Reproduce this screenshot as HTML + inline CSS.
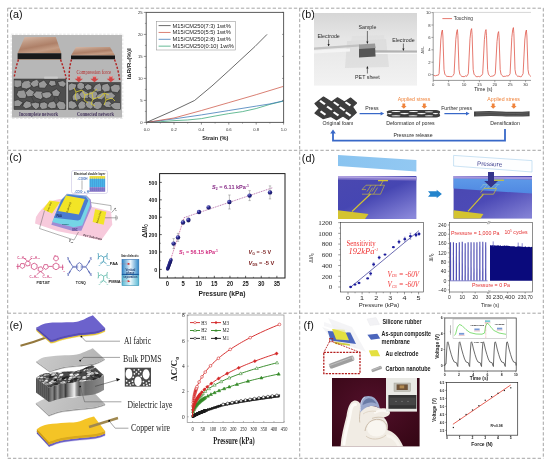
<!DOCTYPE html>
<html><head><meta charset="utf-8"><title>figure</title>
<style>html,body{margin:0;padding:0;background:#fff}svg{display:block}</style></head>
<body>
<svg width="550" height="466" viewBox="0 0 550 466">
<rect width="550" height="466" fill="#ffffff"/>
<line x1="7.70" y1="8.20" x2="543.30" y2="8.20" stroke="#8e8e8e" stroke-width="0.8" stroke-dasharray="3.3 2"/>
<line x1="7.70" y1="150.30" x2="543.30" y2="150.30" stroke="#8e8e8e" stroke-width="0.8" stroke-dasharray="3.3 2"/>
<line x1="7.70" y1="313.20" x2="543.30" y2="313.20" stroke="#8e8e8e" stroke-width="0.8" stroke-dasharray="3.3 2"/>
<line x1="7.70" y1="458.30" x2="543.30" y2="458.30" stroke="#8e8e8e" stroke-width="0.8" stroke-dasharray="3.3 2"/>
<line x1="7.70" y1="8.20" x2="7.70" y2="458.30" stroke="#8e8e8e" stroke-width="0.8" stroke-dasharray="3.3 2"/>
<line x1="299.70" y1="8.20" x2="299.70" y2="458.30" stroke="#8e8e8e" stroke-width="0.8" stroke-dasharray="3.3 2"/>
<line x1="543.30" y1="8.20" x2="543.30" y2="458.30" stroke="#8e8e8e" stroke-width="0.8" stroke-dasharray="3.3 2"/>
<text x="9.30" y="18.20" font-size="10.8" font-family='"Liberation Sans", sans-serif' fill="#111">(a)</text>
<text x="301.60" y="18.00" font-size="10.8" font-family='"Liberation Sans", sans-serif' fill="#111">(b)</text>
<text x="9.30" y="161.40" font-size="10.8" font-family='"Liberation Sans", sans-serif' fill="#111">(c)</text>
<text x="301.80" y="161.80" font-size="10.8" font-family='"Liberation Sans", sans-serif' fill="#111">(d)</text>
<text x="9.50" y="329.00" font-size="10.8" font-family='"Liberation Sans", sans-serif' fill="#111">(e)</text>
<text x="303.60" y="329.00" font-size="10.8" font-family='"Liberation Sans", sans-serif' fill="#111">(f)</text>
<g id="pa">
<rect x="12.00" y="35.00" width="110.00" height="82.60" fill="#b7b7b7" stroke="none" stroke-width="1" />
<rect x="11.20" y="34.20" width="111.60" height="84.20" fill="none" stroke="#c8c8c8" stroke-width="0.5" stroke-dasharray="2.5 1.5"/>
<defs><linearGradient id="cu" x1="0.1" y1="0" x2="0.6" y2="1"><stop offset="0" stop-color="#d4b8a8"/><stop offset="0.3" stop-color="#c09a84"/><stop offset="0.6" stop-color="#ae8068"/><stop offset="0.85" stop-color="#c49c84"/><stop offset="1" stop-color="#b88c70"/></linearGradient></defs>
<polygon points="24.70,37.00 55.80,37.00 61.30,53.30 17.60,53.30" fill="url(#cu)" stroke="none" stroke-width="1" />
<polygon points="17.60,53.30 61.30,53.30 61.30,59.30 17.60,59.30" fill="#1a1a1a" stroke="none" stroke-width="1" />
<line x1="17.60" y1="59.50" x2="61.30" y2="59.50" stroke="#b08868" stroke-width="0.5" />
<polygon points="76.00,47.00 110.00,47.00 115.00,55.60 71.00,55.60" fill="url(#cu)" stroke="none" stroke-width="1" />
<polygon points="71.00,55.60 115.00,55.60 115.00,59.20 71.00,59.20" fill="#161616" stroke="none" stroke-width="1" />
<path d="M18.5,59.5 Q15,70 14.2,78" fill="none" stroke="#b02020" stroke-width="1.4" stroke-dasharray="2.2 1.6"/>
<path d="M60.5,59.5 Q64.5,70 66.3,79" fill="none" stroke="#b02020" stroke-width="1.4" stroke-dasharray="2.2 1.6"/>
<path d="M71.5,59.5 Q68.5,70 69.3,80" fill="none" stroke="#b02020" stroke-width="1.4" stroke-dasharray="2.2 1.6"/>
<path d="M114.5,59.5 Q118.5,70 119.6,80" fill="none" stroke="#b02020" stroke-width="1.4" stroke-dasharray="2.2 1.6"/>
<rect x="14.00" y="79.00" width="52.00" height="30.60" fill="#4e4e4e" stroke="#333" stroke-width="0.5" />
<rect x="68.40" y="82.40" width="52.00" height="27.20" fill="#4e4e4e" stroke="#333" stroke-width="0.5" />
<clipPath id="abx0"><rect x="14.4" y="79.4" width="51.2" height="29.8"/></clipPath><g clip-path="url(#abx0)">
<line x1="35.48" y1="83.06" x2="26.31" y2="84.35" stroke="#2c2c2c" stroke-width="0.4" />
<line x1="42.93" y1="84.91" x2="52.09" y2="83.46" stroke="#2c2c2c" stroke-width="0.4" />
<line x1="29.88" y1="93.46" x2="35.67" y2="105.41" stroke="#2c2c2c" stroke-width="0.4" />
<line x1="38.54" y1="95.18" x2="46.98" y2="94.88" stroke="#2c2c2c" stroke-width="0.4" />
<line x1="46.98" y1="94.88" x2="35.67" y2="105.41" stroke="#2c2c2c" stroke-width="0.4" />
<line x1="55.94" y1="93.25" x2="61.12" y2="105.55" stroke="#2c2c2c" stroke-width="0.4" />
<line x1="17.50" y1="103.37" x2="27.30" y2="104.43" stroke="#2c2c2c" stroke-width="0.4" />
<line x1="27.30" y1="104.43" x2="17.50" y2="103.37" stroke="#2c2c2c" stroke-width="0.4" />
<line x1="35.67" y1="105.41" x2="35.67" y2="105.41" stroke="#2c2c2c" stroke-width="0.4" />
<line x1="52.36" y1="105.22" x2="55.94" y2="93.25" stroke="#2c2c2c" stroke-width="0.4" />
<polygon points="21.27,80.11 22.58,85.78 17.21,87.79 11.61,85.56 13.90,79.93" fill="#989898" stroke="#262626" stroke-width="0.6" stroke-linejoin="round"/>
<polygon points="30.89,87.25 26.42,89.07 21.23,87.83 21.60,83.54 24.30,81.07 28.53,80.34 31.87,83.20" fill="#989898" stroke="#262626" stroke-width="0.6" stroke-linejoin="round"/>
<polygon points="36.95,79.36 39.52,82.35 38.46,85.79 33.77,87.40 29.85,84.04 32.89,80.67" fill="#989898" stroke="#262626" stroke-width="0.6" stroke-linejoin="round"/>
<polygon points="39.14,87.93 38.35,82.90 43.97,79.99 47.43,84.38 44.88,88.21" fill="#989898" stroke="#262626" stroke-width="0.6" stroke-linejoin="round"/>
<polygon points="56.17,85.23 51.50,86.28 48.33,83.92 50.21,80.33 55.40,80.79" fill="#989898" stroke="#262626" stroke-width="0.6" stroke-linejoin="round"/>
<polygon points="66.40,83.58 64.05,87.20 59.47,86.18 57.56,81.93 63.01,80.55" fill="#989898" stroke="#262626" stroke-width="0.6" stroke-linejoin="round"/>
<polygon points="18.14,90.62 23.64,90.03 27.19,93.57 25.60,98.41 19.62,98.36 16.48,94.86" fill="#989898" stroke="#262626" stroke-width="0.6" stroke-linejoin="round"/>
<polygon points="34.51,91.83 32.90,96.33 27.46,96.80 25.20,92.57 29.36,88.63" fill="#989898" stroke="#262626" stroke-width="0.6" stroke-linejoin="round"/>
<polygon points="44.26,95.78 40.79,99.61 35.90,98.06 32.78,94.58 36.45,91.07 42.12,91.28" fill="#989898" stroke="#262626" stroke-width="0.6" stroke-linejoin="round"/>
<polygon points="46.13,98.73 42.60,96.82 41.68,93.00 46.00,91.92 49.62,91.89 52.02,94.70 49.82,97.57" fill="#989898" stroke="#262626" stroke-width="0.6" stroke-linejoin="round"/>
<polygon points="52.92,96.13 51.58,91.73 56.40,88.92 60.41,92.40 58.40,96.62" fill="#989898" stroke="#262626" stroke-width="0.6" stroke-linejoin="round"/>
<polygon points="23.09,102.52 19.58,106.53 13.90,106.51 12.44,101.38 18.11,99.54" fill="#989898" stroke="#262626" stroke-width="0.6" stroke-linejoin="round"/>
<polygon points="22.55,106.13 23.88,102.93 26.50,100.90 30.16,101.70 32.76,104.62 30.02,107.50 25.85,108.83" fill="#989898" stroke="#262626" stroke-width="0.6" stroke-linejoin="round"/>
<polygon points="35.46,102.13 39.62,103.29 39.31,106.94 35.94,109.67 32.67,107.02 30.75,103.34" fill="#989898" stroke="#262626" stroke-width="0.6" stroke-linejoin="round"/>
<polygon points="46.05,108.71 41.84,109.47 39.39,106.31 40.22,102.63 44.46,101.89 47.47,103.57 48.46,106.40" fill="#989898" stroke="#262626" stroke-width="0.6" stroke-linejoin="round"/>
<polygon points="46.91,106.24 49.13,102.34 53.96,100.94 56.39,104.47 55.79,108.28 51.02,108.80" fill="#989898" stroke="#262626" stroke-width="0.6" stroke-linejoin="round"/>
<polygon points="65.86,105.21 65.20,109.10 60.31,110.35 57.44,107.35 56.01,103.94 59.39,101.08 64.05,101.92" fill="#989898" stroke="#262626" stroke-width="0.6" stroke-linejoin="round"/>
</g>
<clipPath id="abx1"><rect x="68.80000000000001" y="82.80000000000001" width="51.2" height="26.4"/></clipPath><g clip-path="url(#abx1)">
<line x1="80.65" y1="86.28" x2="72.34" y2="86.43" stroke="#2c2c2c" stroke-width="0.4" />
<line x1="76.13" y1="96.96" x2="84.15" y2="94.83" stroke="#2c2c2c" stroke-width="0.4" />
<line x1="84.15" y1="94.83" x2="93.16" y2="95.21" stroke="#2c2c2c" stroke-width="0.4" />
<polygon points="75.31,88.87 69.45,91.14 66.31,85.65 71.66,82.97 77.01,84.45" fill="#989898" stroke="#262626" stroke-width="0.6" stroke-linejoin="round"/>
<polygon points="84.68,87.89 80.98,89.98 77.09,88.27 76.86,84.76 80.23,81.51 84.43,84.16" fill="#989898" stroke="#262626" stroke-width="0.6" stroke-linejoin="round"/>
<polygon points="87.86,83.70 91.91,85.63 91.64,89.26 87.06,90.36 84.06,86.76" fill="#989898" stroke="#262626" stroke-width="0.6" stroke-linejoin="round"/>
<polygon points="95.16,85.09 99.90,82.85 101.97,87.03 101.52,91.15 95.95,92.27 93.16,88.43" fill="#989898" stroke="#262626" stroke-width="0.6" stroke-linejoin="round"/>
<polygon points="101.40,88.87 102.20,84.63 107.67,83.19 110.29,87.02 109.72,91.01 104.63,92.08" fill="#989898" stroke="#262626" stroke-width="0.6" stroke-linejoin="round"/>
<polygon points="111.56,91.68 110.14,86.68 114.76,84.15 119.72,84.85 120.30,88.88 117.64,92.84" fill="#989898" stroke="#262626" stroke-width="0.6" stroke-linejoin="round"/>
<polygon points="77.57,92.56 81.33,95.10 80.78,99.00 76.89,100.35 72.64,100.29 72.18,96.83 73.60,94.11" fill="#989898" stroke="#262626" stroke-width="0.6" stroke-linejoin="round"/>
<polygon points="78.83,94.08 83.34,90.23 88.58,93.02 88.35,98.39 81.90,98.38" fill="#989898" stroke="#262626" stroke-width="0.6" stroke-linejoin="round"/>
<polygon points="96.35,91.26 99.08,96.59 93.42,100.53 87.98,96.80 89.40,91.28" fill="#989898" stroke="#262626" stroke-width="0.6" stroke-linejoin="round"/>
<polygon points="96.09,96.11 98.88,93.93 102.36,92.50 105.86,94.77 103.99,97.83 101.56,99.70 97.86,99.16" fill="#989898" stroke="#262626" stroke-width="0.6" stroke-linejoin="round"/>
<polygon points="115.71,95.73 111.72,99.85 105.41,98.66 104.83,92.75 111.44,92.09" fill="#989898" stroke="#262626" stroke-width="0.6" stroke-linejoin="round"/>
<polygon points="66.23,102.72 71.18,100.60 75.39,102.13 77.65,106.20 72.97,109.23 67.27,107.71" fill="#989898" stroke="#262626" stroke-width="0.6" stroke-linejoin="round"/>
<polygon points="81.88,100.70 85.61,102.62 86.33,106.03 83.76,108.91 79.02,109.20 77.71,105.64 78.70,102.89" fill="#989898" stroke="#262626" stroke-width="0.6" stroke-linejoin="round"/>
<polygon points="85.15,104.26 87.12,100.71 91.65,101.23 94.58,103.42 94.01,106.67 90.83,109.16 86.85,107.51" fill="#989898" stroke="#262626" stroke-width="0.6" stroke-linejoin="round"/>
<polygon points="92.61,104.13 95.58,101.41 100.10,101.16 102.42,104.31 101.42,107.67 97.62,109.83 93.38,107.92" fill="#989898" stroke="#262626" stroke-width="0.6" stroke-linejoin="round"/>
<polygon points="103.18,104.76 105.16,101.65 109.29,100.91 111.89,103.81 110.83,107.76 106.09,107.29" fill="#989898" stroke="#262626" stroke-width="0.6" stroke-linejoin="round"/>
<polygon points="114.78,102.35 120.05,102.61 122.57,107.23 117.99,110.70 113.32,108.70 109.64,104.88" fill="#989898" stroke="#262626" stroke-width="0.6" stroke-linejoin="round"/>
</g>
<polyline points="74.00,88.00 76.00,92.00 75.00,97.00 77.00,101.00" fill="none" stroke="#d8cc30" stroke-width="0.8" />
<polyline points="76.00,92.00 82.00,90.00 85.00,95.00 84.00,100.00 88.00,103.00" fill="none" stroke="#d8cc30" stroke-width="0.8" />
<polyline points="85.00,95.00 92.00,93.00 97.00,89.00" fill="none" stroke="#d8cc30" stroke-width="0.8" />
<polyline points="92.00,93.00 93.00,99.00 91.00,104.00 95.00,106.00" fill="none" stroke="#d8cc30" stroke-width="0.8" />
<polyline points="93.00,99.00 100.00,97.00 104.00,93.00 109.00,95.00" fill="none" stroke="#d8cc30" stroke-width="0.8" />
<polyline points="104.00,93.00 106.00,100.00 104.00,105.00" fill="none" stroke="#d8cc30" stroke-width="0.8" />
<polyline points="106.00,100.00 112.00,98.00 115.00,101.00" fill="none" stroke="#d8cc30" stroke-width="0.8" />
<text x="38.50" y="116.40" font-size="5.4" font-family='"Liberation Serif", serif' fill="#46365e" text-anchor="middle" font-weight="bold" textLength="39.00" lengthAdjust="spacingAndGlyphs">Incomplete network</text>
<text x="95.50" y="116.20" font-size="5.4" font-family='"Liberation Serif", serif' fill="#46365e" text-anchor="middle" font-weight="bold" textLength="37.00" lengthAdjust="spacingAndGlyphs">Connected network</text>
<text x="93.80" y="74.00" font-size="5.4" font-family='"Liberation Serif", serif' fill="#b42c2c" text-anchor="middle" textLength="34.50" lengthAdjust="spacingAndGlyphs">Compression force</text>
<rect x="44.00" y="76.60" width="14.00" height="2.20" fill="#cdcdcd" stroke="none" stroke-width="1" opacity="0.8" rx="1"/>
<polygon points="77.20,76.00 80.40,76.00 80.40,78.80 82.90,78.80 78.80,82.20 74.70,78.80 77.20,78.80" fill="#d24646" stroke="none" stroke-width="1" />
<rect x="77.20" y="76.00" width="3.20" height="1.20" fill="#e89090" stroke="none" stroke-width="1" />
<polygon points="92.90,76.00 96.10,76.00 96.10,78.80 98.60,78.80 94.50,82.20 90.40,78.80 92.90,78.80" fill="#d24646" stroke="none" stroke-width="1" />
<rect x="92.90" y="76.00" width="3.20" height="1.20" fill="#e89090" stroke="none" stroke-width="1" />
<polygon points="109.20,76.00 112.40,76.00 112.40,78.80 114.90,78.80 110.80,82.20 106.70,78.80 109.20,78.80" fill="#d24646" stroke="none" stroke-width="1" />
<rect x="109.20" y="76.00" width="3.20" height="1.20" fill="#e89090" stroke="none" stroke-width="1" />
</g>
<polyline points="146.60,122.40 160.30,121.74 174.00,120.64 187.70,119.98 201.40,118.62 215.10,116.02 228.80,113.60 242.50,111.62 256.20,108.54 269.90,104.36 283.60,101.06" fill="none" stroke="#35a574" stroke-width="0.75" stroke-linejoin="round"/>
<polyline points="146.60,122.40 174.00,118.88 201.40,114.92 228.80,110.52 256.20,106.12 269.90,103.92 283.60,100.84" fill="none" stroke="#3574b4" stroke-width="0.75" stroke-linejoin="round"/>
<polyline points="146.60,122.40 174.00,118.00 201.40,110.52 228.80,102.60 256.20,94.68 283.60,86.32" fill="none" stroke="#cc5545" stroke-width="0.75" stroke-linejoin="round"/>
<polyline points="146.60,122.40 174.00,110.30 194.55,100.49 211.95,86.01 228.80,70.70 254.97,46.50 267.02,34.40" fill="none" stroke="#3a3a3a" stroke-width="0.75" stroke-linejoin="round"/>
<rect x="146.20" y="12.40" width="137.40" height="110.00" fill="none" stroke="#5c5c5c" stroke-width="1.0" />
<line x1="143.80" y1="122.40" x2="146.20" y2="122.40" stroke="#4a4a4a" stroke-width="0.6" />
<line x1="282.00" y1="122.40" x2="283.60" y2="122.40" stroke="#4a4a4a" stroke-width="0.5" />
<text x="142.60" y="123.90" font-size="4.2" font-family='"Liberation Sans", sans-serif' fill="#333" text-anchor="end">0</text>
<line x1="143.80" y1="100.40" x2="146.20" y2="100.40" stroke="#4a4a4a" stroke-width="0.6" />
<line x1="282.00" y1="100.40" x2="283.60" y2="100.40" stroke="#4a4a4a" stroke-width="0.5" />
<text x="142.60" y="101.90" font-size="4.2" font-family='"Liberation Sans", sans-serif' fill="#333" text-anchor="end">5</text>
<line x1="143.80" y1="78.40" x2="146.20" y2="78.40" stroke="#4a4a4a" stroke-width="0.6" />
<line x1="282.00" y1="78.40" x2="283.60" y2="78.40" stroke="#4a4a4a" stroke-width="0.5" />
<text x="142.60" y="79.90" font-size="4.2" font-family='"Liberation Sans", sans-serif' fill="#333" text-anchor="end">10</text>
<line x1="143.80" y1="56.40" x2="146.20" y2="56.40" stroke="#4a4a4a" stroke-width="0.6" />
<line x1="282.00" y1="56.40" x2="283.60" y2="56.40" stroke="#4a4a4a" stroke-width="0.5" />
<text x="142.60" y="57.90" font-size="4.2" font-family='"Liberation Sans", sans-serif' fill="#333" text-anchor="end">15</text>
<line x1="143.80" y1="34.40" x2="146.20" y2="34.40" stroke="#4a4a4a" stroke-width="0.6" />
<line x1="282.00" y1="34.40" x2="283.60" y2="34.40" stroke="#4a4a4a" stroke-width="0.5" />
<text x="142.60" y="35.90" font-size="4.2" font-family='"Liberation Sans", sans-serif' fill="#333" text-anchor="end">20</text>
<line x1="143.80" y1="12.40" x2="146.20" y2="12.40" stroke="#4a4a4a" stroke-width="0.6" />
<line x1="282.00" y1="12.40" x2="283.60" y2="12.40" stroke="#4a4a4a" stroke-width="0.5" />
<text x="142.60" y="13.90" font-size="4.2" font-family='"Liberation Sans", sans-serif' fill="#333" text-anchor="end">25</text>
<line x1="144.90" y1="111.40" x2="146.20" y2="111.40" stroke="#4a4a4a" stroke-width="0.5" />
<line x1="144.90" y1="89.40" x2="146.20" y2="89.40" stroke="#4a4a4a" stroke-width="0.5" />
<line x1="144.90" y1="67.40" x2="146.20" y2="67.40" stroke="#4a4a4a" stroke-width="0.5" />
<line x1="144.90" y1="45.40" x2="146.20" y2="45.40" stroke="#4a4a4a" stroke-width="0.5" />
<line x1="144.90" y1="23.40" x2="146.20" y2="23.40" stroke="#4a4a4a" stroke-width="0.5" />
<line x1="146.60" y1="122.40" x2="146.60" y2="124.60" stroke="#4a4a4a" stroke-width="0.6" />
<text x="146.60" y="131.00" font-size="4.2" font-family='"Liberation Sans", sans-serif' fill="#333" text-anchor="middle">0.0</text>
<line x1="174.00" y1="122.40" x2="174.00" y2="124.60" stroke="#4a4a4a" stroke-width="0.6" />
<text x="174.00" y="131.00" font-size="4.2" font-family='"Liberation Sans", sans-serif' fill="#333" text-anchor="middle">0.2</text>
<line x1="201.40" y1="122.40" x2="201.40" y2="124.60" stroke="#4a4a4a" stroke-width="0.6" />
<text x="201.40" y="131.00" font-size="4.2" font-family='"Liberation Sans", sans-serif' fill="#333" text-anchor="middle">0.4</text>
<line x1="228.80" y1="122.40" x2="228.80" y2="124.60" stroke="#4a4a4a" stroke-width="0.6" />
<text x="228.80" y="131.00" font-size="4.2" font-family='"Liberation Sans", sans-serif' fill="#333" text-anchor="middle">0.6</text>
<line x1="256.20" y1="122.40" x2="256.20" y2="124.60" stroke="#4a4a4a" stroke-width="0.6" />
<text x="256.20" y="131.00" font-size="4.2" font-family='"Liberation Sans", sans-serif' fill="#333" text-anchor="middle">0.8</text>
<line x1="283.60" y1="122.40" x2="283.60" y2="124.60" stroke="#4a4a4a" stroke-width="0.6" />
<text x="283.60" y="131.00" font-size="4.2" font-family='"Liberation Sans", sans-serif' fill="#333" text-anchor="middle">1.0</text>
<line x1="160.30" y1="122.40" x2="160.30" y2="123.60" stroke="#4a4a4a" stroke-width="0.5" />
<line x1="187.70" y1="122.40" x2="187.70" y2="123.60" stroke="#4a4a4a" stroke-width="0.5" />
<line x1="215.10" y1="122.40" x2="215.10" y2="123.60" stroke="#4a4a4a" stroke-width="0.5" />
<line x1="242.50" y1="122.40" x2="242.50" y2="123.60" stroke="#4a4a4a" stroke-width="0.5" />
<line x1="269.90" y1="122.40" x2="269.90" y2="123.60" stroke="#4a4a4a" stroke-width="0.5" />
<text x="215.40" y="139.50" font-size="5.6" font-family='"Liberation Sans", sans-serif' fill="#222" text-anchor="middle" font-weight="bold">Strain (%)</text>
<text x="131.20" y="63.70" font-size="5.0" font-family='"Liberation Sans", sans-serif' fill="#222" text-anchor="middle" font-weight="bold" textLength="31.00" lengthAdjust="spacingAndGlyphs" transform="rotate(-90 131.20 63.70)">I∆R/R₀(%)I</text>
<rect x="156.60" y="21.40" width="79.00" height="28.60" fill="#fff" stroke="#8a8a8a" stroke-width="0.5" />
<line x1="158.60" y1="25.60" x2="170.60" y2="25.60" stroke="#3a3a3a" stroke-width="0.75" />
<text x="172.60" y="27.60" font-size="5.7" font-family='"Liberation Sans", sans-serif' fill="#222">M15/CM250(7:3) 1wt%</text>
<line x1="158.60" y1="32.45" x2="170.60" y2="32.45" stroke="#cc5545" stroke-width="0.75" />
<text x="172.60" y="34.45" font-size="5.7" font-family='"Liberation Sans", sans-serif' fill="#222">M15/CM250(5:5) 1wt%</text>
<line x1="158.60" y1="39.30" x2="170.60" y2="39.30" stroke="#3574b4" stroke-width="0.75" />
<text x="172.60" y="41.30" font-size="5.7" font-family='"Liberation Sans", sans-serif' fill="#222">M15/CM250(2:8) 1wt%</text>
<line x1="158.60" y1="46.15" x2="170.60" y2="46.15" stroke="#35a574" stroke-width="0.75" />
<text x="172.60" y="48.15" font-size="5.7" font-family='"Liberation Sans", sans-serif' fill="#222">M15/CM250(0:10) 1wt%</text>
<defs><linearGradient id="bph" x1="0" y1="0" x2="0" y2="1"><stop offset="0" stop-color="#d6d6d6"/><stop offset="0.35" stop-color="#e6e6e6"/><stop offset="1" stop-color="#f2f2f2"/></linearGradient><filter id="bl0" x="-10%" y="-10%" width="120%" height="120%"><feGaussianBlur stdDeviation="0.35"/></filter><filter id="bl1" x="-10%" y="-10%" width="120%" height="120%"><feGaussianBlur stdDeviation="0.7"/></filter></defs>
<rect x="314.00" y="13.00" width="103.00" height="72.60" fill="url(#bph)" stroke="none" stroke-width="1" />
<g filter="url(#bl1)">
<polygon points="347.00,41.00 386.00,39.00 389.00,67.00 345.00,68.00" fill="#d6d6d6" stroke="none" stroke-width="1" opacity="0.55"/>
<polygon points="352.00,36.00 384.00,35.00 386.00,50.00 350.00,50.00" fill="#dedede" stroke="none" stroke-width="1" opacity="0.6"/>
<polygon points="314.00,47.40 360.00,44.20 360.00,46.60 314.00,49.80" fill="#c2c2c2" stroke="none" stroke-width="1" />
<polygon points="314.00,50.50 350.00,48.50 350.00,51.50 314.00,53.50" fill="#f4f4f4" stroke="none" stroke-width="1" />
<polygon points="375.00,50.20 417.00,50.40 417.00,52.80 375.00,52.80" fill="#b2b2b2" stroke="none" stroke-width="1" />
<polygon points="375.00,52.80 417.00,52.80 417.00,54.00 375.00,54.00" fill="#f6f6f6" stroke="none" stroke-width="1" />
<polygon points="359.00,47.00 375.00,46.00 375.60,56.40 359.00,57.40" fill="#565656" stroke="none" stroke-width="1" />
<polygon points="359.00,44.60 375.00,43.60 375.60,48.00 359.00,49.00" fill="#9a9a9a" stroke="none" stroke-width="1" />
</g>
<text x="367.40" y="29.40" font-size="5.3" font-family='"Liberation Sans", sans-serif' fill="#2a2a2a" text-anchor="middle">Sample</text>
<text x="328.60" y="37.80" font-size="5.3" font-family='"Liberation Sans", sans-serif' fill="#2a2a2a" text-anchor="middle">Electrode</text>
<text x="403.40" y="41.80" font-size="5.3" font-family='"Liberation Sans", sans-serif' fill="#2a2a2a" text-anchor="middle">Electrode</text>
<text x="367.40" y="79.30" font-size="5.3" font-family='"Liberation Sans", sans-serif' fill="#2a2a2a" text-anchor="middle">PET sheet</text>
<line x1="367.40" y1="31.00" x2="367.40" y2="43.50" stroke="#222" stroke-width="0.6" />
<polygon points="366.28,41.42 368.52,41.42 367.40,43.80" fill="#222" stroke="none" stroke-width="1" />
<line x1="328.60" y1="39.50" x2="328.60" y2="46.00" stroke="#222" stroke-width="0.6" />
<polygon points="327.48,43.92 329.72,43.92 328.60,46.30" fill="#222" stroke="none" stroke-width="1" />
<line x1="403.40" y1="43.50" x2="403.40" y2="50.50" stroke="#222" stroke-width="0.6" />
<polygon points="402.28,48.42 404.52,48.42 403.40,50.80" fill="#222" stroke="none" stroke-width="1" />
<line x1="367.40" y1="73.50" x2="367.40" y2="66.50" stroke="#222" stroke-width="0.6" />
<polygon points="366.28,68.58 368.52,68.58 367.40,66.20" fill="#222" stroke="none" stroke-width="1" />
<polyline points="433.40,75.40 435.50,75.80 437.20,75.20 438.20,75.30 439.10,73.60 440.80,40.00 441.70,32.00 442.40,30.00 442.90,36.00 444.00,69.60 444.80,74.10 445.70,75.40 446.90,76.50 447.90,76.42 449.20,76.54 450.50,76.60 451.80,76.74 453.20,75.30 454.10,73.60 455.80,39.60 456.70,31.60 457.40,29.60 457.90,35.60 459.00,69.60 459.80,74.10 460.70,75.40 461.90,76.50 462.90,76.54 464.20,76.72 465.50,75.83 466.80,76.27 467.40,75.30 468.30,73.60 470.00,38.60 470.90,30.60 471.60,28.60 472.10,34.60 473.20,69.60 474.00,74.10 474.90,75.40 476.10,76.50 477.10,76.74 478.40,76.45 479.70,76.70 481.00,75.91 481.80,75.30 482.70,73.60 484.40,39.60 485.30,31.60 486.00,29.60 486.50,35.60 487.60,69.60 488.40,74.10 489.30,75.40 490.50,76.50 491.50,76.27 492.80,76.05 494.40,75.30 495.30,73.60 497.00,41.60 497.90,33.60 498.60,31.60 499.10,37.60 500.20,69.60 501.00,74.10 501.90,75.40 503.10,76.50 504.10,76.34 505.40,76.37 506.70,75.81 508.00,76.02 509.20,75.30 510.10,73.60 511.80,37.60 512.70,29.60 513.40,27.60 513.90,33.60 515.00,69.60 515.80,74.10 516.70,75.40 517.90,76.50 518.90,76.08 520.20,76.72 521.50,76.57 522.20,75.30 523.10,73.60 524.80,40.00 525.70,32.00 526.40,30.00 526.90,36.00 528.00,69.60 528.80,74.10 529.70,75.40 530.90,76.50" fill="none" stroke="#e0574a" stroke-width="0.8" stroke-linejoin="round"/>
<line x1="433.20" y1="12.40" x2="531.00" y2="12.40" stroke="#b8b8b8" stroke-width="0.6" />
<line x1="433.20" y1="12.40" x2="433.20" y2="80.40" stroke="#6e6e6e" stroke-width="0.7" />
<line x1="433.20" y1="80.40" x2="531.00" y2="80.40" stroke="#6e6e6e" stroke-width="0.7" />
<line x1="431.40" y1="74.60" x2="433.20" y2="74.60" stroke="#4a4a4a" stroke-width="0.5" />
<text x="430.60" y="76.10" font-size="4.2" font-family='"Liberation Sans", sans-serif' fill="#333" text-anchor="end">0</text>
<line x1="431.40" y1="62.20" x2="433.20" y2="62.20" stroke="#4a4a4a" stroke-width="0.5" />
<text x="430.60" y="63.70" font-size="4.2" font-family='"Liberation Sans", sans-serif' fill="#333" text-anchor="end">2</text>
<line x1="431.40" y1="49.80" x2="433.20" y2="49.80" stroke="#4a4a4a" stroke-width="0.5" />
<text x="430.60" y="51.30" font-size="4.2" font-family='"Liberation Sans", sans-serif' fill="#333" text-anchor="end">4</text>
<line x1="431.40" y1="37.40" x2="433.20" y2="37.40" stroke="#4a4a4a" stroke-width="0.5" />
<text x="430.60" y="38.90" font-size="4.2" font-family='"Liberation Sans", sans-serif' fill="#333" text-anchor="end">6</text>
<line x1="431.40" y1="25.00" x2="433.20" y2="25.00" stroke="#4a4a4a" stroke-width="0.5" />
<text x="430.60" y="26.50" font-size="4.2" font-family='"Liberation Sans", sans-serif' fill="#333" text-anchor="end">8</text>
<line x1="431.40" y1="12.60" x2="433.20" y2="12.60" stroke="#4a4a4a" stroke-width="0.5" />
<text x="430.60" y="14.10" font-size="4.2" font-family='"Liberation Sans", sans-serif' fill="#333" text-anchor="end">10</text>
<line x1="433.20" y1="80.40" x2="433.20" y2="82.20" stroke="#4a4a4a" stroke-width="0.5" />
<text x="433.20" y="86.20" font-size="4.2" font-family='"Liberation Sans", sans-serif' fill="#333" text-anchor="middle">0</text>
<line x1="448.60" y1="80.40" x2="448.60" y2="82.20" stroke="#4a4a4a" stroke-width="0.5" />
<text x="448.60" y="86.20" font-size="4.2" font-family='"Liberation Sans", sans-serif' fill="#333" text-anchor="middle">5</text>
<line x1="464.00" y1="80.40" x2="464.00" y2="82.20" stroke="#4a4a4a" stroke-width="0.5" />
<text x="464.00" y="86.20" font-size="4.2" font-family='"Liberation Sans", sans-serif' fill="#333" text-anchor="middle">10</text>
<line x1="479.40" y1="80.40" x2="479.40" y2="82.20" stroke="#4a4a4a" stroke-width="0.5" />
<text x="479.40" y="86.20" font-size="4.2" font-family='"Liberation Sans", sans-serif' fill="#333" text-anchor="middle">15</text>
<line x1="494.80" y1="80.40" x2="494.80" y2="82.20" stroke="#4a4a4a" stroke-width="0.5" />
<text x="494.80" y="86.20" font-size="4.2" font-family='"Liberation Sans", sans-serif' fill="#333" text-anchor="middle">20</text>
<line x1="510.20" y1="80.40" x2="510.20" y2="82.20" stroke="#4a4a4a" stroke-width="0.5" />
<text x="510.20" y="86.20" font-size="4.2" font-family='"Liberation Sans", sans-serif' fill="#333" text-anchor="middle">25</text>
<line x1="525.60" y1="80.40" x2="525.60" y2="82.20" stroke="#4a4a4a" stroke-width="0.5" />
<text x="525.60" y="86.20" font-size="4.2" font-family='"Liberation Sans", sans-serif' fill="#333" text-anchor="middle">30</text>
<text x="483.40" y="91.20" font-size="5.0" font-family='"Liberation Sans", sans-serif' fill="#222" text-anchor="middle">Time (s)</text>
<text x="424.20" y="50.00" font-size="3.6" font-family='"Liberation Sans", sans-serif' fill="#333" text-anchor="middle" transform="rotate(-90 424.20 50.00)">ΔI/I₀</text>
<line x1="442.40" y1="18.60" x2="452.00" y2="18.60" stroke="#e0574a" stroke-width="0.8" />
<text x="453.80" y="20.30" font-size="4.8" font-family='"Liberation Sans", sans-serif' fill="#333">Touching</text>
<g filter="url(#bl0)">
<polygon points="315.00,103.50 323.50,97.00 331.50,102.00 337.50,97.80 344.50,102.00 350.50,98.00 356.50,103.00 352.50,106.80 356.30,112.50 348.50,119.60 343.00,116.00 336.50,119.80 331.00,116.50 323.00,118.60 315.00,113.20 319.30,108.40" fill="#3c3c3c" stroke="#3c3c3c" stroke-width="1.2" stroke-linejoin="round"/>
<polygon points="319.30,101.50 320.80,100.10 325.70,103.50 324.20,104.90" fill="#fff" stroke="none" stroke-width="1" />
<polygon points="333.00,102.80 334.50,101.40 339.40,104.80 337.90,106.20" fill="#fff" stroke="none" stroke-width="1" />
<polygon points="344.80,102.80 346.30,101.40 351.20,104.80 349.70,106.20" fill="#fff" stroke="none" stroke-width="1" />
<polygon points="326.30,107.20 327.80,105.80 332.70,109.20 331.20,110.60" fill="#fff" stroke="none" stroke-width="1" />
<polygon points="339.00,107.80 340.50,106.40 345.40,109.80 343.90,111.20" fill="#fff" stroke="none" stroke-width="1" />
<polygon points="319.80,112.00 321.30,110.60 326.20,114.00 324.70,115.40" fill="#fff" stroke="none" stroke-width="1" />
<polygon points="332.80,112.80 334.30,111.40 339.20,114.80 337.70,116.20" fill="#fff" stroke="none" stroke-width="1" />
<polygon points="345.00,113.00 346.50,111.60 351.40,115.00 349.90,116.40" fill="#fff" stroke="none" stroke-width="1" />
</g>
<text x="338.00" y="124.80" font-size="5.2" font-family='"Liberation Sans", sans-serif' fill="#2a2a2a" text-anchor="middle">Original foam</text>
<text x="372.00" y="109.80" font-size="5.2" font-family='"Liberation Sans", sans-serif' fill="#2a2a2a" text-anchor="middle">Press</text>
<line x1="359.60" y1="113.60" x2="381.80" y2="113.60" stroke="#3868c8" stroke-width="1.25" />
<polygon points="380.60,111.80 384.20,113.60 380.60,115.40" fill="#3868c8" stroke="none" stroke-width="1" />
<text x="456.60" y="109.80" font-size="5.2" font-family='"Liberation Sans", sans-serif' fill="#2a2a2a" text-anchor="middle">Further press</text>
<line x1="444.40" y1="113.60" x2="467.20" y2="113.60" stroke="#3868c8" stroke-width="1.25" />
<polygon points="466.00,111.80 469.60,113.60 466.00,115.40" fill="#3868c8" stroke="none" stroke-width="1" />
<g filter="url(#bl0)">
<path d="M386.6,111.6 Q388,109.9 392,109.9 L436,109.9 Q440,110.2 440.2,112 Q438.5,113.6 440.2,115.2 Q440,117.3 436,117.4 L392,117.4 Q388,117.4 386.6,115.6 Q388.2,113.6 386.6,111.6 Z" fill="#3c3c3c" stroke="none" stroke-width="1" />
<ellipse cx="396.00" cy="111.50" rx="4.6" ry="0.55" fill="#fff" stroke="none" stroke-width="1" />
<ellipse cx="413.50" cy="111.50" rx="4.6" ry="0.55" fill="#fff" stroke="none" stroke-width="1" />
<ellipse cx="429.00" cy="111.80" rx="4.2" ry="0.55" fill="#fff" stroke="none" stroke-width="1" />
<ellipse cx="404.50" cy="113.60" rx="4.4" ry="0.55" fill="#fff" stroke="none" stroke-width="1" />
<ellipse cx="421.50" cy="113.60" rx="4.4" ry="0.55" fill="#fff" stroke="none" stroke-width="1" />
<ellipse cx="435.50" cy="113.60" rx="2.8" ry="0.55" fill="#fff" stroke="none" stroke-width="1" />
<ellipse cx="389.80" cy="113.60" rx="2.0" ry="0.55" fill="#fff" stroke="none" stroke-width="1" />
<ellipse cx="396.00" cy="115.70" rx="4.6" ry="0.55" fill="#fff" stroke="none" stroke-width="1" />
<ellipse cx="413.00" cy="115.70" rx="4.6" ry="0.55" fill="#fff" stroke="none" stroke-width="1" />
<ellipse cx="429.00" cy="115.70" rx="4.2" ry="0.55" fill="#fff" stroke="none" stroke-width="1" />
</g>
<text x="414.00" y="101.20" font-size="5.2" font-family='"Liberation Sans", sans-serif' fill="#f0843c" text-anchor="middle">Applied stress</text>
<text x="503.60" y="101.20" font-size="5.2" font-family='"Liberation Sans", sans-serif' fill="#f0843c" text-anchor="middle">Applied stress</text>
<polygon points="402.40,103.40 405.20,103.40 405.20,105.90 406.60,105.90 403.80,108.80 401.00,105.90 402.40,105.90" fill="#f0843c" stroke="none" stroke-width="1" />
<polygon points="422.90,103.40 425.70,103.40 425.70,105.90 427.10,105.90 424.30,108.80 421.50,105.90 422.90,105.90" fill="#f0843c" stroke="none" stroke-width="1" />
<polygon points="491.80,103.40 494.60,103.40 494.60,105.90 496.00,105.90 493.20,108.80 490.40,105.90 491.80,105.90" fill="#f0843c" stroke="none" stroke-width="1" />
<polygon points="512.40,103.40 515.20,103.40 515.20,105.90 516.60,105.90 513.80,108.80 511.00,105.90 512.40,105.90" fill="#f0843c" stroke="none" stroke-width="1" />
<text x="410.40" y="124.80" font-size="5.2" font-family='"Liberation Sans", sans-serif' fill="#2a2a2a" text-anchor="middle">Deformation of pores</text>
<path d="M474,111.5 Q488,110.4 502,111.4 T529.6,111.2 L529.6,116.2 Q516,117.0 502,116.2 T474,116.6 Z" fill="#474747" stroke="none" stroke-width="1" />
<path d="M476,112.9 Q490,112.2 503,113.2 T528,112.8" fill="none" stroke="#7c7c7c" stroke-width="0.45" />
<path d="M476,115.0 Q490,114.6 503,115.2 T528,114.8" fill="none" stroke="#787878" stroke-width="0.4" />
<text x="505.00" y="124.80" font-size="5.2" font-family='"Liberation Sans", sans-serif' fill="#2a2a2a" text-anchor="middle">Densification</text>
<polyline points="505.00,129.00 505.00,140.60 333.00,140.60 333.00,132.00" fill="none" stroke="#3868c8" stroke-width="1.8" />
<polygon points="330.20,133.40 335.80,133.40 333.00,129.40" fill="#3868c8" stroke="none" stroke-width="1" />
<text x="413.00" y="137.40" font-size="5.2" font-family='"Liberation Sans", sans-serif' fill="#2a2a2a" text-anchor="middle">Pressure release</text>
<defs><filter id="bl2" x="-10%" y="-10%" width="120%" height="120%"><feGaussianBlur stdDeviation="0.3"/></filter><radialGradient id="sph" cx="0.35" cy="0.3" r="0.7"><stop offset="0" stop-color="#8a8ad8"/><stop offset="0.45" stop-color="#2a2a90"/><stop offset="1" stop-color="#141460"/></radialGradient></defs>
<g filter="url(#bl2)">
<path d="M35,223.5 L36,217 Q40,210.5 43,208 Q47,203.5 50.5,201 L60,199 L90.5,206.5 L111,211.5 L112.3,224.7 L101,240.5 L81,235.8 L58,231.2 Z" fill="#f7cadc" stroke="none" stroke-width="1" />
<polyline points="44.50,210.50 39.50,228.50 74.00,240.00 78.50,232.00" fill="none" stroke="#555" stroke-width="0.45" />
<polyline points="91.00,202.60 111.00,205.60 111.00,210.40" fill="none" stroke="#555" stroke-width="0.45" />
<polygon points="43.00,209.50 49.50,200.50 60.00,202.00 52.00,213.50" fill="#f2e428" stroke="none" stroke-width="1" />
<polygon points="51.30,224.70 60.80,200.60 66.80,193.80 86.50,195.50 90.80,199.80 91.70,206.70 81.40,230.70 72.00,230.70" fill="#a08cd4" stroke="none" stroke-width="1" stroke="#a08cd4" stroke-width="0.8" stroke-linejoin="round"/>
<polygon points="52.20,222.00 61.20,200.20 67.20,194.20 86.00,196.00 89.60,200.20 90.00,205.00 82.30,225.60 73.70,227.30" fill="#74d4e6" stroke="none" stroke-width="1" />
<polygon points="53.90,217.80 61.60,199.80 67.60,194.60 85.70,196.40 88.30,200.60 80.50,219.50 78.00,220.40" fill="#4c7cd0" stroke="none" stroke-width="1" stroke="#4c7cd0" stroke-width="0.6" stroke-linejoin="round"/>
<polygon points="58.20,211.00 66.00,195.50 84.80,199.00 78.80,214.40" fill="#f2e428" stroke="none" stroke-width="1" />
<polygon points="92.60,222.10 95.10,209.20 106.30,211.80 103.70,224.70" fill="#f2e428" stroke="none" stroke-width="1" />
</g>
<line x1="105.00" y1="217.80" x2="116.00" y2="217.80" stroke="#444" stroke-width="0.45" />
<line x1="116.00" y1="215.20" x2="116.00" y2="220.40" stroke="#444" stroke-width="0.55" />
<line x1="117.30" y1="216.40" x2="117.30" y2="219.20" stroke="#444" stroke-width="0.45" />
<line x1="111.60" y1="212.60" x2="115.20" y2="208.60" stroke="#444" stroke-width="0.45" />
<polygon points="114.20,208.40 115.80,207.80 115.40,209.60" fill="#444" stroke="none" stroke-width="1" />
<text x="69.50" y="207.50" font-size="2.4" font-family='"Liberation Sans", sans-serif' fill="#5a5010" text-anchor="middle" font-weight="bold" transform="rotate(-72 69.50 207.50)">Gate (Au)</text>
<text x="50.00" y="207.00" font-size="2.0" font-family='"Liberation Sans", sans-serif' fill="#5a5010" text-anchor="middle" font-weight="bold" transform="rotate(-68 50.00 207.00)">Drain (Au)</text>
<text x="99.50" y="217.50" font-size="2.2" font-family='"Liberation Sans", sans-serif' fill="#5a5010" text-anchor="middle" font-weight="bold" transform="rotate(-72 99.50 217.50)">Source (Au)</text>
<text x="56.50" y="217.00" font-size="2.6" font-family='"Liberation Sans", sans-serif' fill="#1c2c60" font-weight="bold">PAA</text>
<text x="62.00" y="224.60" font-size="2.4" font-family='"Liberation Sans", sans-serif' fill="#1c5060" font-weight="bold">PMMA</text>
<text x="72.00" y="231.40" font-size="2.6" font-family='"Liberation Sans", sans-serif' fill="#3c2c70" font-weight="bold">OSC</text>
<text x="83.00" y="236.00" font-size="2.8" font-family='"Liberation Sans", sans-serif' fill="#40303a" font-weight="bold" transform="rotate(12 83.00 236.00)">PET Substrate</text>
<text x="69.00" y="241.80" font-size="2.6" font-family='"Liberation Sans", sans-serif' fill="#333" font-weight="bold" font-style="italic">V</text>
<text x="70.80" y="242.60" font-size="1.8" font-family='"Liberation Sans", sans-serif' fill="#333" font-weight="bold">DS</text>
<text x="115.20" y="211.00" font-size="2.2" font-family='"Liberation Sans", sans-serif' fill="#333" font-weight="bold" font-style="italic">V</text>
<rect x="71.50" y="170.50" width="36.00" height="23.00" fill="#fff" stroke="#bcb6dc" stroke-width="0.5" rx="2"/>
<text x="89.60" y="174.80" font-size="3.5" font-family='"Liberation Sans", sans-serif' fill="#222" text-anchor="middle" font-weight="bold" textLength="31.40" lengthAdjust="spacingAndGlyphs">Electrical double layer</text>
<rect x="89.50" y="176.00" width="15.70" height="2.80" fill="#f0e040" stroke="none" stroke-width="1" />
<rect x="89.50" y="178.80" width="15.70" height="8.40" fill="#48b4e8" stroke="none" stroke-width="1" />
<rect x="89.50" y="187.20" width="15.70" height="4.60" fill="#8c78c8" stroke="none" stroke-width="1" />
<line x1="90.50" y1="177.50" x2="90.50" y2="191.00" stroke="#3c70c0" stroke-width="0.25" />
<line x1="92.50" y1="177.50" x2="92.50" y2="191.00" stroke="#3c70c0" stroke-width="0.25" />
<line x1="94.50" y1="177.50" x2="94.50" y2="191.00" stroke="#3c70c0" stroke-width="0.25" />
<line x1="96.50" y1="177.50" x2="96.50" y2="191.00" stroke="#3c70c0" stroke-width="0.25" />
<line x1="98.50" y1="177.50" x2="98.50" y2="191.00" stroke="#3c70c0" stroke-width="0.25" />
<line x1="100.50" y1="177.50" x2="100.50" y2="191.00" stroke="#3c70c0" stroke-width="0.25" />
<line x1="102.50" y1="177.50" x2="102.50" y2="191.00" stroke="#3c70c0" stroke-width="0.25" />
<line x1="104.50" y1="177.50" x2="104.50" y2="191.00" stroke="#3c70c0" stroke-width="0.25" />
<text x="77.50" y="179.60" font-size="3.0" font-family='"Liberation Sans", sans-serif' fill="#3a68b8" font-weight="bold">-COOH</text>
<text x="74.40" y="192.90" font-size="3.0" font-family='"Liberation Sans", sans-serif' fill="#3a68b8" font-weight="bold">-COO⁻ + H⁺</text>
<line x1="82.00" y1="180.40" x2="82.00" y2="189.60" stroke="#666" stroke-width="0.5" />
<polyline points="87.50,194.00 84.00,197.50" fill="none" stroke="#b4acd8" stroke-width="0.4" />
<polygon points="24.94,266.73 22.30,268.50 19.80,266.54 20.89,263.56 24.06,263.67" fill="none" stroke="#d0467e" stroke-width="0.8" />
<polygon points="30.17,262.31 29.76,265.45 26.64,266.04 25.12,263.25 27.30,260.95" fill="none" stroke="#d0467e" stroke-width="0.8" />
<polygon points="37.06,268.04 34.21,269.70 31.35,268.06 31.34,264.76 34.19,263.10 37.05,264.74" fill="none" stroke="#d0467e" stroke-width="0.8" />
<polygon points="38.09,270.59 38.36,267.43 41.45,266.71 43.09,269.43 41.01,271.83" fill="none" stroke="#d0467e" stroke-width="0.8" />
<polygon points="48.34,267.73 45.70,269.50 43.20,267.54 44.29,264.56 47.46,264.67" fill="none" stroke="#d0467e" stroke-width="0.8" />
<line x1="48.40" y1="266.40" x2="52.60" y2="266.40" stroke="#d0467e" stroke-width="0.8" />
<polygon points="58.95,268.09 56.01,269.80 53.06,268.11 53.05,264.71 55.99,263.00 58.94,264.69" fill="none" stroke="#d0467e" stroke-width="0.8" />
<polygon points="56.00,261.10 53.43,259.24 54.41,256.22 57.59,256.21 58.57,259.23" fill="none" stroke="#d0467e" stroke-width="0.8" />
<line x1="59.20" y1="267.20" x2="63.60" y2="267.20" stroke="#d0467e" stroke-width="0.8" />
<line x1="16.40" y1="266.40" x2="19.80" y2="266.40" stroke="#d0467e" stroke-width="0.8" />
<line x1="17.80" y1="263.80" x2="17.80" y2="269.20" stroke="#d0467e" stroke-width="0.8" />
<line x1="62.60" y1="264.60" x2="62.60" y2="270.00" stroke="#d0467e" stroke-width="0.8" />
<text x="63.40" y="271.60" font-size="2.2" font-family='"Liberation Sans", sans-serif' fill="#d0467e" font-weight="bold">n</text>
<line x1="27.60" y1="261.20" x2="24.00" y2="258.20" stroke="#d0467e" stroke-width="0.8" />
<line x1="28.20" y1="261.20" x2="32.00" y2="258.20" stroke="#d0467e" stroke-width="0.8" />
<line x1="40.20" y1="271.60" x2="36.60" y2="274.80" stroke="#d0467e" stroke-width="0.8" />
<line x1="40.80" y1="271.60" x2="44.60" y2="274.80" stroke="#d0467e" stroke-width="0.8" />
<text x="17.20" y="259.20" font-size="3.0" font-family='"Liberation Sans", sans-serif' fill="#d0467e" font-weight="bold" textLength="9.20" lengthAdjust="spacingAndGlyphs">C₁₆H₃₃</text>
<text x="30.60" y="259.20" font-size="3.0" font-family='"Liberation Sans", sans-serif' fill="#d0467e" font-weight="bold" textLength="9.20" lengthAdjust="spacingAndGlyphs">C₁₆H₃₃</text>
<text x="29.40" y="277.60" font-size="3.0" font-family='"Liberation Sans", sans-serif' fill="#d0467e" font-weight="bold" textLength="9.20" lengthAdjust="spacingAndGlyphs">C₁₆H₃₃</text>
<text x="42.40" y="277.60" font-size="3.0" font-family='"Liberation Sans", sans-serif' fill="#d0467e" font-weight="bold" textLength="9.20" lengthAdjust="spacingAndGlyphs">C₁₆H₃₃</text>
<text x="55.20" y="256.00" font-size="2.0" font-family='"Liberation Sans", sans-serif' fill="#d0467e" text-anchor="middle" font-weight="bold">N</text>
<text x="43.20" y="283.60" font-size="3.5" font-family='"Liberation Sans", sans-serif' fill="#222" text-anchor="middle" font-weight="bold">PIDT-BT</text>
<polygon points="79.40,262.60 82.10,264.70 82.10,269.10 79.40,271.20 76.70,269.10 76.70,264.70" fill="none" stroke="#5564b4" stroke-width="0.85" />
<line x1="77.70" y1="265.30" x2="77.70" y2="268.50" stroke="#5564b4" stroke-width="0.45" />
<line x1="81.10" y1="265.30" x2="81.10" y2="268.50" stroke="#5564b4" stroke-width="0.45" />
<line x1="76.70" y1="266.40" x2="73.00" y2="266.40" stroke="#5564b4" stroke-width="0.7" />
<line x1="76.70" y1="267.50" x2="73.00" y2="267.50" stroke="#5564b4" stroke-width="0.55" />
<line x1="73.00" y1="266.90" x2="70.40" y2="262.90" stroke="#5564b4" stroke-width="0.85" />
<line x1="70.40" y1="262.90" x2="68.80" y2="260.30" stroke="#5564b4" stroke-width="1.2" />
<text x="68.20" y="259.50" font-size="2.6" font-family='"Liberation Sans", sans-serif' fill="#5564b4" text-anchor="middle" font-weight="bold">N</text>
<line x1="73.00" y1="266.90" x2="70.40" y2="270.90" stroke="#5564b4" stroke-width="0.85" />
<line x1="70.40" y1="270.90" x2="68.80" y2="273.50" stroke="#5564b4" stroke-width="1.2" />
<text x="68.20" y="276.30" font-size="2.6" font-family='"Liberation Sans", sans-serif' fill="#5564b4" text-anchor="middle" font-weight="bold">N</text>
<line x1="82.10" y1="266.40" x2="85.80" y2="266.40" stroke="#5564b4" stroke-width="0.7" />
<line x1="82.10" y1="267.50" x2="85.80" y2="267.50" stroke="#5564b4" stroke-width="0.55" />
<line x1="85.80" y1="266.90" x2="88.40" y2="262.90" stroke="#5564b4" stroke-width="0.85" />
<line x1="88.40" y1="262.90" x2="90.00" y2="260.30" stroke="#5564b4" stroke-width="1.2" />
<text x="90.60" y="259.50" font-size="2.6" font-family='"Liberation Sans", sans-serif' fill="#5564b4" text-anchor="middle" font-weight="bold">N</text>
<line x1="85.80" y1="266.90" x2="88.40" y2="270.90" stroke="#5564b4" stroke-width="0.85" />
<line x1="88.40" y1="270.90" x2="90.00" y2="273.50" stroke="#5564b4" stroke-width="1.2" />
<text x="90.60" y="276.30" font-size="2.6" font-family='"Liberation Sans", sans-serif' fill="#5564b4" text-anchor="middle" font-weight="bold">N</text>
<text x="80.80" y="283.60" font-size="3.5" font-family='"Liberation Sans", sans-serif' fill="#222" text-anchor="middle" font-weight="bold">TCNQ</text>
<polyline points="98.40,253.60 98.40,259.00" fill="none" stroke="#3c98b4" stroke-width="0.75" />
<polyline points="97.60,253.60 98.40,253.60" fill="none" stroke="#3c98b4" stroke-width="0.75" />
<polyline points="97.60,259.00 98.40,259.00" fill="none" stroke="#3c98b4" stroke-width="0.75" />
<polyline points="107.00,253.60 107.00,259.00" fill="none" stroke="#3c98b4" stroke-width="0.75" />
<polyline points="107.80,253.60 107.00,253.60" fill="none" stroke="#3c98b4" stroke-width="0.75" />
<polyline points="107.80,259.00 107.00,259.00" fill="none" stroke="#3c98b4" stroke-width="0.75" />
<polyline points="98.40,257.20 101.00,255.60 103.60,257.20 107.00,255.80" fill="none" stroke="#3c98b4" stroke-width="0.8" />
<polyline points="103.60,257.20 103.60,261.60" fill="none" stroke="#3c98b4" stroke-width="0.8" />
<polyline points="103.60,261.60 100.40,264.00" fill="none" stroke="#3c98b4" stroke-width="0.8" />
<polyline points="103.00,261.00 99.80,263.40" fill="none" stroke="#3c98b4" stroke-width="0.45" />
<polyline points="103.60,261.60 106.60,263.80" fill="none" stroke="#3c98b4" stroke-width="0.8" />
<text x="98.40" y="266.40" font-size="2.4" font-family='"Liberation Sans", sans-serif' fill="#3c98b4" font-weight="bold">O</text>
<text x="106.40" y="266.00" font-size="2.4" font-family='"Liberation Sans", sans-serif' fill="#3c98b4" font-weight="bold">OH</text>
<text x="108.40" y="260.40" font-size="2.0" font-family='"Liberation Sans", sans-serif' fill="#3c98b4" font-weight="bold">n</text>
<polyline points="98.40,272.60 98.40,278.00" fill="none" stroke="#5cb8a8" stroke-width="0.75" />
<polyline points="97.60,272.60 98.40,272.60" fill="none" stroke="#5cb8a8" stroke-width="0.75" />
<polyline points="97.60,278.00 98.40,278.00" fill="none" stroke="#5cb8a8" stroke-width="0.75" />
<polyline points="107.00,272.60 107.00,278.00" fill="none" stroke="#5cb8a8" stroke-width="0.75" />
<polyline points="107.80,272.60 107.00,272.60" fill="none" stroke="#5cb8a8" stroke-width="0.75" />
<polyline points="107.80,278.00 107.00,278.00" fill="none" stroke="#5cb8a8" stroke-width="0.75" />
<polyline points="98.40,276.20 101.00,274.60 103.60,276.20 107.00,274.80" fill="none" stroke="#5cb8a8" stroke-width="0.8" />
<polyline points="103.60,276.20 103.60,280.60" fill="none" stroke="#5cb8a8" stroke-width="0.8" />
<polyline points="103.60,280.60 100.40,283.00" fill="none" stroke="#5cb8a8" stroke-width="0.8" />
<polyline points="103.00,280.00 99.80,282.40" fill="none" stroke="#5cb8a8" stroke-width="0.45" />
<polyline points="103.60,280.60 106.60,282.80" fill="none" stroke="#5cb8a8" stroke-width="0.8" />
<text x="98.40" y="285.40" font-size="2.4" font-family='"Liberation Sans", sans-serif' fill="#5cb8a8" font-weight="bold">O</text>
<text x="106.40" y="285.00" font-size="2.4" font-family='"Liberation Sans", sans-serif' fill="#5cb8a8" font-weight="bold">O</text>
<text x="108.40" y="279.40" font-size="2.0" font-family='"Liberation Sans", sans-serif' fill="#5cb8a8" font-weight="bold">n</text>
<text x="113.90" y="265.40" font-size="4.0" font-family='"Liberation Sans", sans-serif' fill="#222" text-anchor="middle" font-weight="bold">PAA</text>
<text x="114.60" y="283.10" font-size="4.0" font-family='"Liberation Sans", sans-serif' fill="#222" text-anchor="middle" font-weight="bold">PMMA</text>
<defs><linearGradient id="gd1" x1="0" y1="0" x2="1" y2="0"><stop offset="0" stop-color="#3088c8"/><stop offset="0.5" stop-color="#eef6fc"/><stop offset="1" stop-color="#3088c8"/></linearGradient><linearGradient id="gd2" x1="0" y1="0" x2="1" y2="0"><stop offset="0" stop-color="#58b8d4"/><stop offset="0.5" stop-color="#e8f6fa"/><stop offset="1" stop-color="#58b8d4"/></linearGradient></defs>
<text x="129.80" y="256.60" font-size="3.1" font-family='"Liberation Sans", sans-serif' fill="#222" text-anchor="middle" font-weight="bold" textLength="17.80" lengthAdjust="spacingAndGlyphs">Gate dielectric</text>
<rect x="122.00" y="259.50" width="16.80" height="15.00" fill="url(#gd1)" stroke="#2c6cb0" stroke-width="0.6" />
<rect x="122.00" y="274.50" width="16.80" height="11.00" fill="url(#gd2)" stroke="#2c8cb0" stroke-width="0.6" />
<line x1="122.00" y1="274.50" x2="138.80" y2="274.50" stroke="#1c5ca0" stroke-width="1.3" />
<text x="130.40" y="270.60" font-size="2.8" font-family='"Liberation Sans", sans-serif' fill="#1c3c70" text-anchor="middle" font-weight="bold">Vertical</text>
<text x="130.40" y="273.80" font-size="2.8" font-family='"Liberation Sans", sans-serif' fill="#1c3c70" text-anchor="middle" font-weight="bold">phase</text>
<text x="130.40" y="278.20" font-size="2.8" font-family='"Liberation Sans", sans-serif' fill="#1c3c70" text-anchor="middle" font-weight="bold">separation</text>
<line x1="120.60" y1="263.90" x2="127.50" y2="263.90" stroke="#d06060" stroke-width="0.35" stroke-dasharray="0.8 0.6"/>
<polygon points="127.60,262.80 130.40,263.90 127.60,265.00" fill="#d42424" stroke="none" stroke-width="1" />
<line x1="120.60" y1="281.20" x2="127.50" y2="281.20" stroke="#d06060" stroke-width="0.35" stroke-dasharray="0.8 0.6"/>
<polygon points="127.60,280.10 130.40,281.20 127.60,282.30" fill="#d42424" stroke="none" stroke-width="1" />
<line x1="167.40" y1="269.60" x2="184.20" y2="217.60" stroke="#c0307c" stroke-width="0.7" stroke-dasharray="1 0.8"/>
<line x1="184.20" y1="217.60" x2="273.00" y2="187.60" stroke="#9a3a8a" stroke-width="0.7" stroke-dasharray="1 0.8"/>
<line x1="173.60" y1="238.60" x2="173.60" y2="248.60" stroke="#777" stroke-width="0.45" />
<line x1="172.40" y1="238.60" x2="174.80" y2="238.60" stroke="#777" stroke-width="0.45" />
<line x1="172.40" y1="248.60" x2="174.80" y2="248.60" stroke="#777" stroke-width="0.45" />
<line x1="178.00" y1="233.40" x2="178.00" y2="241.40" stroke="#777" stroke-width="0.45" />
<line x1="176.80" y1="233.40" x2="179.20" y2="233.40" stroke="#777" stroke-width="0.45" />
<line x1="176.80" y1="241.40" x2="179.20" y2="241.40" stroke="#777" stroke-width="0.45" />
<line x1="183.00" y1="220.20" x2="183.00" y2="224.60" stroke="#777" stroke-width="0.45" />
<line x1="181.80" y1="220.20" x2="184.20" y2="220.20" stroke="#777" stroke-width="0.45" />
<line x1="181.80" y1="224.60" x2="184.20" y2="224.60" stroke="#777" stroke-width="0.45" />
<line x1="188.40" y1="217.80" x2="188.40" y2="222.20" stroke="#777" stroke-width="0.45" />
<line x1="187.20" y1="217.80" x2="189.60" y2="217.80" stroke="#777" stroke-width="0.45" />
<line x1="187.20" y1="222.20" x2="189.60" y2="222.20" stroke="#777" stroke-width="0.45" />
<line x1="229.40" y1="195.00" x2="229.40" y2="209.00" stroke="#777" stroke-width="0.45" />
<line x1="228.20" y1="195.00" x2="230.60" y2="195.00" stroke="#777" stroke-width="0.45" />
<line x1="228.20" y1="209.00" x2="230.60" y2="209.00" stroke="#777" stroke-width="0.45" />
<line x1="249.60" y1="190.60" x2="249.60" y2="200.60" stroke="#777" stroke-width="0.45" />
<line x1="248.40" y1="190.60" x2="250.80" y2="190.60" stroke="#777" stroke-width="0.45" />
<line x1="248.40" y1="200.60" x2="250.80" y2="200.60" stroke="#777" stroke-width="0.45" />
<line x1="270.00" y1="185.90" x2="270.00" y2="198.90" stroke="#777" stroke-width="0.45" />
<line x1="268.80" y1="185.90" x2="271.20" y2="185.90" stroke="#777" stroke-width="0.45" />
<line x1="268.80" y1="198.90" x2="271.20" y2="198.90" stroke="#777" stroke-width="0.45" />
<circle cx="167.60" cy="269.00" r="1.7" fill="url(#sph)" stroke="none" stroke-width="1" />
<circle cx="167.91" cy="268.16" r="1.7" fill="url(#sph)" stroke="none" stroke-width="1" />
<circle cx="168.22" cy="267.33" r="1.7" fill="url(#sph)" stroke="none" stroke-width="1" />
<circle cx="168.53" cy="266.49" r="1.7" fill="url(#sph)" stroke="none" stroke-width="1" />
<circle cx="168.84" cy="265.65" r="1.7" fill="url(#sph)" stroke="none" stroke-width="1" />
<circle cx="169.15" cy="264.82" r="1.7" fill="url(#sph)" stroke="none" stroke-width="1" />
<circle cx="169.45" cy="263.98" r="1.7" fill="url(#sph)" stroke="none" stroke-width="1" />
<circle cx="169.76" cy="263.15" r="1.7" fill="url(#sph)" stroke="none" stroke-width="1" />
<circle cx="170.07" cy="262.31" r="1.7" fill="url(#sph)" stroke="none" stroke-width="1" />
<circle cx="170.38" cy="261.47" r="1.7" fill="url(#sph)" stroke="none" stroke-width="1" />
<circle cx="170.69" cy="260.64" r="1.7" fill="url(#sph)" stroke="none" stroke-width="1" />
<circle cx="171.00" cy="259.80" r="1.7" fill="url(#sph)" stroke="none" stroke-width="1" />
<circle cx="173.60" cy="243.60" r="2.2" fill="url(#sph)" stroke="none" stroke-width="1" />
<circle cx="178.00" cy="237.40" r="2.2" fill="url(#sph)" stroke="none" stroke-width="1" />
<circle cx="183.00" cy="222.40" r="2.2" fill="url(#sph)" stroke="none" stroke-width="1" />
<circle cx="188.40" cy="220.00" r="2.2" fill="url(#sph)" stroke="none" stroke-width="1" />
<circle cx="199.00" cy="212.00" r="2.2" fill="url(#sph)" stroke="none" stroke-width="1" />
<circle cx="208.60" cy="207.40" r="2.2" fill="url(#sph)" stroke="none" stroke-width="1" />
<circle cx="229.40" cy="202.00" r="2.2" fill="url(#sph)" stroke="none" stroke-width="1" />
<circle cx="249.60" cy="195.60" r="2.2" fill="url(#sph)" stroke="none" stroke-width="1" />
<circle cx="270.00" cy="192.40" r="2.2" fill="url(#sph)" stroke="none" stroke-width="1" />
<rect x="159.60" y="173.60" width="125.40" height="104.40" fill="none" stroke="#1c1c1c" stroke-width="1.0" />
<line x1="159.60" y1="269.40" x2="161.80" y2="269.40" stroke="#1c1c1c" stroke-width="0.7" />
<text x="157.20" y="271.60" font-size="6.1" font-family='"Liberation Sans", sans-serif' fill="#222" text-anchor="end" font-weight="bold" textLength="3.00" lengthAdjust="spacingAndGlyphs">0</text>
<line x1="159.60" y1="252.00" x2="161.80" y2="252.00" stroke="#1c1c1c" stroke-width="0.7" />
<text x="157.20" y="254.20" font-size="6.1" font-family='"Liberation Sans", sans-serif' fill="#222" text-anchor="end" font-weight="bold" textLength="8.40" lengthAdjust="spacingAndGlyphs">100</text>
<line x1="159.60" y1="234.60" x2="161.80" y2="234.60" stroke="#1c1c1c" stroke-width="0.7" />
<text x="157.20" y="236.80" font-size="6.1" font-family='"Liberation Sans", sans-serif' fill="#222" text-anchor="end" font-weight="bold" textLength="8.40" lengthAdjust="spacingAndGlyphs">200</text>
<line x1="159.60" y1="217.20" x2="161.80" y2="217.20" stroke="#1c1c1c" stroke-width="0.7" />
<text x="157.20" y="219.40" font-size="6.1" font-family='"Liberation Sans", sans-serif' fill="#222" text-anchor="end" font-weight="bold" textLength="8.40" lengthAdjust="spacingAndGlyphs">300</text>
<line x1="159.60" y1="199.80" x2="161.80" y2="199.80" stroke="#1c1c1c" stroke-width="0.7" />
<text x="157.20" y="202.00" font-size="6.1" font-family='"Liberation Sans", sans-serif' fill="#222" text-anchor="end" font-weight="bold" textLength="8.40" lengthAdjust="spacingAndGlyphs">400</text>
<line x1="159.60" y1="182.40" x2="161.80" y2="182.40" stroke="#1c1c1c" stroke-width="0.7" />
<text x="157.20" y="184.60" font-size="6.1" font-family='"Liberation Sans", sans-serif' fill="#222" text-anchor="end" font-weight="bold" textLength="8.40" lengthAdjust="spacingAndGlyphs">500</text>
<line x1="159.60" y1="260.70" x2="160.80" y2="260.70" stroke="#1c1c1c" stroke-width="0.5" />
<line x1="159.60" y1="243.30" x2="160.80" y2="243.30" stroke="#1c1c1c" stroke-width="0.5" />
<line x1="159.60" y1="225.90" x2="160.80" y2="225.90" stroke="#1c1c1c" stroke-width="0.5" />
<line x1="159.60" y1="208.50" x2="160.80" y2="208.50" stroke="#1c1c1c" stroke-width="0.5" />
<line x1="159.60" y1="191.10" x2="160.80" y2="191.10" stroke="#1c1c1c" stroke-width="0.5" />
<line x1="167.40" y1="278.00" x2="167.40" y2="275.80" stroke="#1c1c1c" stroke-width="0.7" />
<text x="167.40" y="286.40" font-size="6.3" font-family='"Liberation Sans", sans-serif' fill="#222" text-anchor="middle" font-weight="bold" textLength="3.30" lengthAdjust="spacingAndGlyphs">0</text>
<line x1="183.04" y1="278.00" x2="183.04" y2="275.80" stroke="#1c1c1c" stroke-width="0.7" />
<text x="183.04" y="286.40" font-size="6.3" font-family='"Liberation Sans", sans-serif' fill="#222" text-anchor="middle" font-weight="bold" textLength="3.30" lengthAdjust="spacingAndGlyphs">5</text>
<line x1="198.68" y1="278.00" x2="198.68" y2="275.80" stroke="#1c1c1c" stroke-width="0.7" />
<text x="198.68" y="286.40" font-size="6.3" font-family='"Liberation Sans", sans-serif' fill="#222" text-anchor="middle" font-weight="bold" textLength="6.40" lengthAdjust="spacingAndGlyphs">10</text>
<line x1="214.32" y1="278.00" x2="214.32" y2="275.80" stroke="#1c1c1c" stroke-width="0.7" />
<text x="214.32" y="286.40" font-size="6.3" font-family='"Liberation Sans", sans-serif' fill="#222" text-anchor="middle" font-weight="bold" textLength="6.40" lengthAdjust="spacingAndGlyphs">15</text>
<line x1="229.96" y1="278.00" x2="229.96" y2="275.80" stroke="#1c1c1c" stroke-width="0.7" />
<text x="229.96" y="286.40" font-size="6.3" font-family='"Liberation Sans", sans-serif' fill="#222" text-anchor="middle" font-weight="bold" textLength="6.40" lengthAdjust="spacingAndGlyphs">20</text>
<line x1="245.60" y1="278.00" x2="245.60" y2="275.80" stroke="#1c1c1c" stroke-width="0.7" />
<text x="245.60" y="286.40" font-size="6.3" font-family='"Liberation Sans", sans-serif' fill="#222" text-anchor="middle" font-weight="bold" textLength="6.40" lengthAdjust="spacingAndGlyphs">25</text>
<line x1="261.24" y1="278.00" x2="261.24" y2="275.80" stroke="#1c1c1c" stroke-width="0.7" />
<text x="261.24" y="286.40" font-size="6.3" font-family='"Liberation Sans", sans-serif' fill="#222" text-anchor="middle" font-weight="bold" textLength="6.40" lengthAdjust="spacingAndGlyphs">30</text>
<line x1="276.88" y1="278.00" x2="276.88" y2="275.80" stroke="#1c1c1c" stroke-width="0.7" />
<text x="276.88" y="286.40" font-size="6.3" font-family='"Liberation Sans", sans-serif' fill="#222" text-anchor="middle" font-weight="bold" textLength="6.40" lengthAdjust="spacingAndGlyphs">35</text>
<line x1="175.22" y1="278.00" x2="175.22" y2="276.80" stroke="#1c1c1c" stroke-width="0.5" />
<line x1="190.86" y1="278.00" x2="190.86" y2="276.80" stroke="#1c1c1c" stroke-width="0.5" />
<line x1="206.50" y1="278.00" x2="206.50" y2="276.80" stroke="#1c1c1c" stroke-width="0.5" />
<line x1="222.14" y1="278.00" x2="222.14" y2="276.80" stroke="#1c1c1c" stroke-width="0.5" />
<line x1="237.78" y1="278.00" x2="237.78" y2="276.80" stroke="#1c1c1c" stroke-width="0.5" />
<line x1="253.42" y1="278.00" x2="253.42" y2="276.80" stroke="#1c1c1c" stroke-width="0.5" />
<line x1="269.06" y1="278.00" x2="269.06" y2="276.80" stroke="#1c1c1c" stroke-width="0.5" />
<text x="222.00" y="296.00" font-size="7.6" font-family='"Liberation Sans", sans-serif' fill="#222" text-anchor="middle" font-weight="bold" textLength="47.00" lengthAdjust="spacingAndGlyphs">Pressure (kPa)</text>
<text x="146.60" y="231.00" font-size="7.0" font-family='"Liberation Sans", sans-serif' fill="#222" text-anchor="middle" font-weight="bold" transform="rotate(-90 146.60 231.00)">Δ<tspan font-style="italic">I</tspan>/<tspan font-style="italic">I</tspan><tspan font-size="4.6" dy="1.3">0</tspan></text>
<text x="212.00" y="189.20" font-size="5.8" font-family='"Liberation Sans", sans-serif' fill="#862a86" font-weight="bold" textLength="37.00" lengthAdjust="spacingAndGlyphs"><tspan font-style="italic">S</tspan><tspan font-size="3.6" dy="1.2">2</tspan><tspan dy="-1.2"> = 6.11 kPa</tspan><tspan font-size="3.6" dy="-2">-1</tspan></text>
<text x="179.00" y="253.80" font-size="5.6" font-family='"Liberation Sans", sans-serif' fill="#d0287e" font-weight="bold" textLength="39.00" lengthAdjust="spacingAndGlyphs"><tspan font-style="italic">S</tspan><tspan font-size="3.6" dy="1.2">1</tspan><tspan dy="-1.2"> = 56.15 kPa</tspan><tspan font-size="3.6" dy="-2">-1</tspan></text>
<text x="248.60" y="254.00" font-size="6.2" font-family='"Liberation Sans", sans-serif' fill="#7c2222" font-weight="bold" textLength="22.40" lengthAdjust="spacingAndGlyphs"><tspan font-style="italic">V</tspan><tspan font-size="4" dy="1.4">G</tspan><tspan dy="-1.4"> = -5 V</tspan></text>
<text x="248.60" y="264.60" font-size="6.2" font-family='"Liberation Sans", sans-serif' fill="#7c2222" font-weight="bold" textLength="25.80" lengthAdjust="spacingAndGlyphs"><tspan font-style="italic">V</tspan><tspan font-size="4" dy="1.4">DS</tspan><tspan dy="-1.4"> = -5 V</tspan></text>
<defs><linearGradient id="dg1" x1="0.1" y1="0" x2="0.9" y2="1"><stop offset="0" stop-color="#4a48b0"/><stop offset="0.45" stop-color="#4646b2"/><stop offset="1" stop-color="#8a88da"/></linearGradient><linearGradient id="dg2" x1="0.1" y1="0" x2="0.9" y2="1"><stop offset="0" stop-color="#4a48b0"/><stop offset="0.5" stop-color="#4c4ab6"/><stop offset="1" stop-color="#8280d4"/></linearGradient><linearGradient id="dsky" x1="0" y1="0" x2="1" y2="0"><stop offset="0" stop-color="#8ac4f0"/><stop offset="1" stop-color="#92c8f2"/></linearGradient><linearGradient id="dband" x1="0" y1="0" x2="0" y2="1"><stop offset="0" stop-color="#5e9ae8"/><stop offset="1" stop-color="#5088e2"/></linearGradient></defs>
<polygon points="338.00,155.00 416.40,160.00 416.40,171.40 338.00,166.00" fill="url(#dsky)" stroke="none" stroke-width="1" />
<rect x="338.00" y="176.00" width="78.40" height="43.00" fill="url(#dg1)" stroke="none" stroke-width="1" />
<polygon points="338.00,176.00 416.40,177.00 416.40,180.60 338.00,179.40" fill="#8478cc" stroke="none" stroke-width="1" />
<polygon points="338.00,176.00 416.40,177.00 416.40,178.80 338.00,177.80" fill="#b0a2e0" stroke="none" stroke-width="1" />
<polygon points="338.00,210.20 368.50,214.00 365.00,219.00 338.00,219.00" fill="#d4c430" stroke="none" stroke-width="1" />
<line x1="352.00" y1="211.50" x2="370.50" y2="194.00" stroke="#d4c430" stroke-width="1.1" />
<line x1="378.00" y1="180.60" x2="388.00" y2="180.60" stroke="#d4c430" stroke-width="1.3" />
<line x1="383.00" y1="181.00" x2="380.00" y2="186.00" stroke="#d4c430" stroke-width="0.7" />
<line x1="366.00" y1="185.20" x2="384.50" y2="185.20" stroke="#d4c430" stroke-width="0.6" />
<line x1="366.00" y1="185.20" x2="362.00" y2="189.60" stroke="#d4c430" stroke-width="0.6" />
<line x1="384.50" y1="185.20" x2="380.50" y2="194.20" stroke="#d4c430" stroke-width="0.6" />
<line x1="362.00" y1="194.20" x2="380.50" y2="194.20" stroke="#d4c430" stroke-width="0.6" />
<line x1="371.00" y1="185.20" x2="367.00" y2="191.60" stroke="#d4c430" stroke-width="0.6" />
<line x1="376.00" y1="185.20" x2="372.00" y2="191.60" stroke="#d4c430" stroke-width="0.6" />
<line x1="373.50" y1="194.20" x2="377.50" y2="187.60" stroke="#d4c430" stroke-width="0.6" />
<line x1="368.50" y1="194.20" x2="372.50" y2="187.60" stroke="#d4c430" stroke-width="0.6" />
<line x1="362.00" y1="189.60" x2="366.00" y2="189.60" stroke="#d4c430" stroke-width="0.6" />
<polygon points="428.00,191.20 436.80,191.20 436.60,189.80 441.90,194.00 436.60,198.20 436.80,196.80 428.00,196.80 430.30,194.00" fill="#2484cc" stroke="none" stroke-width="1" />
<rect x="453.60" y="176.00" width="78.40" height="42.60" fill="url(#dg2)" stroke="none" stroke-width="1" />
<polygon points="453.60,178.00 532.00,179.40 532.00,193.60 453.60,188.60" fill="url(#dband)" stroke="none" stroke-width="1" />
<polygon points="453.60,176.00 532.00,177.00 532.00,179.40 453.60,178.40" fill="#a496dc" stroke="none" stroke-width="1" />
<polygon points="453.60,210.20 483.40,214.00 480.60,218.60 453.60,218.60" fill="#d4c430" stroke="none" stroke-width="1" />
<line x1="468.00" y1="211.40" x2="483.40" y2="194.40" stroke="#d4c430" stroke-width="1.1" />
<line x1="494.00" y1="180.20" x2="504.00" y2="180.20" stroke="#d4c430" stroke-width="1.2" />
<polyline points="480.50,192.60 484.00,188.40 496.50,188.40 493.50,194.20 481.50,194.20" fill="none" stroke="#d4c430" stroke-width="0.7" />
<line x1="480.40" y1="188.20" x2="483.60" y2="184.60" stroke="#a8d8c0" stroke-width="0.45" />
<line x1="484.00" y1="188.20" x2="487.20" y2="184.60" stroke="#a8d8c0" stroke-width="0.45" />
<line x1="487.60" y1="188.20" x2="490.80" y2="184.60" stroke="#a8d8c0" stroke-width="0.45" />
<line x1="491.20" y1="188.20" x2="494.40" y2="184.60" stroke="#a8d8c0" stroke-width="0.45" />
<line x1="494.80" y1="188.20" x2="498.00" y2="184.60" stroke="#a8d8c0" stroke-width="0.45" />
<line x1="482.60" y1="184.60" x2="499.60" y2="184.60" stroke="#a8d8c0" stroke-width="0.45" />
<polygon points="453.60,155.40 532.00,160.60 532.00,172.00 453.60,166.00" fill="#fdfeff" stroke="#a8d0ec" stroke-width="0.6" />
<text x="489.60" y="166.10" font-size="6.3" font-family='"Liberation Sans", sans-serif' fill="#3c3c8c" text-anchor="middle" transform="rotate(2 489.60 166.10)">Pressure</text>
<polygon points="488.00,172.00 494.00,172.00 494.00,181.00 498.00,181.00 491.00,187.60 484.20,181.00 488.00,181.00" fill="#34348a" stroke="none" stroke-width="1" />
<line x1="350.60" y1="287.20" x2="419.00" y2="230.60" stroke="#3c3c98" stroke-width="0.75" />
<ellipse cx="350.60" cy="287.00" rx="1.5" ry="1.15" fill="#1c1c9c" stroke="none" stroke-width="1" />
<ellipse cx="355.00" cy="284.60" rx="1.5" ry="1.15" fill="#1c1c9c" stroke="none" stroke-width="1" />
<ellipse cx="359.00" cy="283.00" rx="1.5" ry="1.15" fill="#1c1c9c" stroke="none" stroke-width="1" />
<ellipse cx="367.60" cy="278.40" rx="1.5" ry="1.15" fill="#1c1c9c" stroke="none" stroke-width="1" />
<line x1="370.60" y1="272.00" x2="370.60" y2="275.20" stroke="#2c2c9c" stroke-width="0.45" />
<line x1="369.70" y1="272.00" x2="371.50" y2="272.00" stroke="#2c2c9c" stroke-width="0.4" />
<line x1="369.70" y1="275.20" x2="371.50" y2="275.20" stroke="#2c2c9c" stroke-width="0.4" />
<ellipse cx="370.60" cy="273.60" rx="1.5" ry="1.15" fill="#1c1c9c" stroke="none" stroke-width="1" />
<line x1="373.60" y1="262.80" x2="373.60" y2="266.00" stroke="#2c2c9c" stroke-width="0.45" />
<line x1="372.70" y1="262.80" x2="374.50" y2="262.80" stroke="#2c2c9c" stroke-width="0.4" />
<line x1="372.70" y1="266.00" x2="374.50" y2="266.00" stroke="#2c2c9c" stroke-width="0.4" />
<ellipse cx="373.60" cy="264.40" rx="1.5" ry="1.15" fill="#1c1c9c" stroke="none" stroke-width="1" />
<line x1="379.20" y1="256.20" x2="379.20" y2="259.00" stroke="#2c2c9c" stroke-width="0.45" />
<line x1="378.30" y1="256.20" x2="380.10" y2="256.20" stroke="#2c2c9c" stroke-width="0.4" />
<line x1="378.30" y1="259.00" x2="380.10" y2="259.00" stroke="#2c2c9c" stroke-width="0.4" />
<ellipse cx="379.20" cy="257.60" rx="1.5" ry="1.15" fill="#1c1c9c" stroke="none" stroke-width="1" />
<ellipse cx="385.00" cy="254.60" rx="1.5" ry="1.15" fill="#1c1c9c" stroke="none" stroke-width="1" />
<ellipse cx="393.40" cy="247.20" rx="1.5" ry="1.15" fill="#1c1c9c" stroke="none" stroke-width="1" />
<line x1="399.00" y1="240.20" x2="399.00" y2="243.40" stroke="#2c2c9c" stroke-width="0.45" />
<line x1="398.10" y1="240.20" x2="399.90" y2="240.20" stroke="#2c2c9c" stroke-width="0.4" />
<line x1="398.10" y1="243.40" x2="399.90" y2="243.40" stroke="#2c2c9c" stroke-width="0.4" />
<ellipse cx="399.00" cy="241.80" rx="1.5" ry="1.15" fill="#1c1c9c" stroke="none" stroke-width="1" />
<line x1="404.80" y1="237.20" x2="404.80" y2="241.20" stroke="#2c2c9c" stroke-width="0.45" />
<line x1="403.90" y1="237.20" x2="405.70" y2="237.20" stroke="#2c2c9c" stroke-width="0.4" />
<line x1="403.90" y1="241.20" x2="405.70" y2="241.20" stroke="#2c2c9c" stroke-width="0.4" />
<ellipse cx="404.80" cy="239.20" rx="1.5" ry="1.15" fill="#1c1c9c" stroke="none" stroke-width="1" />
<line x1="410.40" y1="233.20" x2="410.40" y2="239.20" stroke="#2c2c9c" stroke-width="0.45" />
<line x1="409.50" y1="233.20" x2="411.30" y2="233.20" stroke="#2c2c9c" stroke-width="0.4" />
<line x1="409.50" y1="239.20" x2="411.30" y2="239.20" stroke="#2c2c9c" stroke-width="0.4" />
<ellipse cx="410.40" cy="236.20" rx="1.5" ry="1.15" fill="#1c1c9c" stroke="none" stroke-width="1" />
<line x1="416.00" y1="233.40" x2="416.00" y2="236.60" stroke="#2c2c9c" stroke-width="0.45" />
<line x1="415.10" y1="233.40" x2="416.90" y2="233.40" stroke="#2c2c9c" stroke-width="0.4" />
<line x1="415.10" y1="236.60" x2="416.90" y2="236.60" stroke="#2c2c9c" stroke-width="0.4" />
<ellipse cx="416.00" cy="235.00" rx="1.5" ry="1.15" fill="#1c1c9c" stroke="none" stroke-width="1" />
<line x1="419.00" y1="232.80" x2="419.00" y2="235.20" stroke="#2c2c9c" stroke-width="0.45" />
<line x1="418.10" y1="232.80" x2="419.90" y2="232.80" stroke="#2c2c9c" stroke-width="0.4" />
<line x1="418.10" y1="235.20" x2="419.90" y2="235.20" stroke="#2c2c9c" stroke-width="0.4" />
<ellipse cx="419.00" cy="234.00" rx="1.5" ry="1.15" fill="#1c1c9c" stroke="none" stroke-width="1" />
<rect x="340.40" y="222.60" width="83.20" height="69.40" fill="none" stroke="#3a3a3a" stroke-width="0.6" />
<line x1="338.20" y1="287.00" x2="340.40" y2="287.00" stroke="#3a3a3a" stroke-width="0.5" />
<text x="332.40" y="289.40" font-size="7.1" font-family='"Liberation Serif", serif' fill="#2a2a2a" text-anchor="end">0</text>
<line x1="338.20" y1="276.27" x2="340.40" y2="276.27" stroke="#3a3a3a" stroke-width="0.5" />
<text x="332.40" y="278.67" font-size="7.1" font-family='"Liberation Serif", serif' fill="#2a2a2a" text-anchor="end">200</text>
<line x1="338.20" y1="265.54" x2="340.40" y2="265.54" stroke="#3a3a3a" stroke-width="0.5" />
<text x="332.40" y="267.94" font-size="7.1" font-family='"Liberation Serif", serif' fill="#2a2a2a" text-anchor="end">400</text>
<line x1="338.20" y1="254.81" x2="340.40" y2="254.81" stroke="#3a3a3a" stroke-width="0.5" />
<text x="332.40" y="257.21" font-size="7.1" font-family='"Liberation Serif", serif' fill="#2a2a2a" text-anchor="end">600</text>
<line x1="338.20" y1="244.08" x2="340.40" y2="244.08" stroke="#3a3a3a" stroke-width="0.5" />
<text x="332.40" y="246.48" font-size="7.1" font-family='"Liberation Serif", serif' fill="#2a2a2a" text-anchor="end">800</text>
<line x1="338.20" y1="233.35" x2="340.40" y2="233.35" stroke="#3a3a3a" stroke-width="0.5" />
<text x="332.40" y="235.75" font-size="7.1" font-family='"Liberation Serif", serif' fill="#2a2a2a" text-anchor="end">1000</text>
<line x1="338.20" y1="222.62" x2="340.40" y2="222.62" stroke="#3a3a3a" stroke-width="0.5" />
<text x="332.40" y="225.02" font-size="7.1" font-family='"Liberation Serif", serif' fill="#2a2a2a" text-anchor="end">1200</text>
<line x1="339.20" y1="281.63" x2="340.40" y2="281.63" stroke="#3a3a3a" stroke-width="0.4" />
<line x1="339.20" y1="270.90" x2="340.40" y2="270.90" stroke="#3a3a3a" stroke-width="0.4" />
<line x1="339.20" y1="260.18" x2="340.40" y2="260.18" stroke="#3a3a3a" stroke-width="0.4" />
<line x1="339.20" y1="249.44" x2="340.40" y2="249.44" stroke="#3a3a3a" stroke-width="0.4" />
<line x1="339.20" y1="238.72" x2="340.40" y2="238.72" stroke="#3a3a3a" stroke-width="0.4" />
<line x1="339.20" y1="227.99" x2="340.40" y2="227.99" stroke="#3a3a3a" stroke-width="0.4" />
<line x1="348.00" y1="292.00" x2="348.00" y2="294.40" stroke="#3a3a3a" stroke-width="0.5" />
<text x="348.00" y="300.00" font-size="6.2" font-family='"Liberation Sans", sans-serif' fill="#2a2a2a" text-anchor="middle" textLength="4.00" lengthAdjust="spacingAndGlyphs">0</text>
<line x1="362.12" y1="292.00" x2="362.12" y2="294.40" stroke="#3a3a3a" stroke-width="0.5" />
<text x="362.12" y="300.00" font-size="6.2" font-family='"Liberation Sans", sans-serif' fill="#2a2a2a" text-anchor="middle" textLength="4.00" lengthAdjust="spacingAndGlyphs">1</text>
<line x1="376.24" y1="292.00" x2="376.24" y2="294.40" stroke="#3a3a3a" stroke-width="0.5" />
<text x="376.24" y="300.00" font-size="6.2" font-family='"Liberation Sans", sans-serif' fill="#2a2a2a" text-anchor="middle" textLength="4.00" lengthAdjust="spacingAndGlyphs">2</text>
<line x1="390.36" y1="292.00" x2="390.36" y2="294.40" stroke="#3a3a3a" stroke-width="0.5" />
<text x="390.36" y="300.00" font-size="6.2" font-family='"Liberation Sans", sans-serif' fill="#2a2a2a" text-anchor="middle" textLength="4.00" lengthAdjust="spacingAndGlyphs">3</text>
<line x1="404.48" y1="292.00" x2="404.48" y2="294.40" stroke="#3a3a3a" stroke-width="0.5" />
<text x="404.48" y="300.00" font-size="6.2" font-family='"Liberation Sans", sans-serif' fill="#2a2a2a" text-anchor="middle" textLength="4.00" lengthAdjust="spacingAndGlyphs">4</text>
<line x1="418.60" y1="292.00" x2="418.60" y2="294.40" stroke="#3a3a3a" stroke-width="0.5" />
<text x="418.60" y="300.00" font-size="6.2" font-family='"Liberation Sans", sans-serif' fill="#2a2a2a" text-anchor="middle" textLength="4.00" lengthAdjust="spacingAndGlyphs">5</text>
<line x1="355.06" y1="292.00" x2="355.06" y2="293.30" stroke="#3a3a3a" stroke-width="0.4" />
<line x1="369.18" y1="292.00" x2="369.18" y2="293.30" stroke="#3a3a3a" stroke-width="0.4" />
<line x1="383.30" y1="292.00" x2="383.30" y2="293.30" stroke="#3a3a3a" stroke-width="0.4" />
<line x1="397.42" y1="292.00" x2="397.42" y2="293.30" stroke="#3a3a3a" stroke-width="0.4" />
<line x1="411.54" y1="292.00" x2="411.54" y2="293.30" stroke="#3a3a3a" stroke-width="0.4" />
<text x="379.00" y="307.00" font-size="5.9" font-family='"Liberation Sans", sans-serif' fill="#2a2a2a" text-anchor="middle" textLength="40.50" lengthAdjust="spacingAndGlyphs">Pressure (kPa)</text>
<text x="313.20" y="258.00" font-size="6.0" font-family='"Liberation Sans", sans-serif' fill="#333" text-anchor="middle" textLength="9.40" lengthAdjust="spacingAndGlyphs" transform="rotate(-90 313.20 258.00)">ΔI/I<tspan font-size="4" dy="1.2">0</tspan></text>
<text x="346.60" y="245.80" font-size="8.2" font-family='"Liberation Serif", serif' fill="#f03434" textLength="29.00" lengthAdjust="spacingAndGlyphs">Sensitivity</text>
<text x="348.60" y="253.60" font-size="8.2" font-family='"Liberation Serif", serif' fill="#f03434" font-style="italic" textLength="29.50" lengthAdjust="spacingAndGlyphs">192kPa<tspan font-size="4.2" dy="-2.8">-1</tspan></text>
<text x="387.60" y="276.80" font-size="8.0" font-family='"Liberation Serif", serif' fill="#f03434" font-style="italic" textLength="31.40" lengthAdjust="spacingAndGlyphs"><tspan font-style="italic">V</tspan><tspan font-size="4.6" dy="0.6">DS</tspan><tspan dy="-0.6"> = -60V</tspan></text>
<text x="387.60" y="287.20" font-size="8.0" font-family='"Liberation Serif", serif' fill="#f03434" font-style="italic" textLength="31.40" lengthAdjust="spacingAndGlyphs"><tspan font-style="italic">V</tspan><tspan font-size="4.6" dy="0.6">GS</tspan><tspan dy="-0.6"> = -60V</tspan></text>
<polygon points="449.85,280.60 449.95,242.13 451.05,242.13 451.15,280.60" fill="#5050b4" stroke="none" stroke-width="1" />
<polygon points="452.79,280.60 452.88,242.13 453.99,242.13 454.08,280.60" fill="#5050b4" stroke="none" stroke-width="1" />
<polygon points="455.72,280.60 455.82,243.06 456.92,243.06 457.02,280.60" fill="#5050b4" stroke="none" stroke-width="1" />
<polygon points="458.66,280.60 458.75,242.36 459.86,242.36 459.95,280.60" fill="#5050b4" stroke="none" stroke-width="1" />
<polygon points="461.59,280.60 461.69,241.67 462.79,241.67 462.89,280.60" fill="#5050b4" stroke="none" stroke-width="1" />
<polygon points="464.53,280.60 464.62,243.29 465.73,243.29 465.82,280.60" fill="#5050b4" stroke="none" stroke-width="1" />
<polygon points="467.46,280.60 467.56,242.13 468.66,242.13 468.76,280.60" fill="#5050b4" stroke="none" stroke-width="1" />
<polygon points="470.40,280.60 470.50,242.13 471.60,242.13 471.69,280.60" fill="#5050b4" stroke="none" stroke-width="1" />
<polygon points="473.33,280.60 473.43,242.36 474.53,242.36 474.63,280.60" fill="#5050b4" stroke="none" stroke-width="1" />
<polygon points="476.27,280.60 476.37,242.36 477.47,242.36 477.56,280.60" fill="#5050b4" stroke="none" stroke-width="1" />
<polygon points="479.20,280.60 479.30,241.67 480.40,241.67 480.50,280.60" fill="#5050b4" stroke="none" stroke-width="1" />
<polygon points="482.14,280.60 482.24,241.67 483.34,241.67 483.44,280.60" fill="#5050b4" stroke="none" stroke-width="1" />
<polygon points="485.07,280.60 485.17,242.36 486.27,242.36 486.37,280.60" fill="#5050b4" stroke="none" stroke-width="1" />
<line x1="449.40" y1="280.80" x2="487.60" y2="280.80" stroke="#5050b4" stroke-width="0.7" />
<polygon points="490.00,280.80 490.00,245.40 490.00,245.17 490.70,245.27 491.40,245.56 492.10,245.27 492.80,245.33 493.50,245.42 494.20,245.17 494.90,245.43 495.60,245.54 496.30,245.69 497.00,245.23 497.70,245.41 498.40,245.29 499.10,245.83 499.80,245.78 500.50,245.35 501.20,246.04 501.90,246.06 502.60,245.87 503.30,245.88 504.00,245.59 504.70,245.52 505.40,245.91 506.10,245.62 506.80,245.74 507.50,245.81 508.20,245.69 508.90,246.03 509.60,246.04 510.30,246.35 511.00,246.16 511.70,246.27 512.40,246.21 513.10,246.35 513.80,246.24 514.50,246.15 515.20,246.68 515.90,246.71 516.60,246.64 517.30,246.57 518.00,246.33 518.70,246.30 519.40,246.38 520.10,246.25 520.80,246.77 521.50,246.55 522.20,246.89 522.90,246.60 523.60,247.03 524.30,246.99 525.00,246.43 525.70,246.60 526.40,247.13 527.10,246.85 527.80,247.24 528.50,246.86 529.20,246.67 529.90,247.09 530.60,247.22 531.30,246.90 532.00,246.80 532.40,247.20 532.40,280.80" fill="#0a0a7c" stroke="none" stroke-width="1" />
<line x1="493.20" y1="241.40" x2="493.20" y2="247.00" stroke="#4040b0" stroke-width="0.6" />
<line x1="518.20" y1="242.60" x2="518.20" y2="247.00" stroke="#4040b0" stroke-width="0.6" />
<line x1="522.20" y1="243.20" x2="522.20" y2="247.00" stroke="#4040b0" stroke-width="0.6" />
<rect x="449.40" y="222.60" width="83.00" height="69.40" fill="none" stroke="#444" stroke-width="0.6" />
<rect x="487.20" y="221.40" width="2.80" height="2.40" fill="#fff" stroke="none" stroke-width="1" />
<rect x="487.20" y="290.80" width="2.80" height="2.40" fill="#fff" stroke="none" stroke-width="1" />
<line x1="487.40" y1="224.20" x2="488.60" y2="221.00" stroke="#333" stroke-width="0.45" />
<line x1="488.80" y1="224.20" x2="490.00" y2="221.00" stroke="#333" stroke-width="0.45" />
<line x1="487.40" y1="293.60" x2="488.60" y2="290.40" stroke="#333" stroke-width="0.45" />
<line x1="488.80" y1="293.60" x2="490.00" y2="290.40" stroke="#333" stroke-width="0.45" />
<line x1="447.80" y1="289.87" x2="449.40" y2="289.87" stroke="#444" stroke-width="0.5" />
<text x="446.40" y="291.77" font-size="5.4" font-family='"Liberation Sans", sans-serif' fill="#2a2a2a" text-anchor="end" textLength="8.20" lengthAdjust="spacingAndGlyphs">−40</text>
<line x1="447.80" y1="280.60" x2="449.40" y2="280.60" stroke="#444" stroke-width="0.5" />
<text x="446.40" y="282.50" font-size="5.4" font-family='"Liberation Sans", sans-serif' fill="#2a2a2a" text-anchor="end" textLength="2.90" lengthAdjust="spacingAndGlyphs">0</text>
<line x1="447.80" y1="271.33" x2="449.40" y2="271.33" stroke="#444" stroke-width="0.5" />
<text x="446.40" y="273.23" font-size="5.4" font-family='"Liberation Sans", sans-serif' fill="#2a2a2a" text-anchor="end" textLength="5.60" lengthAdjust="spacingAndGlyphs">40</text>
<line x1="447.80" y1="262.06" x2="449.40" y2="262.06" stroke="#444" stroke-width="0.5" />
<text x="446.40" y="263.96" font-size="5.4" font-family='"Liberation Sans", sans-serif' fill="#2a2a2a" text-anchor="end" textLength="5.60" lengthAdjust="spacingAndGlyphs">80</text>
<line x1="447.80" y1="252.79" x2="449.40" y2="252.79" stroke="#444" stroke-width="0.5" />
<text x="446.40" y="254.69" font-size="5.4" font-family='"Liberation Sans", sans-serif' fill="#2a2a2a" text-anchor="end" textLength="8.20" lengthAdjust="spacingAndGlyphs">120</text>
<line x1="447.80" y1="243.52" x2="449.40" y2="243.52" stroke="#444" stroke-width="0.5" />
<text x="446.40" y="245.42" font-size="5.4" font-family='"Liberation Sans", sans-serif' fill="#2a2a2a" text-anchor="end" textLength="8.20" lengthAdjust="spacingAndGlyphs">160</text>
<line x1="447.80" y1="234.25" x2="449.40" y2="234.25" stroke="#444" stroke-width="0.5" />
<text x="446.40" y="236.15" font-size="5.4" font-family='"Liberation Sans", sans-serif' fill="#2a2a2a" text-anchor="end" textLength="8.20" lengthAdjust="spacingAndGlyphs">200</text>
<line x1="447.80" y1="224.98" x2="449.40" y2="224.98" stroke="#444" stroke-width="0.5" />
<text x="446.40" y="226.88" font-size="5.4" font-family='"Liberation Sans", sans-serif' fill="#2a2a2a" text-anchor="end" textLength="8.20" lengthAdjust="spacingAndGlyphs">240</text>
<line x1="448.50" y1="285.24" x2="449.40" y2="285.24" stroke="#444" stroke-width="0.4" />
<line x1="448.50" y1="275.97" x2="449.40" y2="275.97" stroke="#444" stroke-width="0.4" />
<line x1="448.50" y1="266.70" x2="449.40" y2="266.70" stroke="#444" stroke-width="0.4" />
<line x1="448.50" y1="257.43" x2="449.40" y2="257.43" stroke="#444" stroke-width="0.4" />
<line x1="448.50" y1="248.16" x2="449.40" y2="248.16" stroke="#444" stroke-width="0.4" />
<line x1="448.50" y1="238.89" x2="449.40" y2="238.89" stroke="#444" stroke-width="0.4" />
<line x1="448.50" y1="229.62" x2="449.40" y2="229.62" stroke="#444" stroke-width="0.4" />
<line x1="449.40" y1="292.00" x2="449.40" y2="293.50" stroke="#444" stroke-width="0.5" />
<text x="449.40" y="298.80" font-size="5.0" font-family='"Liberation Sans", sans-serif' fill="#2a2a2a" text-anchor="middle">0</text>
<line x1="462.30" y1="292.00" x2="462.30" y2="293.50" stroke="#444" stroke-width="0.5" />
<text x="462.30" y="298.80" font-size="5.0" font-family='"Liberation Sans", sans-serif' fill="#2a2a2a" text-anchor="middle">10</text>
<line x1="475.20" y1="292.00" x2="475.20" y2="293.50" stroke="#444" stroke-width="0.5" />
<text x="475.20" y="298.80" font-size="5.0" font-family='"Liberation Sans", sans-serif' fill="#2a2a2a" text-anchor="middle">20</text>
<line x1="488.10" y1="292.00" x2="488.10" y2="293.50" stroke="#444" stroke-width="0.5" />
<text x="488.50" y="298.80" font-size="5.0" font-family='"Liberation Sans", sans-serif' fill="#2a2a2a" text-anchor="middle">30</text>
<line x1="507.60" y1="292.00" x2="507.60" y2="293.50" stroke="#444" stroke-width="0.5" />
<line x1="525.20" y1="292.00" x2="525.20" y2="293.50" stroke="#444" stroke-width="0.5" />
<text x="503.80" y="298.80" font-size="5.0" font-family='"Liberation Sans", sans-serif' fill="#2a2a2a" text-anchor="middle" textLength="22.00" lengthAdjust="spacingAndGlyphs">230,400</text>
<text x="525.40" y="298.80" font-size="5.0" font-family='"Liberation Sans", sans-serif' fill="#2a2a2a" text-anchor="middle" textLength="14.60" lengthAdjust="spacingAndGlyphs">230,70</text>
<text x="490.00" y="306.80" font-size="5.0" font-family='"Liberation Sans", sans-serif' fill="#2a2a2a" text-anchor="middle">Time (s)</text>
<text x="433.40" y="257.60" font-size="5.2" font-family='"Liberation Sans", sans-serif' fill="#333" text-anchor="middle" textLength="8.00" lengthAdjust="spacingAndGlyphs" transform="rotate(-90 433.40 257.60)">ΔI/I<tspan font-size="3.4" dy="1.0">0</tspan></text>
<text x="451.00" y="235.20" font-size="5.1" font-family='"Liberation Sans", sans-serif' fill="#e43030" textLength="48.40" lengthAdjust="spacingAndGlyphs">Pressure = 1,000 Pa</text>
<text x="504.40" y="234.00" font-size="5.1" font-family='"Liberation Sans", sans-serif' fill="#e43030" textLength="23.20" lengthAdjust="spacingAndGlyphs">10<tspan font-size="3.2" dy="-1.8">5</tspan><tspan dy="1.8"> cycles</tspan></text>
<text x="472.00" y="287.20" font-size="5.1" font-family='"Liberation Sans", sans-serif' fill="#e43030" textLength="38.00" lengthAdjust="spacingAndGlyphs">Pressure = 0 Pa</text>
<defs><linearGradient id="eblk" x1="0" y1="0" x2="1" y2="0"><stop offset="0" stop-color="#555"/><stop offset="0.06" stop-color="#8a8a8a"/><stop offset="0.1" stop-color="#4a4a4a"/><stop offset="0.16" stop-color="#9a9a9a"/><stop offset="0.2" stop-color="#505050"/><stop offset="0.27" stop-color="#7a7a7a"/><stop offset="0.3" stop-color="#3a3a3a"/><stop offset="0.36" stop-color="#888"/><stop offset="0.42" stop-color="#c8c8c8"/><stop offset="0.46" stop-color="#f0f0f0"/><stop offset="0.5" stop-color="#9a9a9a"/><stop offset="0.55" stop-color="#5a5a5a"/><stop offset="0.6" stop-color="#888"/><stop offset="0.66" stop-color="#6a6a6a"/><stop offset="1" stop-color="#8e8e8e"/></linearGradient><linearGradient id="egry" x1="0" y1="0" x2="1" y2="0.2"><stop offset="0" stop-color="#cccccc"/><stop offset="1" stop-color="#b4b4b4"/></linearGradient><filter id="bl3" x="-10%" y="-10%" width="120%" height="120%"><feGaussianBlur stdDeviation="0.3"/></filter></defs>
<g filter="url(#bl3)">
<path d="M20.5,345.8 Q33,342.4 46,337.4" fill="none" stroke="#94783e" stroke-width="2.1" />
<path d="M105.00,329.90 C103.33,330.50 99.70,332.58 95.00,333.50 C90.30,334.42 82.25,334.58 76.80,335.40 C71.35,336.22 66.10,337.43 62.30,338.40 C58.50,339.37 55.97,340.68 54.00,341.20 C52.03,341.72 51.08,341.45 50.50,341.50 L50.50,343.10 C51.08,343.05 52.03,343.32 54.00,342.80 C55.97,342.28 58.50,340.97 62.30,340.00 C66.10,339.03 71.35,337.82 76.80,337.00 C82.25,336.18 90.30,336.02 95.00,335.10 C99.70,334.18 103.33,332.10 105.00,331.50 Z" fill="#e8c832" stroke="#e8c832" stroke-width="0.3" />
<path d="M36.50,329.40 L50.50,341.50 L50.50,343.10 L36.50,331.00 Z" fill="#dcbc2c" stroke="#dcbc2c" stroke-width="0.3" />
<path d="M36.50,329.40 C37.47,328.88 40.30,327.07 42.30,326.30 C44.30,325.53 46.08,325.12 48.50,324.80 C50.92,324.48 53.80,324.52 56.80,324.40 C59.80,324.28 63.47,324.18 66.50,324.10 C69.53,324.02 72.33,324.27 75.00,323.90 C77.67,323.53 80.38,322.65 82.50,321.90 C84.62,321.15 85.98,320.18 87.70,319.40 C89.42,318.62 91.95,317.57 92.80,317.20 L105.00,329.90 C103.33,330.50 99.70,332.58 95.00,333.50 C90.30,334.42 82.25,334.58 76.80,335.40 C71.35,336.22 66.10,337.43 62.30,338.40 C58.50,339.37 55.97,340.68 54.00,341.20 C52.03,341.72 51.08,341.45 50.50,341.50 Z" fill="#6c62cc" stroke="none" stroke-width="1" />
<path d="M105.00,328.00 C103.33,328.60 99.70,330.68 95.00,331.60 C90.30,332.52 82.25,332.68 76.80,333.50 C71.35,334.32 66.10,335.53 62.30,336.50 C58.50,337.47 55.97,338.78 54.00,339.30 C52.03,339.82 51.08,339.55 50.50,339.60 L50.50,341.60 C51.08,341.55 52.03,341.82 54.00,341.30 C55.97,340.78 58.50,339.47 62.30,338.50 C66.10,337.53 71.35,336.32 76.80,335.50 C82.25,334.68 90.30,334.52 95.00,333.60 C99.70,332.68 103.33,330.60 105.00,330.00 Z" fill="#584eb4" stroke="#584eb4" stroke-width="0.3" />
<path d="M36.50,327.50 L50.50,339.60 L50.50,341.60 L36.50,329.50 Z" fill="#5248ac" stroke="#5248ac" stroke-width="0.3" />
<path d="M36.50,327.50 C37.47,326.98 40.30,325.17 42.30,324.40 C44.30,323.63 46.08,323.22 48.50,322.90 C50.92,322.58 53.80,322.62 56.80,322.50 C59.80,322.38 63.47,322.28 66.50,322.20 C69.53,322.12 72.33,322.37 75.00,322.00 C77.67,321.63 80.38,320.75 82.50,320.00 C84.62,319.25 85.98,318.28 87.70,317.50 C89.42,316.72 91.95,315.67 92.80,315.30 L105.00,328.00 C103.33,328.60 99.70,330.68 95.00,331.60 C90.30,332.52 82.25,332.68 76.80,333.50 C71.35,334.32 66.10,335.53 62.30,336.50 C58.50,337.47 55.97,338.78 54.00,339.30 C52.03,339.82 51.08,339.55 50.50,339.60 Z" fill="#6c62cc" stroke="none" stroke-width="1" />
<path d="M105.00,404.00 C103.33,404.50 99.00,406.23 95.00,407.00 C91.00,407.77 86.67,407.93 81.00,408.60 C75.33,409.27 65.83,410.13 61.00,411.00 C56.17,411.87 54.00,413.13 52.00,413.80 C50.00,414.47 49.50,414.80 49.00,415.00 L49.00,416.20 C49.50,416.00 50.00,415.67 52.00,415.00 C54.00,414.33 56.17,413.07 61.00,412.20 C65.83,411.33 75.33,410.47 81.00,409.80 C86.67,409.13 91.00,408.97 95.00,408.20 C99.00,407.43 103.33,405.70 105.00,405.20 Z" fill="#989898" stroke="#989898" stroke-width="0.3" />
<path d="M36.00,403.00 L49.00,415.00 L49.00,416.20 L36.00,404.20 Z" fill="#989898" stroke="#989898" stroke-width="0.3" />
<path d="M36.00,403.00 C36.97,402.48 39.80,400.67 41.80,399.90 C43.80,399.13 45.58,398.72 48.00,398.40 C50.42,398.08 53.30,398.12 56.30,398.00 C59.30,397.88 62.97,397.78 66.00,397.70 C69.03,397.62 71.83,397.87 74.50,397.50 C77.17,397.13 79.88,396.25 82.00,395.50 C84.12,394.75 85.48,393.78 87.20,393.00 C88.92,392.22 91.45,391.17 92.30,390.80 L105.00,404.00 C103.33,404.50 99.00,406.23 95.00,407.00 C91.00,407.77 86.67,407.93 81.00,408.60 C75.33,409.27 65.83,410.13 61.00,411.00 C56.17,411.87 54.00,413.13 52.00,413.80 C50.00,414.47 49.50,414.80 49.00,415.00 Z" fill="url(#egry)" stroke="none" stroke-width="1" />
<path d="M104.00,375.50 C102.42,376.22 99.12,378.72 94.50,379.80 C89.88,380.88 81.75,381.33 76.30,382.00 C70.85,382.67 65.73,383.05 61.80,383.80 C57.87,384.55 54.83,385.88 52.70,386.50 C50.57,387.12 49.62,387.33 49.00,387.50 L49.00,401.90 C49.62,401.73 50.57,401.52 52.70,400.90 C54.83,400.28 57.87,398.95 61.80,398.20 C65.73,397.45 70.85,397.07 76.30,396.40 C81.75,395.73 89.88,395.28 94.50,394.20 C99.12,393.12 102.42,390.62 104.00,389.90 Z" fill="url(#eblk)" stroke="none" stroke-width="1" />
<path d="M36.00,378.00 L49.00,387.50 L49.00,401.90 L36.00,392.40 Z" fill="#4a4a4a" stroke="none" stroke-width="1" />
<line x1="37.20" y1="378.80" x2="37.20" y2="393.20" stroke="#8a8a8a" stroke-width="0.5" />
<line x1="39.20" y1="380.25" x2="39.20" y2="394.65" stroke="#8a8a8a" stroke-width="0.5" />
<line x1="41.20" y1="381.70" x2="41.20" y2="396.10" stroke="#8a8a8a" stroke-width="0.5" />
<line x1="43.20" y1="383.15" x2="43.20" y2="397.55" stroke="#8a8a8a" stroke-width="0.5" />
<line x1="45.20" y1="384.60" x2="45.20" y2="399.00" stroke="#8a8a8a" stroke-width="0.5" />
<line x1="47.20" y1="386.05" x2="47.20" y2="400.45" stroke="#8a8a8a" stroke-width="0.5" />
<path d="M36.00,378.00 C37.25,377.30 39.50,374.80 43.50,373.80 C47.50,372.80 54.53,372.47 60.00,372.00 C65.47,371.53 71.77,371.83 76.30,371.00 C80.83,370.17 84.53,368.05 87.20,367.00 C89.87,365.95 91.45,365.08 92.30,364.70 L104.00,375.50 C102.42,376.22 99.12,378.72 94.50,379.80 C89.88,380.88 81.75,381.33 76.30,382.00 C70.85,382.67 65.73,383.05 61.80,383.80 C57.87,384.55 54.83,385.88 52.70,386.50 C50.57,387.12 49.62,387.33 49.00,387.50 Z" fill="#4a4a4a" stroke="none" stroke-width="1" />
</g>
<clipPath id="eclip"><path d="M36.00,378.00 C37.25,377.30 39.50,374.80 43.50,373.80 C47.50,372.80 54.53,372.47 60.00,372.00 C65.47,371.53 71.77,371.83 76.30,371.00 C80.83,370.17 84.53,368.05 87.20,367.00 C89.87,365.95 91.45,365.08 92.30,364.70 L104.00,375.50 C102.42,376.22 99.12,378.72 94.50,379.80 C89.88,380.88 81.75,381.33 76.30,382.00 C70.85,382.67 65.73,383.05 61.80,383.80 C57.87,384.55 54.83,385.88 52.70,386.50 C50.57,387.12 49.62,387.33 49.00,387.50 Z"/></clipPath>
<g clip-path="url(#eclip)">
<ellipse cx="54.13" cy="381.50" rx="1.989257622267066" ry="1.0656737262144995" fill="#f6f6f6" stroke="#1c1c1c" stroke-width="0.2" transform="rotate(-12 54.1 381.5)"/>
<ellipse cx="81.64" cy="380.99" rx="2.3003080086281424" ry="1.2323078617650765" fill="#f6f6f6" stroke="#1c1c1c" stroke-width="0.2" transform="rotate(-12 81.6 381.0)"/>
<ellipse cx="45.11" cy="377.35" rx="1.1993646512261245" ry="0.6425167774425666" fill="#d6d6d6" stroke="#1c1c1c" stroke-width="0.2" transform="rotate(-12 45.1 377.3)"/>
<ellipse cx="38.10" cy="366.41" rx="1.9893901746132643" ry="1.065744736399963" fill="#e8e8e8" stroke="#1c1c1c" stroke-width="0.2" transform="rotate(-12 38.1 366.4)"/>
<ellipse cx="105.51" cy="385.53" rx="0.9827172376495475" ry="0.5264556630265433" fill="#d6d6d6" stroke="#1c1c1c" stroke-width="0.2" transform="rotate(-12 105.5 385.5)"/>
<ellipse cx="93.85" cy="383.11" rx="2.4348633402166664" ry="1.3043910751160714" fill="#d6d6d6" stroke="#1c1c1c" stroke-width="0.2" transform="rotate(-12 93.8 383.1)"/>
<ellipse cx="60.90" cy="369.32" rx="2.3490445487827545" ry="1.25841672256219" fill="#a8a8a8" stroke="#1c1c1c" stroke-width="0.2" transform="rotate(-12 60.9 369.3)"/>
<ellipse cx="75.49" cy="374.60" rx="1.451860410369168" ry="0.7777823626977686" fill="#fff" stroke="#1c1c1c" stroke-width="0.2" transform="rotate(-12 75.5 374.6)"/>
<ellipse cx="80.71" cy="380.69" rx="1.4212451143339373" ry="0.7613813112503236" fill="#d6d6d6" stroke="#1c1c1c" stroke-width="0.2" transform="rotate(-12 80.7 380.7)"/>
<ellipse cx="84.36" cy="377.96" rx="2.0973313055814766" ry="1.123570342275791" fill="#f6f6f6" stroke="#1c1c1c" stroke-width="0.2" transform="rotate(-12 84.4 378.0)"/>
<ellipse cx="66.83" cy="382.68" rx="1.7404395822938137" ry="0.9323783476574001" fill="#d6d6d6" stroke="#1c1c1c" stroke-width="0.2" transform="rotate(-12 66.8 382.7)"/>
<ellipse cx="50.18" cy="377.11" rx="1.2655637501438646" ry="0.6779805804342133" fill="#2a2a2a" stroke="#1c1c1c" stroke-width="0.2" transform="rotate(-12 50.2 377.1)"/>
<ellipse cx="54.32" cy="370.56" rx="2.3339692835488317" ry="1.2503406876154457" fill="#2a2a2a" stroke="#1c1c1c" stroke-width="0.2" transform="rotate(-12 54.3 370.6)"/>
<ellipse cx="74.50" cy="378.26" rx="2.3295235926412627" ry="1.247959067486391" fill="#1a1a1a" stroke="#1c1c1c" stroke-width="0.2" transform="rotate(-12 74.5 378.3)"/>
<ellipse cx="45.18" cy="374.62" rx="1.8968643963497798" ry="1.016177355187382" fill="#2a2a2a" stroke="#1c1c1c" stroke-width="0.2" transform="rotate(-12 45.2 374.6)"/>
<ellipse cx="63.28" cy="382.41" rx="2.4074027325019753" ry="1.2896800352689155" fill="#e8e8e8" stroke="#1c1c1c" stroke-width="0.2" transform="rotate(-12 63.3 382.4)"/>
<ellipse cx="51.74" cy="376.45" rx="2.0128593811995104" ry="1.078317525642595" fill="#2a2a2a" stroke="#1c1c1c" stroke-width="0.2" transform="rotate(-12 51.7 376.4)"/>
<ellipse cx="80.73" cy="367.31" rx="1.5346647193797605" ry="0.8221418139534431" fill="#d6d6d6" stroke="#1c1c1c" stroke-width="0.2" transform="rotate(-12 80.7 367.3)"/>
<ellipse cx="98.03" cy="384.69" rx="1.181137931831633" ry="0.632752463481232" fill="#1a1a1a" stroke="#1c1c1c" stroke-width="0.2" transform="rotate(-12 98.0 384.7)"/>
<ellipse cx="72.42" cy="380.74" rx="2.3544179388269004" ry="1.261295324371554" fill="#8e8e8e" stroke="#1c1c1c" stroke-width="0.2" transform="rotate(-12 72.4 380.7)"/>
<ellipse cx="86.59" cy="368.72" rx="1.8769640337788036" ry="1.0055164466672162" fill="#e8e8e8" stroke="#1c1c1c" stroke-width="0.2" transform="rotate(-12 86.6 368.7)"/>
<ellipse cx="61.15" cy="382.65" rx="1.4134409349114723" ry="0.7572005008454317" fill="#d6d6d6" stroke="#1c1c1c" stroke-width="0.2" transform="rotate(-12 61.2 382.6)"/>
<ellipse cx="49.50" cy="384.26" rx="1.7728919180378098" ry="0.9497635275202553" fill="#8e8e8e" stroke="#1c1c1c" stroke-width="0.2" transform="rotate(-12 49.5 384.3)"/>
<ellipse cx="47.71" cy="374.59" rx="1.839788648294933" ry="0.9856010615865713" fill="#a8a8a8" stroke="#1c1c1c" stroke-width="0.2" transform="rotate(-12 47.7 374.6)"/>
<ellipse cx="84.66" cy="389.22" rx="2.22659885895505" ry="1.1928208172973482" fill="#bdbdbd" stroke="#1c1c1c" stroke-width="0.2" transform="rotate(-12 84.7 389.2)"/>
<ellipse cx="72.86" cy="366.42" rx="1.3617855796526908" ry="0.7295279890996558" fill="#fff" stroke="#1c1c1c" stroke-width="0.2" transform="rotate(-12 72.9 366.4)"/>
<ellipse cx="57.11" cy="370.26" rx="1.8433949659342566" ry="0.9875330174647804" fill="#bdbdbd" stroke="#1c1c1c" stroke-width="0.2" transform="rotate(-12 57.1 370.3)"/>
<ellipse cx="101.69" cy="377.09" rx="2.270741305663926" ry="1.2164685566056748" fill="#e8e8e8" stroke="#1c1c1c" stroke-width="0.2" transform="rotate(-12 101.7 377.1)"/>
<ellipse cx="36.40" cy="372.04" rx="1.6742193172901667" ry="0.8969032056911608" fill="#a8a8a8" stroke="#1c1c1c" stroke-width="0.2" transform="rotate(-12 36.4 372.0)"/>
<ellipse cx="72.17" cy="375.80" rx="1.9647633709619927" ry="1.052551805872496" fill="#d6d6d6" stroke="#1c1c1c" stroke-width="0.2" transform="rotate(-12 72.2 375.8)"/>
<ellipse cx="91.92" cy="373.16" rx="2.039895948838254" ry="1.0928014011633507" fill="#f6f6f6" stroke="#1c1c1c" stroke-width="0.2" transform="rotate(-12 91.9 373.2)"/>
<ellipse cx="87.69" cy="369.97" rx="1.9892000569748942" ry="1.065642887665122" fill="#8e8e8e" stroke="#1c1c1c" stroke-width="0.2" transform="rotate(-12 87.7 370.0)"/>
<ellipse cx="54.10" cy="378.88" rx="1.4373487283177016" ry="0.7700082473130545" fill="#8e8e8e" stroke="#1c1c1c" stroke-width="0.2" transform="rotate(-12 54.1 378.9)"/>
<ellipse cx="77.45" cy="374.55" rx="1.9163831224246057" ry="1.0266338155846104" fill="#fff" stroke="#1c1c1c" stroke-width="0.2" transform="rotate(-12 77.4 374.6)"/>
<ellipse cx="38.67" cy="373.74" rx="0.9857517680168967" ry="0.5280813042947661" fill="#e8e8e8" stroke="#1c1c1c" stroke-width="0.2" transform="rotate(-12 38.7 373.7)"/>
<ellipse cx="77.99" cy="363.11" rx="2.1400703093015974" ry="1.1464662371258558" fill="#8e8e8e" stroke="#1c1c1c" stroke-width="0.2" transform="rotate(-12 78.0 363.1)"/>
<ellipse cx="67.47" cy="389.77" rx="1.494668684595937" ry="0.8007153667478235" fill="#e8e8e8" stroke="#1c1c1c" stroke-width="0.2" transform="rotate(-12 67.5 389.8)"/>
<ellipse cx="56.26" cy="374.74" rx="1.0701406038497172" ry="0.5732896092052057" fill="#e8e8e8" stroke="#1c1c1c" stroke-width="0.2" transform="rotate(-12 56.3 374.7)"/>
<ellipse cx="43.84" cy="385.23" rx="1.2067019215029808" ry="0.6464474579480255" fill="#d6d6d6" stroke="#1c1c1c" stroke-width="0.2" transform="rotate(-12 43.8 385.2)"/>
<ellipse cx="78.23" cy="370.86" rx="1.42396028798446" ry="0.7628358685631036" fill="#bdbdbd" stroke="#1c1c1c" stroke-width="0.2" transform="rotate(-12 78.2 370.9)"/>
<ellipse cx="61.27" cy="374.93" rx="2.3124237193161243" ry="1.2387984210622096" fill="#fff" stroke="#1c1c1c" stroke-width="0.2" transform="rotate(-12 61.3 374.9)"/>
<ellipse cx="39.05" cy="377.45" rx="1.057317961644859" ry="0.5664203365954601" fill="#e8e8e8" stroke="#1c1c1c" stroke-width="0.2" transform="rotate(-12 39.1 377.4)"/>
<ellipse cx="58.59" cy="387.11" rx="1.7562768051223876" ry="0.9408625741727077" fill="#f6f6f6" stroke="#1c1c1c" stroke-width="0.2" transform="rotate(-12 58.6 387.1)"/>
<ellipse cx="99.16" cy="387.15" rx="2.3727498866493413" ry="1.2711160107050044" fill="#f6f6f6" stroke="#1c1c1c" stroke-width="0.2" transform="rotate(-12 99.2 387.2)"/>
<ellipse cx="42.28" cy="388.16" rx="0.9582169540193246" ry="0.5133305110817811" fill="#d6d6d6" stroke="#1c1c1c" stroke-width="0.2" transform="rotate(-12 42.3 388.2)"/>
<ellipse cx="92.12" cy="368.77" rx="2.04686939775575" ry="1.096537177369152" fill="#8e8e8e" stroke="#1c1c1c" stroke-width="0.2" transform="rotate(-12 92.1 368.8)"/>
<ellipse cx="72.39" cy="387.85" rx="1.5800959259843979" ry="0.8464799603487846" fill="#fff" stroke="#1c1c1c" stroke-width="0.2" transform="rotate(-12 72.4 387.9)"/>
<ellipse cx="79.44" cy="385.67" rx="2.347928676659387" ry="1.2578189339246717" fill="#bdbdbd" stroke="#1c1c1c" stroke-width="0.2" transform="rotate(-12 79.4 385.7)"/>
<ellipse cx="78.93" cy="388.45" rx="2.116789442337078" ry="1.1339943441091491" fill="#1a1a1a" stroke="#1c1c1c" stroke-width="0.2" transform="rotate(-12 78.9 388.4)"/>
<ellipse cx="73.35" cy="371.09" rx="2.4559227809041517" ry="1.31567291834151" fill="#d6d6d6" stroke="#1c1c1c" stroke-width="0.2" transform="rotate(-12 73.4 371.1)"/>
<ellipse cx="54.25" cy="373.06" rx="2.4052757624617356" ry="1.2885405870330726" fill="#f6f6f6" stroke="#1c1c1c" stroke-width="0.2" transform="rotate(-12 54.3 373.1)"/>
<ellipse cx="86.89" cy="365.89" rx="2.0431100998502116" ry="1.0945232677768992" fill="#bdbdbd" stroke="#1c1c1c" stroke-width="0.2" transform="rotate(-12 86.9 365.9)"/>
<ellipse cx="105.97" cy="384.84" rx="1.5529063888617307" ry="0.831914136890213" fill="#d6d6d6" stroke="#1c1c1c" stroke-width="0.2" transform="rotate(-12 106.0 384.8)"/>
<ellipse cx="100.28" cy="364.10" rx="0.9990468767152189" ry="0.5352036839545815" fill="#fff" stroke="#1c1c1c" stroke-width="0.2" transform="rotate(-12 100.3 364.1)"/>
<ellipse cx="105.73" cy="375.72" rx="1.2898386688040777" ry="0.6909850011450416" fill="#f6f6f6" stroke="#1c1c1c" stroke-width="0.2" transform="rotate(-12 105.7 375.7)"/>
<ellipse cx="67.51" cy="363.10" rx="0.8891647959806521" ry="0.47633828356106367" fill="#d6d6d6" stroke="#1c1c1c" stroke-width="0.2" transform="rotate(-12 67.5 363.1)"/>
<ellipse cx="55.34" cy="369.11" rx="2.50687848281463" ry="1.342970615793552" fill="#1a1a1a" stroke="#1c1c1c" stroke-width="0.2" transform="rotate(-12 55.3 369.1)"/>
<ellipse cx="65.13" cy="389.82" rx="2.1198928635237104" ry="1.1356568911734164" fill="#2a2a2a" stroke="#1c1c1c" stroke-width="0.2" transform="rotate(-12 65.1 389.8)"/>
<ellipse cx="64.64" cy="367.19" rx="1.8113859831947177" ry="0.9703853481400274" fill="#a8a8a8" stroke="#1c1c1c" stroke-width="0.2" transform="rotate(-12 64.6 367.2)"/>
<ellipse cx="68.42" cy="383.69" rx="2.039687598346589" ry="1.0926897848285297" fill="#8e8e8e" stroke="#1c1c1c" stroke-width="0.2" transform="rotate(-12 68.4 383.7)"/>
<ellipse cx="38.03" cy="387.45" rx="1.6496488983904698" ry="0.8837404812806089" fill="#a8a8a8" stroke="#1c1c1c" stroke-width="0.2" transform="rotate(-12 38.0 387.5)"/>
<ellipse cx="48.51" cy="365.78" rx="1.829301708216306" ry="0.9799830579730211" fill="#d6d6d6" stroke="#1c1c1c" stroke-width="0.2" transform="rotate(-12 48.5 365.8)"/>
<ellipse cx="41.65" cy="387.40" rx="1.7995804428751148" ry="0.9640609515402401" fill="#e8e8e8" stroke="#1c1c1c" stroke-width="0.2" transform="rotate(-12 41.6 387.4)"/>
<ellipse cx="51.00" cy="383.12" rx="1.930385629247059" ry="1.0341351585252103" fill="#fff" stroke="#1c1c1c" stroke-width="0.2" transform="rotate(-12 51.0 383.1)"/>
<ellipse cx="37.89" cy="377.35" rx="2.1451752395080064" ry="1.1492010211650034" fill="#f6f6f6" stroke="#1c1c1c" stroke-width="0.2" transform="rotate(-12 37.9 377.4)"/>
<ellipse cx="56.87" cy="379.72" rx="1.9325766427071316" ry="1.0353089157359634" fill="#a8a8a8" stroke="#1c1c1c" stroke-width="0.2" transform="rotate(-12 56.9 379.7)"/>
<ellipse cx="65.96" cy="383.27" rx="1.2192037536001852" ry="0.6531448680000992" fill="#e8e8e8" stroke="#1c1c1c" stroke-width="0.2" transform="rotate(-12 66.0 383.3)"/>
<ellipse cx="78.56" cy="369.58" rx="1.7309987077617468" ry="0.9273207363009358" fill="#e8e8e8" stroke="#1c1c1c" stroke-width="0.2" transform="rotate(-12 78.6 369.6)"/>
<ellipse cx="75.99" cy="387.08" rx="2.3638149500718364" ry="1.266329437538484" fill="#8e8e8e" stroke="#1c1c1c" stroke-width="0.2" transform="rotate(-12 76.0 387.1)"/>
<ellipse cx="78.57" cy="377.16" rx="2.5074963480060917" ry="1.3433016150032633" fill="#8e8e8e" stroke="#1c1c1c" stroke-width="0.2" transform="rotate(-12 78.6 377.2)"/>
<ellipse cx="99.98" cy="382.99" rx="1.0086577741793783" ry="0.5403523790246669" fill="#f6f6f6" stroke="#1c1c1c" stroke-width="0.2" transform="rotate(-12 100.0 383.0)"/>
<ellipse cx="101.23" cy="385.06" rx="2.2365759997365795" ry="1.1981657141445963" fill="#1a1a1a" stroke="#1c1c1c" stroke-width="0.2" transform="rotate(-12 101.2 385.1)"/>
<ellipse cx="86.46" cy="381.01" rx="1.8323922365606533" ry="0.9816386981574929" fill="#d6d6d6" stroke="#1c1c1c" stroke-width="0.2" transform="rotate(-12 86.5 381.0)"/>
<ellipse cx="85.90" cy="366.38" rx="1.1397473594707463" ry="0.6105789425736141" fill="#bdbdbd" stroke="#1c1c1c" stroke-width="0.2" transform="rotate(-12 85.9 366.4)"/>
<ellipse cx="39.95" cy="380.33" rx="1.8648948743594838" ry="0.9990508255497235" fill="#a8a8a8" stroke="#1c1c1c" stroke-width="0.2" transform="rotate(-12 40.0 380.3)"/>
<ellipse cx="37.82" cy="375.47" rx="1.4385932737608027" ry="0.7706749680861443" fill="#2a2a2a" stroke="#1c1c1c" stroke-width="0.2" transform="rotate(-12 37.8 375.5)"/>
<ellipse cx="92.34" cy="376.86" rx="0.9532290843684217" ry="0.5106584380545116" fill="#2a2a2a" stroke="#1c1c1c" stroke-width="0.2" transform="rotate(-12 92.3 376.9)"/>
<ellipse cx="72.91" cy="370.57" rx="1.4776636517754786" ry="0.7916055277368637" fill="#bdbdbd" stroke="#1c1c1c" stroke-width="0.2" transform="rotate(-12 72.9 370.6)"/>
<ellipse cx="99.89" cy="381.46" rx="1.4705095107430604" ry="0.7877729521837824" fill="#bdbdbd" stroke="#1c1c1c" stroke-width="0.2" transform="rotate(-12 99.9 381.5)"/>
<ellipse cx="89.60" cy="388.16" rx="1.3442378277153273" ry="0.7201274077046396" fill="#e8e8e8" stroke="#1c1c1c" stroke-width="0.2" transform="rotate(-12 89.6 388.2)"/>
<ellipse cx="105.03" cy="375.09" rx="1.5296578509274825" ry="0.8194595629968657" fill="#e8e8e8" stroke="#1c1c1c" stroke-width="0.2" transform="rotate(-12 105.0 375.1)"/>
<ellipse cx="41.59" cy="368.82" rx="1.0849397791504953" ry="0.5812177388306226" fill="#1a1a1a" stroke="#1c1c1c" stroke-width="0.2" transform="rotate(-12 41.6 368.8)"/>
<ellipse cx="105.32" cy="385.68" rx="1.7319402434603008" ry="0.9278251304251612" fill="#fff" stroke="#1c1c1c" stroke-width="0.2" transform="rotate(-12 105.3 385.7)"/>
<ellipse cx="101.34" cy="370.95" rx="1.182453026895403" ry="0.633456978693966" fill="#bdbdbd" stroke="#1c1c1c" stroke-width="0.2" transform="rotate(-12 101.3 371.0)"/>
<ellipse cx="88.47" cy="380.71" rx="2.445914902332551" ry="1.3103115548210096" fill="#a8a8a8" stroke="#1c1c1c" stroke-width="0.2" transform="rotate(-12 88.5 380.7)"/>
<ellipse cx="63.07" cy="368.73" rx="1.1072958915378206" ry="0.5931942276095468" fill="#e8e8e8" stroke="#1c1c1c" stroke-width="0.2" transform="rotate(-12 63.1 368.7)"/>
<ellipse cx="47.20" cy="368.00" rx="0.9333515178322385" ry="0.500009741695842" fill="#fff" stroke="#1c1c1c" stroke-width="0.2" transform="rotate(-12 47.2 368.0)"/>
<ellipse cx="75.58" cy="386.85" rx="1.9478672761715323" ry="1.0435003265204639" fill="#fff" stroke="#1c1c1c" stroke-width="0.2" transform="rotate(-12 75.6 386.9)"/>
<ellipse cx="85.04" cy="384.52" rx="2.2731209413877345" ry="1.217743361457715" fill="#f6f6f6" stroke="#1c1c1c" stroke-width="0.2" transform="rotate(-12 85.0 384.5)"/>
<ellipse cx="43.79" cy="372.41" rx="0.9270468711228552" ry="0.49663225238724396" fill="#a8a8a8" stroke="#1c1c1c" stroke-width="0.2" transform="rotate(-12 43.8 372.4)"/>
<ellipse cx="90.50" cy="383.25" rx="0.9937685733008452" ry="0.5323760214111671" fill="#fff" stroke="#1c1c1c" stroke-width="0.2" transform="rotate(-12 90.5 383.2)"/>
<ellipse cx="57.34" cy="371.03" rx="1.2805446785169448" ry="0.6860060777769348" fill="#a8a8a8" stroke="#1c1c1c" stroke-width="0.2" transform="rotate(-12 57.3 371.0)"/>
<ellipse cx="65.24" cy="370.64" rx="2.088599935786835" ry="1.1188928227429473" fill="#8e8e8e" stroke="#1c1c1c" stroke-width="0.2" transform="rotate(-12 65.2 370.6)"/>
<ellipse cx="42.79" cy="380.60" rx="1.1099445718453762" ry="0.5946131634885945" fill="#bdbdbd" stroke="#1c1c1c" stroke-width="0.2" transform="rotate(-12 42.8 380.6)"/>
<ellipse cx="103.57" cy="369.87" rx="2.1977911609016987" ry="1.1773881219116245" fill="#8e8e8e" stroke="#1c1c1c" stroke-width="0.2" transform="rotate(-12 103.6 369.9)"/>
<ellipse cx="79.72" cy="365.70" rx="1.6683005137871738" ry="0.8937324181002717" fill="#bdbdbd" stroke="#1c1c1c" stroke-width="0.2" transform="rotate(-12 79.7 365.7)"/>
<ellipse cx="39.21" cy="387.17" rx="1.7557122855318203" ry="0.9405601529634753" fill="#f6f6f6" stroke="#1c1c1c" stroke-width="0.2" transform="rotate(-12 39.2 387.2)"/>
<ellipse cx="85.69" cy="369.30" rx="1.3972333500769838" ry="0.7485178661126699" fill="#1a1a1a" stroke="#1c1c1c" stroke-width="0.2" transform="rotate(-12 85.7 369.3)"/>
<ellipse cx="44.74" cy="382.24" rx="1.6631327509004752" ry="0.8909639736966832" fill="#bdbdbd" stroke="#1c1c1c" stroke-width="0.2" transform="rotate(-12 44.7 382.2)"/>
<ellipse cx="89.86" cy="386.10" rx="1.2916375371204891" ry="0.6919486806002622" fill="#e8e8e8" stroke="#1c1c1c" stroke-width="0.2" transform="rotate(-12 89.9 386.1)"/>
<ellipse cx="65.50" cy="366.76" rx="0.8420428408823836" ry="0.4510943790441341" fill="#a8a8a8" stroke="#1c1c1c" stroke-width="0.2" transform="rotate(-12 65.5 366.8)"/>
<ellipse cx="45.82" cy="372.39" rx="1.5600024467818419" ry="0.8357155964902725" fill="#fff" stroke="#1c1c1c" stroke-width="0.2" transform="rotate(-12 45.8 372.4)"/>
<ellipse cx="37.35" cy="372.78" rx="2.102629883485153" ry="1.1264088661527605" fill="#8e8e8e" stroke="#1c1c1c" stroke-width="0.2" transform="rotate(-12 37.3 372.8)"/>
<ellipse cx="43.49" cy="383.04" rx="1.7865691051221897" ry="0.9570905920297446" fill="#fff" stroke="#1c1c1c" stroke-width="0.2" transform="rotate(-12 43.5 383.0)"/>
<ellipse cx="102.03" cy="384.56" rx="1.8468183553679178" ry="0.989366976089956" fill="#bdbdbd" stroke="#1c1c1c" stroke-width="0.2" transform="rotate(-12 102.0 384.6)"/>
<ellipse cx="70.43" cy="377.89" rx="2.213282409452068" ry="1.185687005063608" fill="#fff" stroke="#1c1c1c" stroke-width="0.2" transform="rotate(-12 70.4 377.9)"/>
<ellipse cx="91.98" cy="373.75" rx="1.5015442592763126" ry="0.8043987103265962" fill="#fff" stroke="#1c1c1c" stroke-width="0.2" transform="rotate(-12 92.0 373.7)"/>
<ellipse cx="64.01" cy="365.17" rx="1.247153019559396" ry="0.6681176890496765" fill="#f6f6f6" stroke="#1c1c1c" stroke-width="0.2" transform="rotate(-12 64.0 365.2)"/>
<ellipse cx="94.38" cy="379.04" rx="1.7780595505438168" ry="0.9525319020770447" fill="#2a2a2a" stroke="#1c1c1c" stroke-width="0.2" transform="rotate(-12 94.4 379.0)"/>
<ellipse cx="66.83" cy="377.48" rx="2.1005472110273997" ry="1.1252931487646785" fill="#2a2a2a" stroke="#1c1c1c" stroke-width="0.2" transform="rotate(-12 66.8 377.5)"/>
<ellipse cx="88.06" cy="387.05" rx="1.7774496608443724" ry="0.9522051754523424" fill="#a8a8a8" stroke="#1c1c1c" stroke-width="0.2" transform="rotate(-12 88.1 387.1)"/>
<ellipse cx="86.59" cy="363.73" rx="2.4731661397960867" ry="1.3249104320336178" fill="#e8e8e8" stroke="#1c1c1c" stroke-width="0.2" transform="rotate(-12 86.6 363.7)"/>
<ellipse cx="70.92" cy="387.28" rx="0.9116064466659779" ry="0.4883605964282025" fill="#1a1a1a" stroke="#1c1c1c" stroke-width="0.2" transform="rotate(-12 70.9 387.3)"/>
<ellipse cx="49.35" cy="387.52" rx="1.5124704461193268" ry="0.8102520247067823" fill="#f6f6f6" stroke="#1c1c1c" stroke-width="0.2" transform="rotate(-12 49.3 387.5)"/>
<ellipse cx="66.79" cy="368.56" rx="2.106825313519514" ry="1.1286564179568825" fill="#fff" stroke="#1c1c1c" stroke-width="0.2" transform="rotate(-12 66.8 368.6)"/>
<ellipse cx="39.99" cy="373.88" rx="2.1887266009499533" ry="1.1725321076517607" fill="#8e8e8e" stroke="#1c1c1c" stroke-width="0.2" transform="rotate(-12 40.0 373.9)"/>
<ellipse cx="75.48" cy="374.42" rx="0.9055286072363309" ry="0.485104611019463" fill="#e8e8e8" stroke="#1c1c1c" stroke-width="0.2" transform="rotate(-12 75.5 374.4)"/>
<ellipse cx="67.24" cy="382.55" rx="1.8680977763267386" ry="1.0007666658893242" fill="#fff" stroke="#1c1c1c" stroke-width="0.2" transform="rotate(-12 67.2 382.5)"/>
<ellipse cx="100.12" cy="376.62" rx="2.2940850157382777" ry="1.2289741155740774" fill="#2a2a2a" stroke="#1c1c1c" stroke-width="0.2" transform="rotate(-12 100.1 376.6)"/>
<ellipse cx="42.02" cy="389.17" rx="1.825880023959423" ry="0.9781500128354053" fill="#2a2a2a" stroke="#1c1c1c" stroke-width="0.2" transform="rotate(-12 42.0 389.2)"/>
<ellipse cx="41.70" cy="377.44" rx="1.9983276943427046" ry="1.0705326933978776" fill="#e8e8e8" stroke="#1c1c1c" stroke-width="0.2" transform="rotate(-12 41.7 377.4)"/>
<ellipse cx="40.19" cy="384.54" rx="1.9138664196256978" ry="1.025285581942338" fill="#8e8e8e" stroke="#1c1c1c" stroke-width="0.2" transform="rotate(-12 40.2 384.5)"/>
<ellipse cx="86.65" cy="363.74" rx="2.019054321431459" ry="1.0816362436239957" fill="#a8a8a8" stroke="#1c1c1c" stroke-width="0.2" transform="rotate(-12 86.6 363.7)"/>
<ellipse cx="96.94" cy="375.57" rx="0.9001190255314373" ry="0.4822066208204129" fill="#e8e8e8" stroke="#1c1c1c" stroke-width="0.2" transform="rotate(-12 96.9 375.6)"/>
<ellipse cx="50.15" cy="382.74" rx="1.6790329075126975" ry="0.8994819147389451" fill="#f6f6f6" stroke="#1c1c1c" stroke-width="0.2" transform="rotate(-12 50.2 382.7)"/>
<ellipse cx="46.34" cy="384.43" rx="2.0500307067829695" ry="1.0982307357765908" fill="#e8e8e8" stroke="#1c1c1c" stroke-width="0.2" transform="rotate(-12 46.3 384.4)"/>
<ellipse cx="48.43" cy="364.80" rx="1.1237256822597659" ry="0.6019959012105889" fill="#2a2a2a" stroke="#1c1c1c" stroke-width="0.2" transform="rotate(-12 48.4 364.8)"/>
<ellipse cx="103.29" cy="380.99" rx="1.6699332601076011" ry="0.894607103629072" fill="#8e8e8e" stroke="#1c1c1c" stroke-width="0.2" transform="rotate(-12 103.3 381.0)"/>
<ellipse cx="40.75" cy="384.08" rx="0.9485119468764929" ry="0.508131400112407" fill="#bdbdbd" stroke="#1c1c1c" stroke-width="0.2" transform="rotate(-12 40.8 384.1)"/>
<ellipse cx="63.14" cy="381.83" rx="1.1625748299519647" ry="0.622807944617124" fill="#e8e8e8" stroke="#1c1c1c" stroke-width="0.2" transform="rotate(-12 63.1 381.8)"/>
<ellipse cx="87.24" cy="373.31" rx="1.1850494492704664" ry="0.6348479192520355" fill="#2a2a2a" stroke="#1c1c1c" stroke-width="0.2" transform="rotate(-12 87.2 373.3)"/>
<ellipse cx="83.41" cy="389.88" rx="1.0797322406832082" ry="0.5784279860802901" fill="#f6f6f6" stroke="#1c1c1c" stroke-width="0.2" transform="rotate(-12 83.4 389.9)"/>
<ellipse cx="97.79" cy="385.66" rx="1.813440452212122" ry="0.9714859565422083" fill="#bdbdbd" stroke="#1c1c1c" stroke-width="0.2" transform="rotate(-12 97.8 385.7)"/>
<ellipse cx="71.27" cy="374.60" rx="2.2047179821498797" ry="1.181098919008864" fill="#fff" stroke="#1c1c1c" stroke-width="0.2" transform="rotate(-12 71.3 374.6)"/>
<ellipse cx="79.28" cy="369.63" rx="1.3588190835836245" ry="0.7279387947769417" fill="#2a2a2a" stroke="#1c1c1c" stroke-width="0.2" transform="rotate(-12 79.3 369.6)"/>
<ellipse cx="90.00" cy="363.18" rx="2.1239359797781825" ry="1.1378228463097406" fill="#2a2a2a" stroke="#1c1c1c" stroke-width="0.2" transform="rotate(-12 90.0 363.2)"/>
<ellipse cx="52.46" cy="381.12" rx="2.21052195363817" ry="1.18420818944902" fill="#d6d6d6" stroke="#1c1c1c" stroke-width="0.2" transform="rotate(-12 52.5 381.1)"/>
<ellipse cx="37.42" cy="383.80" rx="2.450732174855746" ry="1.3128922365298639" fill="#a8a8a8" stroke="#1c1c1c" stroke-width="0.2" transform="rotate(-12 37.4 383.8)"/>
<ellipse cx="55.29" cy="377.53" rx="2.1954011284175463" ry="1.1761077473665427" fill="#e8e8e8" stroke="#1c1c1c" stroke-width="0.2" transform="rotate(-12 55.3 377.5)"/>
<ellipse cx="82.35" cy="387.85" rx="1.0546391969165663" ry="0.5649852840624463" fill="#1a1a1a" stroke="#1c1c1c" stroke-width="0.2" transform="rotate(-12 82.4 387.9)"/>
<ellipse cx="52.88" cy="374.90" rx="2.002690735098405" ry="1.07287003665986" fill="#d6d6d6" stroke="#1c1c1c" stroke-width="0.2" transform="rotate(-12 52.9 374.9)"/>
<ellipse cx="43.03" cy="363.96" rx="1.3914631445907824" ry="0.7454266846022048" fill="#e8e8e8" stroke="#1c1c1c" stroke-width="0.2" transform="rotate(-12 43.0 364.0)"/>
<ellipse cx="40.94" cy="387.05" rx="1.0238641415122056" ry="0.5484986472386816" fill="#1a1a1a" stroke="#1c1c1c" stroke-width="0.2" transform="rotate(-12 40.9 387.1)"/>
<ellipse cx="41.94" cy="383.65" rx="2.1347269325725198" ry="1.1436037138781356" fill="#f6f6f6" stroke="#1c1c1c" stroke-width="0.2" transform="rotate(-12 41.9 383.7)"/>
<ellipse cx="88.24" cy="376.12" rx="1.8003498231271748" ry="0.9644731195324152" fill="#e8e8e8" stroke="#1c1c1c" stroke-width="0.2" transform="rotate(-12 88.2 376.1)"/>
<ellipse cx="68.66" cy="382.34" rx="2.4494194370448237" ry="1.3121889841311556" fill="#1a1a1a" stroke="#1c1c1c" stroke-width="0.2" transform="rotate(-12 68.7 382.3)"/>
<ellipse cx="74.71" cy="389.00" rx="0.9734873954296748" ry="0.5215111046944687" fill="#fff" stroke="#1c1c1c" stroke-width="0.2" transform="rotate(-12 74.7 389.0)"/>
<ellipse cx="89.48" cy="386.16" rx="2.3080084125560467" ry="1.236433078155025" fill="#8e8e8e" stroke="#1c1c1c" stroke-width="0.2" transform="rotate(-12 89.5 386.2)"/>
<ellipse cx="102.53" cy="367.20" rx="1.8040676863457845" ry="0.9664648319709561" fill="#bdbdbd" stroke="#1c1c1c" stroke-width="0.2" transform="rotate(-12 102.5 367.2)"/>
<ellipse cx="63.17" cy="370.89" rx="1.6731827205354655" ry="0.8963478860011422" fill="#fff" stroke="#1c1c1c" stroke-width="0.2" transform="rotate(-12 63.2 370.9)"/>
<ellipse cx="93.11" cy="376.42" rx="1.0137629253504288" ry="0.5430872814377298" fill="#a8a8a8" stroke="#1c1c1c" stroke-width="0.2" transform="rotate(-12 93.1 376.4)"/>
<ellipse cx="62.90" cy="364.26" rx="1.3537490346879102" ry="0.7252226971542377" fill="#8e8e8e" stroke="#1c1c1c" stroke-width="0.2" transform="rotate(-12 62.9 364.3)"/>
<ellipse cx="69.07" cy="381.45" rx="1.556445668295996" ry="0.8338101794442836" fill="#bdbdbd" stroke="#1c1c1c" stroke-width="0.2" transform="rotate(-12 69.1 381.4)"/>
<ellipse cx="69.14" cy="371.26" rx="1.9173610958844463" ry="1.0271577299380963" fill="#1a1a1a" stroke="#1c1c1c" stroke-width="0.2" transform="rotate(-12 69.1 371.3)"/>
<ellipse cx="36.75" cy="388.55" rx="0.8748226843043284" ry="0.4686550094487474" fill="#f6f6f6" stroke="#1c1c1c" stroke-width="0.2" transform="rotate(-12 36.7 388.5)"/>
<ellipse cx="72.89" cy="364.03" rx="1.3302971456013468" ry="0.7126591851435786" fill="#fff" stroke="#1c1c1c" stroke-width="0.2" transform="rotate(-12 72.9 364.0)"/>
<ellipse cx="36.06" cy="374.43" rx="1.9883046192994658" ry="1.0651631889104283" fill="#fff" stroke="#1c1c1c" stroke-width="0.2" transform="rotate(-12 36.1 374.4)"/>
<ellipse cx="39.51" cy="367.15" rx="2.1015639881242048" ry="1.125837850780824" fill="#fff" stroke="#1c1c1c" stroke-width="0.2" transform="rotate(-12 39.5 367.1)"/>
<ellipse cx="53.40" cy="386.40" rx="1.7053477073192609" ry="0.9135791289210327" fill="#8e8e8e" stroke="#1c1c1c" stroke-width="0.2" transform="rotate(-12 53.4 386.4)"/>
<ellipse cx="37.61" cy="371.49" rx="1.123730380637693" ry="0.6019984181987641" fill="#8e8e8e" stroke="#1c1c1c" stroke-width="0.2" transform="rotate(-12 37.6 371.5)"/>
<ellipse cx="51.38" cy="372.62" rx="2.3407481828157737" ry="1.2539722407941645" fill="#fff" stroke="#1c1c1c" stroke-width="0.2" transform="rotate(-12 51.4 372.6)"/>
<ellipse cx="94.92" cy="380.04" rx="0.8594222779877245" ry="0.4604047917791382" fill="#8e8e8e" stroke="#1c1c1c" stroke-width="0.2" transform="rotate(-12 94.9 380.0)"/>
<ellipse cx="88.90" cy="369.98" rx="2.387367062798084" ry="1.278946640784688" fill="#a8a8a8" stroke="#1c1c1c" stroke-width="0.2" transform="rotate(-12 88.9 370.0)"/>
<ellipse cx="87.19" cy="369.53" rx="1.0154690997309361" ry="0.5440013034272873" fill="#fff" stroke="#1c1c1c" stroke-width="0.2" transform="rotate(-12 87.2 369.5)"/>
<ellipse cx="66.97" cy="370.95" rx="1.7810173144144283" ry="0.954116418436301" fill="#bdbdbd" stroke="#1c1c1c" stroke-width="0.2" transform="rotate(-12 67.0 371.0)"/>
<ellipse cx="84.49" cy="370.65" rx="1.2221027023508362" ry="0.6546978762593766" fill="#fff" stroke="#1c1c1c" stroke-width="0.2" transform="rotate(-12 84.5 370.7)"/>
<ellipse cx="44.58" cy="387.13" rx="1.0170288356543993" ry="0.5448368762434282" fill="#8e8e8e" stroke="#1c1c1c" stroke-width="0.2" transform="rotate(-12 44.6 387.1)"/>
<ellipse cx="44.20" cy="368.89" rx="1.9786032390071684" ry="1.0599660208966974" fill="#1a1a1a" stroke="#1c1c1c" stroke-width="0.2" transform="rotate(-12 44.2 368.9)"/>
<ellipse cx="63.91" cy="368.12" rx="1.7047042451504757" ry="0.9132344170448977" fill="#bdbdbd" stroke="#1c1c1c" stroke-width="0.2" transform="rotate(-12 63.9 368.1)"/>
<ellipse cx="41.53" cy="371.84" rx="1.5320238344724197" ry="0.8207270541816535" fill="#fff" stroke="#1c1c1c" stroke-width="0.2" transform="rotate(-12 41.5 371.8)"/>
<ellipse cx="63.12" cy="365.04" rx="1.7934159813426773" ry="0.9607585614335772" fill="#a8a8a8" stroke="#1c1c1c" stroke-width="0.2" transform="rotate(-12 63.1 365.0)"/>
<ellipse cx="48.49" cy="371.00" rx="2.0001610039946915" ry="1.071514823568585" fill="#2a2a2a" stroke="#1c1c1c" stroke-width="0.2" transform="rotate(-12 48.5 371.0)"/>
<ellipse cx="74.23" cy="377.35" rx="2.3681775353313217" ry="1.2686665367846368" fill="#bdbdbd" stroke="#1c1c1c" stroke-width="0.2" transform="rotate(-12 74.2 377.3)"/>
<ellipse cx="60.72" cy="385.41" rx="1.876741093559689" ry="1.0053970144069764" fill="#1a1a1a" stroke="#1c1c1c" stroke-width="0.2" transform="rotate(-12 60.7 385.4)"/>
<ellipse cx="60.90" cy="378.65" rx="1.5370190123692082" ry="0.8234030423406473" fill="#a8a8a8" stroke="#1c1c1c" stroke-width="0.2" transform="rotate(-12 60.9 378.7)"/>
<ellipse cx="63.10" cy="367.24" rx="1.9386074235951594" ry="1.0385396912116924" fill="#fff" stroke="#1c1c1c" stroke-width="0.2" transform="rotate(-12 63.1 367.2)"/>
<ellipse cx="92.90" cy="386.23" rx="1.0143608991763469" ry="0.5434076245587574" fill="#8e8e8e" stroke="#1c1c1c" stroke-width="0.2" transform="rotate(-12 92.9 386.2)"/>
<ellipse cx="44.70" cy="385.89" rx="1.5052675972034235" ry="0.8063933556446912" fill="#2a2a2a" stroke="#1c1c1c" stroke-width="0.2" transform="rotate(-12 44.7 385.9)"/>
<ellipse cx="83.09" cy="386.40" rx="1.5172496115529313" ry="0.812812291903356" fill="#bdbdbd" stroke="#1c1c1c" stroke-width="0.2" transform="rotate(-12 83.1 386.4)"/>
<ellipse cx="96.36" cy="375.12" rx="1.577326955885381" ry="0.8449965835100256" fill="#1a1a1a" stroke="#1c1c1c" stroke-width="0.2" transform="rotate(-12 96.4 375.1)"/>
<ellipse cx="93.79" cy="385.24" rx="1.6763362292020232" ry="0.898037265643941" fill="#d6d6d6" stroke="#1c1c1c" stroke-width="0.2" transform="rotate(-12 93.8 385.2)"/>
<ellipse cx="103.55" cy="373.12" rx="1.3226683367351428" ry="0.7085723232509695" fill="#1a1a1a" stroke="#1c1c1c" stroke-width="0.2" transform="rotate(-12 103.5 373.1)"/>
<ellipse cx="96.79" cy="383.81" rx="2.2216716371973475" ry="1.190181234212865" fill="#e8e8e8" stroke="#1c1c1c" stroke-width="0.2" transform="rotate(-12 96.8 383.8)"/>
<ellipse cx="58.07" cy="365.34" rx="1.0869122346082305" ry="0.5822744113972664" fill="#8e8e8e" stroke="#1c1c1c" stroke-width="0.2" transform="rotate(-12 58.1 365.3)"/>
<ellipse cx="88.84" cy="386.37" rx="2.3468597420663504" ry="1.2572462903926878" fill="#d6d6d6" stroke="#1c1c1c" stroke-width="0.2" transform="rotate(-12 88.8 386.4)"/>
<ellipse cx="96.36" cy="372.87" rx="1.6428165983379917" ry="0.8800803205382098" fill="#f6f6f6" stroke="#1c1c1c" stroke-width="0.2" transform="rotate(-12 96.4 372.9)"/>
<ellipse cx="76.15" cy="375.55" rx="1.4302836618440027" ry="0.7662233902735729" fill="#fff" stroke="#1c1c1c" stroke-width="0.2" transform="rotate(-12 76.2 375.5)"/>
<ellipse cx="42.88" cy="388.59" rx="2.4640170286428393" ry="1.3200091224872355" fill="#8e8e8e" stroke="#1c1c1c" stroke-width="0.2" transform="rotate(-12 42.9 388.6)"/>
<ellipse cx="91.50" cy="385.87" rx="0.8552203919538971" ry="0.4581537814038734" fill="#bdbdbd" stroke="#1c1c1c" stroke-width="0.2" transform="rotate(-12 91.5 385.9)"/>
<ellipse cx="65.01" cy="367.64" rx="1.181768796759954" ry="0.6330904268356897" fill="#f6f6f6" stroke="#1c1c1c" stroke-width="0.2" transform="rotate(-12 65.0 367.6)"/>
<ellipse cx="103.58" cy="371.94" rx="1.7499544189089504" ry="0.9374755815583663" fill="#fff" stroke="#1c1c1c" stroke-width="0.2" transform="rotate(-12 103.6 371.9)"/>
<ellipse cx="72.77" cy="366.24" rx="1.8191283797258906" ry="0.9745330605674414" fill="#fff" stroke="#1c1c1c" stroke-width="0.2" transform="rotate(-12 72.8 366.2)"/>
<ellipse cx="94.19" cy="364.46" rx="2.409113921029362" ry="1.290596743408587" fill="#bdbdbd" stroke="#1c1c1c" stroke-width="0.2" transform="rotate(-12 94.2 364.5)"/>
<ellipse cx="98.67" cy="378.40" rx="1.2687789960473355" ry="0.6797030335967869" fill="#bdbdbd" stroke="#1c1c1c" stroke-width="0.2" transform="rotate(-12 98.7 378.4)"/>
<ellipse cx="69.58" cy="379.28" rx="1.6268524097043113" ry="0.8715280766273097" fill="#d6d6d6" stroke="#1c1c1c" stroke-width="0.2" transform="rotate(-12 69.6 379.3)"/>
<ellipse cx="87.22" cy="374.94" rx="1.4537260231007276" ry="0.7787817980896755" fill="#8e8e8e" stroke="#1c1c1c" stroke-width="0.2" transform="rotate(-12 87.2 374.9)"/>
<ellipse cx="78.16" cy="386.57" rx="1.7266497899571296" ry="0.9249909589056052" fill="#fff" stroke="#1c1c1c" stroke-width="0.2" transform="rotate(-12 78.2 386.6)"/>
<ellipse cx="87.22" cy="386.12" rx="1.4700263877004927" ry="0.7875141362681211" fill="#1a1a1a" stroke="#1c1c1c" stroke-width="0.2" transform="rotate(-12 87.2 386.1)"/>
<ellipse cx="100.62" cy="377.92" rx="0.9802333267291331" ry="0.5251249964620356" fill="#8e8e8e" stroke="#1c1c1c" stroke-width="0.2" transform="rotate(-12 100.6 377.9)"/>
<ellipse cx="93.64" cy="385.10" rx="1.7434370934824357" ry="0.9339841572227334" fill="#d6d6d6" stroke="#1c1c1c" stroke-width="0.2" transform="rotate(-12 93.6 385.1)"/>
<ellipse cx="60.16" cy="379.59" rx="1.1819323302149192" ry="0.6331780340437068" fill="#e8e8e8" stroke="#1c1c1c" stroke-width="0.2" transform="rotate(-12 60.2 379.6)"/>
<ellipse cx="89.31" cy="373.99" rx="2.3334219384779353" ry="1.250047467041751" fill="#e8e8e8" stroke="#1c1c1c" stroke-width="0.2" transform="rotate(-12 89.3 374.0)"/>
<ellipse cx="88.67" cy="371.96" rx="2.305462257586691" ry="1.235069066564299" fill="#d6d6d6" stroke="#1c1c1c" stroke-width="0.2" transform="rotate(-12 88.7 372.0)"/>
<ellipse cx="41.34" cy="374.47" rx="1.7659281230659651" ry="0.9460329230710528" fill="#d6d6d6" stroke="#1c1c1c" stroke-width="0.2" transform="rotate(-12 41.3 374.5)"/>
<ellipse cx="87.51" cy="381.04" rx="1.9839216908209156" ry="1.0628151915112047" fill="#bdbdbd" stroke="#1c1c1c" stroke-width="0.2" transform="rotate(-12 87.5 381.0)"/>
<ellipse cx="74.74" cy="363.54" rx="1.6158080495835965" ry="0.8656114551340696" fill="#8e8e8e" stroke="#1c1c1c" stroke-width="0.2" transform="rotate(-12 74.7 363.5)"/>
<ellipse cx="36.26" cy="365.91" rx="2.353174843094854" ry="1.260629380229386" fill="#e8e8e8" stroke="#1c1c1c" stroke-width="0.2" transform="rotate(-12 36.3 365.9)"/>
<ellipse cx="71.41" cy="370.97" rx="1.3408755706482463" ry="0.7183261985615605" fill="#2a2a2a" stroke="#1c1c1c" stroke-width="0.2" transform="rotate(-12 71.4 371.0)"/>
<ellipse cx="103.00" cy="375.00" rx="1.3379150850586026" ry="0.7167402241385372" fill="#8e8e8e" stroke="#1c1c1c" stroke-width="0.2" transform="rotate(-12 103.0 375.0)"/>
<ellipse cx="97.48" cy="387.63" rx="1.6561169008992573" ry="0.8872054826246022" fill="#2a2a2a" stroke="#1c1c1c" stroke-width="0.2" transform="rotate(-12 97.5 387.6)"/>
<ellipse cx="72.51" cy="366.86" rx="1.015075486089204" ry="0.5437904389763593" fill="#1a1a1a" stroke="#1c1c1c" stroke-width="0.2" transform="rotate(-12 72.5 366.9)"/>
<ellipse cx="74.18" cy="363.73" rx="1.2937151234742097" ry="0.6930616732897552" fill="#f6f6f6" stroke="#1c1c1c" stroke-width="0.2" transform="rotate(-12 74.2 363.7)"/>
<ellipse cx="55.44" cy="380.12" rx="1.8857251698115616" ry="1.010209912399051" fill="#1a1a1a" stroke="#1c1c1c" stroke-width="0.2" transform="rotate(-12 55.4 380.1)"/>
<ellipse cx="51.89" cy="370.64" rx="1.218289211309353" ry="0.6526549346300107" fill="#1a1a1a" stroke="#1c1c1c" stroke-width="0.2" transform="rotate(-12 51.9 370.6)"/>
<ellipse cx="41.38" cy="367.75" rx="0.9057941059980472" ry="0.4852468424989539" fill="#a8a8a8" stroke="#1c1c1c" stroke-width="0.2" transform="rotate(-12 41.4 367.8)"/>
<ellipse cx="50.19" cy="387.83" rx="1.8795246492774298" ry="1.0068882049700518" fill="#2a2a2a" stroke="#1c1c1c" stroke-width="0.2" transform="rotate(-12 50.2 387.8)"/>
<ellipse cx="83.16" cy="364.22" rx="0.9361473393726237" ry="0.5015075032353342" fill="#bdbdbd" stroke="#1c1c1c" stroke-width="0.2" transform="rotate(-12 83.2 364.2)"/>
<ellipse cx="83.55" cy="387.57" rx="1.0054127245635147" ry="0.5386139595875972" fill="#1a1a1a" stroke="#1c1c1c" stroke-width="0.2" transform="rotate(-12 83.5 387.6)"/>
<ellipse cx="53.54" cy="388.14" rx="0.88308850846206" ry="0.47308312953324644" fill="#f6f6f6" stroke="#1c1c1c" stroke-width="0.2" transform="rotate(-12 53.5 388.1)"/>
<ellipse cx="58.97" cy="377.01" rx="1.1326720601822378" ry="0.606788603669056" fill="#fff" stroke="#1c1c1c" stroke-width="0.2" transform="rotate(-12 59.0 377.0)"/>
<ellipse cx="53.76" cy="374.30" rx="1.735712098786684" ry="0.9298457672071523" fill="#f6f6f6" stroke="#1c1c1c" stroke-width="0.2" transform="rotate(-12 53.8 374.3)"/>
<ellipse cx="51.28" cy="367.55" rx="1.6255139595572656" ry="0.870811049762821" fill="#a8a8a8" stroke="#1c1c1c" stroke-width="0.2" transform="rotate(-12 51.3 367.6)"/>
<ellipse cx="95.39" cy="367.04" rx="1.9053309868887218" ry="1.0207130286903867" fill="#f6f6f6" stroke="#1c1c1c" stroke-width="0.2" transform="rotate(-12 95.4 367.0)"/>
<ellipse cx="39.19" cy="366.82" rx="1.9217165804612377" ry="1.0294910252470917" fill="#bdbdbd" stroke="#1c1c1c" stroke-width="0.2" transform="rotate(-12 39.2 366.8)"/>
<ellipse cx="84.65" cy="387.08" rx="2.0337647788073308" ry="1.0895168457896416" fill="#2a2a2a" stroke="#1c1c1c" stroke-width="0.2" transform="rotate(-12 84.6 387.1)"/>
<ellipse cx="102.32" cy="376.84" rx="1.45177682341618" ry="0.7777375839729537" fill="#8e8e8e" stroke="#1c1c1c" stroke-width="0.2" transform="rotate(-12 102.3 376.8)"/>
<ellipse cx="36.64" cy="376.99" rx="1.5440382788014786" ry="0.8271633636436493" fill="#d6d6d6" stroke="#1c1c1c" stroke-width="0.2" transform="rotate(-12 36.6 377.0)"/>
<ellipse cx="63.34" cy="369.78" rx="2.2599731795572793" ry="1.210699917619971" fill="#e8e8e8" stroke="#1c1c1c" stroke-width="0.2" transform="rotate(-12 63.3 369.8)"/>
<ellipse cx="76.96" cy="382.19" rx="1.38545599025352" ry="0.7422085662072428" fill="#f6f6f6" stroke="#1c1c1c" stroke-width="0.2" transform="rotate(-12 77.0 382.2)"/>
<ellipse cx="43.74" cy="366.09" rx="2.0569250060683286" ry="1.1019241103937476" fill="#2a2a2a" stroke="#1c1c1c" stroke-width="0.2" transform="rotate(-12 43.7 366.1)"/>
<ellipse cx="84.33" cy="381.17" rx="2.283679840785894" ry="1.2233999147067292" fill="#fff" stroke="#1c1c1c" stroke-width="0.2" transform="rotate(-12 84.3 381.2)"/>
<ellipse cx="47.04" cy="378.60" rx="2.032666593464675" ry="1.0889285322132187" fill="#8e8e8e" stroke="#1c1c1c" stroke-width="0.2" transform="rotate(-12 47.0 378.6)"/>
<ellipse cx="84.32" cy="377.15" rx="2.148846365675427" ry="1.1511676958975503" fill="#e8e8e8" stroke="#1c1c1c" stroke-width="0.2" transform="rotate(-12 84.3 377.1)"/>
<ellipse cx="39.21" cy="368.93" rx="1.6256239432056967" ry="0.8708699695744804" fill="#8e8e8e" stroke="#1c1c1c" stroke-width="0.2" transform="rotate(-12 39.2 368.9)"/>
<ellipse cx="88.81" cy="370.54" rx="1.7264360798452865" ry="0.9248764713456892" fill="#8e8e8e" stroke="#1c1c1c" stroke-width="0.2" transform="rotate(-12 88.8 370.5)"/>
<ellipse cx="82.86" cy="364.63" rx="1.5329177780954777" ry="0.8212059525511488" fill="#d6d6d6" stroke="#1c1c1c" stroke-width="0.2" transform="rotate(-12 82.9 364.6)"/>
<ellipse cx="71.78" cy="380.95" rx="1.9551509736496469" ry="1.0474023073123109" fill="#2a2a2a" stroke="#1c1c1c" stroke-width="0.2" transform="rotate(-12 71.8 381.0)"/>
<ellipse cx="67.60" cy="371.56" rx="1.0546360289786383" ry="0.564983586952842" fill="#8e8e8e" stroke="#1c1c1c" stroke-width="0.2" transform="rotate(-12 67.6 371.6)"/>
<ellipse cx="81.59" cy="383.33" rx="1.3682575226091085" ry="0.7329951013977367" fill="#f6f6f6" stroke="#1c1c1c" stroke-width="0.2" transform="rotate(-12 81.6 383.3)"/>
<ellipse cx="59.97" cy="372.21" rx="2.313945258631476" ry="1.2396135314097194" fill="#e8e8e8" stroke="#1c1c1c" stroke-width="0.2" transform="rotate(-12 60.0 372.2)"/>
<ellipse cx="97.13" cy="373.59" rx="1.4677639290644091" ry="0.7863021048559335" fill="#fff" stroke="#1c1c1c" stroke-width="0.2" transform="rotate(-12 97.1 373.6)"/>
<ellipse cx="75.63" cy="379.04" rx="2.338123539641717" ry="1.25256618195092" fill="#2a2a2a" stroke="#1c1c1c" stroke-width="0.2" transform="rotate(-12 75.6 379.0)"/>
<ellipse cx="39.14" cy="389.29" rx="0.9996136605738759" ry="0.5355073181645764" fill="#a8a8a8" stroke="#1c1c1c" stroke-width="0.2" transform="rotate(-12 39.1 389.3)"/>
<ellipse cx="84.93" cy="386.61" rx="1.0031233417420944" ry="0.5373875045046934" fill="#e8e8e8" stroke="#1c1c1c" stroke-width="0.2" transform="rotate(-12 84.9 386.6)"/>
<ellipse cx="42.35" cy="380.02" rx="0.9854808930299985" ry="0.5279361926946421" fill="#fff" stroke="#1c1c1c" stroke-width="0.2" transform="rotate(-12 42.4 380.0)"/>
<ellipse cx="73.97" cy="366.28" rx="2.2770930914196024" ry="1.219871298974787" fill="#8e8e8e" stroke="#1c1c1c" stroke-width="0.2" transform="rotate(-12 74.0 366.3)"/>
<ellipse cx="59.92" cy="379.94" rx="0.9084435848304088" ry="0.4866662061591476" fill="#a8a8a8" stroke="#1c1c1c" stroke-width="0.2" transform="rotate(-12 59.9 379.9)"/>
<ellipse cx="57.58" cy="372.03" rx="1.0450799000351338" ry="0.5598642321616789" fill="#d6d6d6" stroke="#1c1c1c" stroke-width="0.2" transform="rotate(-12 57.6 372.0)"/>
<ellipse cx="48.55" cy="366.41" rx="2.3774685445074653" ry="1.2736438631289992" fill="#a8a8a8" stroke="#1c1c1c" stroke-width="0.2" transform="rotate(-12 48.6 366.4)"/>
<ellipse cx="93.02" cy="373.84" rx="1.0561746762454853" ry="0.5658078622743672" fill="#f6f6f6" stroke="#1c1c1c" stroke-width="0.2" transform="rotate(-12 93.0 373.8)"/>
<ellipse cx="53.73" cy="378.75" rx="1.7079776367482176" ry="0.9149880196865452" fill="#8e8e8e" stroke="#1c1c1c" stroke-width="0.2" transform="rotate(-12 53.7 378.8)"/>
<ellipse cx="58.00" cy="375.06" rx="1.0252187213466453" ry="0.5492243150071314" fill="#bdbdbd" stroke="#1c1c1c" stroke-width="0.2" transform="rotate(-12 58.0 375.1)"/>
<ellipse cx="61.36" cy="369.53" rx="1.395730692290279" ry="0.7477128708697924" fill="#e8e8e8" stroke="#1c1c1c" stroke-width="0.2" transform="rotate(-12 61.4 369.5)"/>
<ellipse cx="83.22" cy="366.10" rx="2.3249522682553625" ry="1.24551014370823" fill="#e8e8e8" stroke="#1c1c1c" stroke-width="0.2" transform="rotate(-12 83.2 366.1)"/>
<ellipse cx="72.88" cy="385.45" rx="1.9282714397107543" ry="1.0330025569879042" fill="#e8e8e8" stroke="#1c1c1c" stroke-width="0.2" transform="rotate(-12 72.9 385.5)"/>
<ellipse cx="55.94" cy="366.16" rx="1.1311730366503296" ry="0.6059855553483908" fill="#2a2a2a" stroke="#1c1c1c" stroke-width="0.2" transform="rotate(-12 55.9 366.2)"/>
<ellipse cx="46.08" cy="381.25" rx="2.4282507271811924" ry="1.3008486038470672" fill="#bdbdbd" stroke="#1c1c1c" stroke-width="0.2" transform="rotate(-12 46.1 381.3)"/>
<ellipse cx="105.67" cy="380.50" rx="1.49287798113351" ry="0.7997560613215232" fill="#8e8e8e" stroke="#1c1c1c" stroke-width="0.2" transform="rotate(-12 105.7 380.5)"/>
<ellipse cx="95.35" cy="372.19" rx="1.1118143638653513" ry="0.5956148377850096" fill="#e8e8e8" stroke="#1c1c1c" stroke-width="0.2" transform="rotate(-12 95.3 372.2)"/>
<ellipse cx="56.85" cy="388.92" rx="2.505200765136039" ry="1.3420718384657353" fill="#8e8e8e" stroke="#1c1c1c" stroke-width="0.2" transform="rotate(-12 56.9 388.9)"/>
<ellipse cx="70.79" cy="388.67" rx="2.4316605646429226" ry="1.3026753024872801" fill="#e8e8e8" stroke="#1c1c1c" stroke-width="0.2" transform="rotate(-12 70.8 388.7)"/>
<ellipse cx="45.14" cy="375.08" rx="1.933477277135663" ry="1.0357913984655338" fill="#bdbdbd" stroke="#1c1c1c" stroke-width="0.2" transform="rotate(-12 45.1 375.1)"/>
<ellipse cx="53.71" cy="373.01" rx="1.6535752188741768" ry="0.8858438672540233" fill="#d6d6d6" stroke="#1c1c1c" stroke-width="0.2" transform="rotate(-12 53.7 373.0)"/>
<ellipse cx="46.45" cy="380.46" rx="1.6857868080245706" ry="0.9031000757274485" fill="#f6f6f6" stroke="#1c1c1c" stroke-width="0.2" transform="rotate(-12 46.5 380.5)"/>
<ellipse cx="89.52" cy="380.94" rx="1.9162986077445379" ry="1.0265885398631454" fill="#a8a8a8" stroke="#1c1c1c" stroke-width="0.2" transform="rotate(-12 89.5 380.9)"/>
<ellipse cx="96.92" cy="375.17" rx="1.9713825716316407" ry="1.056097806231236" fill="#2a2a2a" stroke="#1c1c1c" stroke-width="0.2" transform="rotate(-12 96.9 375.2)"/>
<ellipse cx="80.74" cy="372.75" rx="0.9281813771463214" ry="0.49724002347124363" fill="#2a2a2a" stroke="#1c1c1c" stroke-width="0.2" transform="rotate(-12 80.7 372.7)"/>
<ellipse cx="103.37" cy="376.08" rx="2.0958064574644286" ry="1.1227534593559438" fill="#e8e8e8" stroke="#1c1c1c" stroke-width="0.2" transform="rotate(-12 103.4 376.1)"/>
<ellipse cx="53.14" cy="364.38" rx="2.063321024848893" ry="1.1053505490261926" fill="#2a2a2a" stroke="#1c1c1c" stroke-width="0.2" transform="rotate(-12 53.1 364.4)"/>
<ellipse cx="85.42" cy="369.25" rx="1.3116014878371631" ry="0.7026436541984803" fill="#e8e8e8" stroke="#1c1c1c" stroke-width="0.2" transform="rotate(-12 85.4 369.3)"/>
<ellipse cx="55.84" cy="367.06" rx="1.88538019516903" ry="1.0100251045548376" fill="#1a1a1a" stroke="#1c1c1c" stroke-width="0.2" transform="rotate(-12 55.8 367.1)"/>
<ellipse cx="105.57" cy="387.55" rx="1.2207526727840265" ry="0.6539746461343" fill="#e8e8e8" stroke="#1c1c1c" stroke-width="0.2" transform="rotate(-12 105.6 387.6)"/>
<ellipse cx="61.19" cy="388.19" rx="1.051605060245445" ry="0.563359853702917" fill="#8e8e8e" stroke="#1c1c1c" stroke-width="0.2" transform="rotate(-12 61.2 388.2)"/>
<ellipse cx="85.13" cy="366.10" rx="1.3094166884839757" ry="0.7014732259735584" fill="#a8a8a8" stroke="#1c1c1c" stroke-width="0.2" transform="rotate(-12 85.1 366.1)"/>
<ellipse cx="90.99" cy="388.84" rx="2.4502436105931276" ry="1.31263050567489" fill="#a8a8a8" stroke="#1c1c1c" stroke-width="0.2" transform="rotate(-12 91.0 388.8)"/>
<ellipse cx="70.19" cy="370.41" rx="2.415483334232313" ry="1.294008929053025" fill="#f6f6f6" stroke="#1c1c1c" stroke-width="0.2" transform="rotate(-12 70.2 370.4)"/>
<ellipse cx="65.02" cy="379.13" rx="1.4735042311944861" ry="0.7893772667113319" fill="#f6f6f6" stroke="#1c1c1c" stroke-width="0.2" transform="rotate(-12 65.0 379.1)"/>
<ellipse cx="43.92" cy="365.04" rx="0.8617508127120755" ry="0.46165222109575477" fill="#a8a8a8" stroke="#1c1c1c" stroke-width="0.2" transform="rotate(-12 43.9 365.0)"/>
<ellipse cx="105.54" cy="379.28" rx="1.0475286167356117" ry="0.5611760446797921" fill="#8e8e8e" stroke="#1c1c1c" stroke-width="0.2" transform="rotate(-12 105.5 379.3)"/>
<ellipse cx="97.43" cy="368.84" rx="1.0863930229456225" ry="0.5819962622922978" fill="#8e8e8e" stroke="#1c1c1c" stroke-width="0.2" transform="rotate(-12 97.4 368.8)"/>
<ellipse cx="86.42" cy="367.63" rx="2.465340385062756" ry="1.3207180634264768" fill="#2a2a2a" stroke="#1c1c1c" stroke-width="0.2" transform="rotate(-12 86.4 367.6)"/>
<ellipse cx="36.07" cy="389.71" rx="2.4672627844509845" ry="1.3217479202415987" fill="#d6d6d6" stroke="#1c1c1c" stroke-width="0.2" transform="rotate(-12 36.1 389.7)"/>
<ellipse cx="53.33" cy="369.33" rx="1.2781286172228974" ry="0.6847117592265521" fill="#f6f6f6" stroke="#1c1c1c" stroke-width="0.2" transform="rotate(-12 53.3 369.3)"/>
<ellipse cx="39.12" cy="368.92" rx="1.4920297586072069" ry="0.799301656396718" fill="#1a1a1a" stroke="#1c1c1c" stroke-width="0.2" transform="rotate(-12 39.1 368.9)"/>
<ellipse cx="94.16" cy="388.73" rx="1.6013744252862205" ry="0.8578791564033325" fill="#a8a8a8" stroke="#1c1c1c" stroke-width="0.2" transform="rotate(-12 94.2 388.7)"/>
<ellipse cx="51.87" cy="369.83" rx="2.2129947795669658" ry="1.1855329176251603" fill="#f6f6f6" stroke="#1c1c1c" stroke-width="0.2" transform="rotate(-12 51.9 369.8)"/>
<ellipse cx="46.07" cy="384.86" rx="1.3404129463052257" ry="0.7180783640920853" fill="#a8a8a8" stroke="#1c1c1c" stroke-width="0.2" transform="rotate(-12 46.1 384.9)"/>
<ellipse cx="98.45" cy="387.79" rx="1.133037871477603" ry="0.6069845740058588" fill="#f6f6f6" stroke="#1c1c1c" stroke-width="0.2" transform="rotate(-12 98.4 387.8)"/>
<ellipse cx="78.93" cy="370.95" rx="1.283638332645929" ry="0.6876633924888906" fill="#d6d6d6" stroke="#1c1c1c" stroke-width="0.2" transform="rotate(-12 78.9 370.9)"/>
<ellipse cx="89.40" cy="385.20" rx="1.638114338988555" ry="0.8775612530295831" fill="#fff" stroke="#1c1c1c" stroke-width="0.2" transform="rotate(-12 89.4 385.2)"/>
<ellipse cx="46.91" cy="364.28" rx="2.139646253923067" ry="1.1462390646016432" fill="#1a1a1a" stroke="#1c1c1c" stroke-width="0.2" transform="rotate(-12 46.9 364.3)"/>
<ellipse cx="105.80" cy="375.57" rx="1.4186403516768156" ry="0.7599859026840083" fill="#f6f6f6" stroke="#1c1c1c" stroke-width="0.2" transform="rotate(-12 105.8 375.6)"/>
<ellipse cx="56.18" cy="383.32" rx="1.47134829498515" ry="0.7882223008849019" fill="#a8a8a8" stroke="#1c1c1c" stroke-width="0.2" transform="rotate(-12 56.2 383.3)"/>
<ellipse cx="71.45" cy="382.67" rx="1.984276658294358" ry="1.063005352657692" fill="#2a2a2a" stroke="#1c1c1c" stroke-width="0.2" transform="rotate(-12 71.5 382.7)"/>
<ellipse cx="56.15" cy="384.00" rx="1.85663524996557" ry="0.9946260267672697" fill="#2a2a2a" stroke="#1c1c1c" stroke-width="0.2" transform="rotate(-12 56.1 384.0)"/>
<ellipse cx="83.82" cy="385.91" rx="1.2446735643978168" ry="0.6667894094988305" fill="#e8e8e8" stroke="#1c1c1c" stroke-width="0.2" transform="rotate(-12 83.8 385.9)"/>
<ellipse cx="77.91" cy="379.82" rx="1.1369684659183665" ry="0.609090249599125" fill="#bdbdbd" stroke="#1c1c1c" stroke-width="0.2" transform="rotate(-12 77.9 379.8)"/>
<ellipse cx="55.19" cy="367.39" rx="2.0880520482075546" ry="1.1185993115397614" fill="#f6f6f6" stroke="#1c1c1c" stroke-width="0.2" transform="rotate(-12 55.2 367.4)"/>
<ellipse cx="47.93" cy="383.85" rx="0.9270443262873793" ry="0.4966308890825246" fill="#e8e8e8" stroke="#1c1c1c" stroke-width="0.2" transform="rotate(-12 47.9 383.8)"/>
<ellipse cx="63.71" cy="378.41" rx="1.9467329198307364" ry="1.0428926356236088" fill="#1a1a1a" stroke="#1c1c1c" stroke-width="0.2" transform="rotate(-12 63.7 378.4)"/>
</g>
<g filter="url(#bl3)">
<path d="M104.50,359.00 C102.92,359.72 99.62,362.22 95.00,363.30 C90.38,364.38 82.25,364.83 76.80,365.50 C71.35,366.17 66.23,366.55 62.30,367.30 C58.37,368.05 55.33,369.38 53.20,370.00 C51.07,370.62 50.12,370.83 49.50,371.00 L49.50,372.10 C50.12,371.93 51.07,371.72 53.20,371.10 C55.33,370.48 58.37,369.15 62.30,368.40 C66.23,367.65 71.35,367.27 76.80,366.60 C82.25,365.93 90.38,365.48 95.00,364.40 C99.62,363.32 102.92,360.82 104.50,360.10 Z" fill="#949494" stroke="#949494" stroke-width="0.3" />
<path d="M36.50,361.50 L49.50,371.00 L49.50,372.10 L36.50,362.60 Z" fill="#949494" stroke="#949494" stroke-width="0.3" />
<path d="M36.50,361.50 C37.75,360.80 40.00,358.30 44.00,357.30 C48.00,356.30 55.03,355.97 60.50,355.50 C65.97,355.03 72.27,355.33 76.80,354.50 C81.33,353.67 85.03,351.55 87.70,350.50 C90.37,349.45 91.95,348.58 92.80,348.20 L104.50,359.00 C102.92,359.72 99.62,362.22 95.00,363.30 C90.38,364.38 82.25,364.83 76.80,365.50 C71.35,366.17 66.23,366.55 62.30,367.30 C58.37,368.05 55.33,369.38 53.20,370.00 C51.07,370.62 50.12,370.83 49.50,371.00 Z" fill="url(#egry)" stroke="none" stroke-width="1" />
<path d="M105.00,433.40 C103.33,433.90 100.00,435.57 95.00,436.40 C90.00,437.23 80.67,437.73 75.00,438.40 C69.33,439.07 64.67,439.63 61.00,440.40 C57.33,441.17 55.00,442.33 53.00,443.00 C51.00,443.67 49.67,444.17 49.00,444.40 L49.00,446.60 C49.67,446.37 51.00,445.87 53.00,445.20 C55.00,444.53 57.33,443.37 61.00,442.60 C64.67,441.83 69.33,441.27 75.00,440.60 C80.67,439.93 90.00,439.43 95.00,438.60 C100.00,437.77 103.33,436.10 105.00,435.60 Z" fill="#6a60c8" stroke="#6a60c8" stroke-width="0.3" />
<path d="M37.00,431.40 L49.00,444.40 L49.00,446.60 L37.00,433.60 Z" fill="#5a50b8" stroke="#5a50b8" stroke-width="0.3" />
<path d="M37.00,431.40 C38.33,430.73 41.00,428.40 45.00,427.40 C49.00,426.40 55.67,425.90 61.00,425.40 C66.33,424.90 72.67,425.13 77.00,424.40 C81.33,423.67 84.17,421.90 87.00,421.00 C89.83,420.10 92.83,419.33 94.00,419.00 L105.00,433.40 C103.33,433.90 100.00,435.57 95.00,436.40 C90.00,437.23 80.67,437.73 75.00,438.40 C69.33,439.07 64.67,439.63 61.00,440.40 C57.33,441.17 55.00,442.33 53.00,443.00 C51.00,443.67 49.67,444.17 49.00,444.40 Z" fill="#f2c224" stroke="none" stroke-width="1" />
<path d="M105.00,431.00 C103.33,431.50 100.00,433.17 95.00,434.00 C90.00,434.83 80.67,435.33 75.00,436.00 C69.33,436.67 64.67,437.23 61.00,438.00 C57.33,438.77 55.00,439.93 53.00,440.60 C51.00,441.27 49.67,441.77 49.00,442.00 L49.00,444.50 C49.67,444.27 51.00,443.77 53.00,443.10 C55.00,442.43 57.33,441.27 61.00,440.50 C64.67,439.73 69.33,439.17 75.00,438.50 C80.67,437.83 90.00,437.33 95.00,436.50 C100.00,435.67 103.33,434.00 105.00,433.50 Z" fill="#d8a81c" stroke="#d8a81c" stroke-width="0.3" />
<path d="M37.00,429.00 L49.00,442.00 L49.00,444.50 L37.00,431.50 Z" fill="#cc9c18" stroke="#cc9c18" stroke-width="0.3" />
<path d="M37.00,429.00 C38.33,428.33 41.00,426.00 45.00,425.00 C49.00,424.00 55.67,423.50 61.00,423.00 C66.33,422.50 72.67,422.73 77.00,422.00 C81.33,421.27 84.17,419.50 87.00,418.60 C89.83,417.70 92.83,416.93 94.00,416.60 L105.00,431.00 C103.33,431.50 100.00,433.17 95.00,434.00 C90.00,434.83 80.67,435.33 75.00,436.00 C69.33,436.67 64.67,437.23 61.00,438.00 C57.33,438.77 55.00,439.93 53.00,440.60 C51.00,441.27 49.67,441.77 49.00,442.00 Z" fill="#f4c428" stroke="none" stroke-width="1" />
<line x1="89.00" y1="427.00" x2="118.00" y2="418.00" stroke="#a08850" stroke-width="2.4" />
</g>
<circle cx="81.40" cy="336.60" r="0.9" fill="#000" stroke="none" stroke-width="1" />
<polyline points="81.40,336.60 85.60,341.20 120.00,341.20" fill="none" stroke="#333" stroke-width="0.45" />
<circle cx="80.20" cy="360.60" r="0.9" fill="#000" stroke="none" stroke-width="1" />
<polyline points="80.20,360.60 83.40,357.40 120.00,357.40" fill="none" stroke="#333" stroke-width="0.45" />
<circle cx="80.20" cy="386.60" r="0.9" fill="#000" stroke="none" stroke-width="1" />
<polyline points="80.20,386.60 84.60,401.80 121.40,401.80" fill="none" stroke="#666" stroke-width="0.6" />
<circle cx="109.20" cy="421.00" r="0.9" fill="#000" stroke="none" stroke-width="1" />
<polyline points="109.20,421.00 115.20,428.20 128.40,428.20" fill="none" stroke="#666" stroke-width="0.6" />
<line x1="95.00" y1="386.40" x2="117.50" y2="379.90" stroke="#333" stroke-width="0.5" />
<polygon points="116.20,377.90 120.20,379.20 116.90,381.50" fill="#111" stroke="none" stroke-width="1" />
<rect x="124.80" y="367.70" width="26.20" height="18.90" fill="#4a4a4a" stroke="none" stroke-width="1" />
<circle cx="134.20" cy="370.00" r="0.85" fill="#fff" stroke="none" stroke-width="1" />
<circle cx="138.60" cy="369.60" r="0.85" fill="#fff" stroke="none" stroke-width="1" />
<circle cx="136.40" cy="372.00" r="0.85" fill="#fff" stroke="none" stroke-width="1" />
<circle cx="134.40" cy="373.80" r="0.85" fill="#fff" stroke="none" stroke-width="1" />
<circle cx="140.60" cy="371.60" r="0.85" fill="#fff" stroke="none" stroke-width="1" />
<circle cx="138.80" cy="373.80" r="0.85" fill="#fff" stroke="none" stroke-width="1" />
<circle cx="133.20" cy="377.20" r="0.85" fill="#fff" stroke="none" stroke-width="1" />
<circle cx="126.60" cy="380.80" r="0.85" fill="#fff" stroke="none" stroke-width="1" />
<circle cx="129.40" cy="382.60" r="0.85" fill="#fff" stroke="none" stroke-width="1" />
<circle cx="132.40" cy="381.20" r="0.85" fill="#fff" stroke="none" stroke-width="1" />
<circle cx="127.00" cy="384.60" r="0.85" fill="#fff" stroke="none" stroke-width="1" />
<circle cx="130.40" cy="385.00" r="0.85" fill="#fff" stroke="none" stroke-width="1" />
<circle cx="133.00" cy="384.00" r="0.85" fill="#fff" stroke="none" stroke-width="1" />
<circle cx="143.40" cy="381.60" r="0.85" fill="#fff" stroke="none" stroke-width="1" />
<circle cx="146.40" cy="383.00" r="0.85" fill="#fff" stroke="none" stroke-width="1" />
<circle cx="149.00" cy="381.20" r="0.85" fill="#fff" stroke="none" stroke-width="1" />
<circle cx="143.80" cy="384.80" r="0.85" fill="#fff" stroke="none" stroke-width="1" />
<circle cx="147.00" cy="385.40" r="0.85" fill="#fff" stroke="none" stroke-width="1" />
<circle cx="149.60" cy="384.40" r="0.85" fill="#fff" stroke="none" stroke-width="1" />
<circle cx="141.20" cy="376.40" r="0.85" fill="#fff" stroke="none" stroke-width="1" />
<ellipse cx="128.90" cy="373.90" rx="3.4" ry="5.1" fill="#fff" stroke="none" stroke-width="1" />
<ellipse cx="146.10" cy="374.30" rx="3.5" ry="5.1" fill="#fff" stroke="none" stroke-width="1" />
<ellipse cx="138.00" cy="381.30" rx="3.6" ry="4.9" fill="#fff" stroke="none" stroke-width="1" />
<text x="124.00" y="344.40" font-size="10.2" font-family='"Liberation Serif", serif' fill="#1c1c1c" textLength="27.00" lengthAdjust="spacingAndGlyphs">Al fabric</text>
<text x="123.00" y="361.60" font-size="10.2" font-family='"Liberation Serif", serif' fill="#1c1c1c" textLength="38.60" lengthAdjust="spacingAndGlyphs">Bulk PDMS</text>
<text x="127.40" y="407.60" font-size="10.2" font-family='"Liberation Serif", serif' fill="#1c1c1c" textLength="45.00" lengthAdjust="spacingAndGlyphs">Dielectric laye</text>
<text x="131.00" y="431.00" font-size="10.2" font-family='"Liberation Serif", serif' fill="#1c1c1c" textLength="39.00" lengthAdjust="spacingAndGlyphs">Copper wire</text>
<polyline points="192.60,416.80 192.62,416.75 192.70,416.67 192.82,416.55 192.99,416.41 193.21,416.25 193.47,416.06 193.79,415.86 194.15,415.65 194.57,415.41 195.03,415.17 195.54,414.90 196.10,414.63 196.71,414.34 197.36,414.04 198.07,413.72 198.82,413.40 199.62,413.06 200.47,412.71 201.37,412.35 202.32,411.98 203.31,411.60 204.36,411.21 205.45,410.81 206.59,410.39 207.78,409.97 209.02,409.54 210.31,409.10 211.65,408.65 213.03,408.19 214.47,407.73 215.95,407.25 217.48,406.77 219.06,406.27 220.69,405.77 222.36,405.26 224.09,404.83 225.86,404.47 227.68,404.11 229.55,403.75 231.47,403.39 233.44,403.03 235.46,402.67 237.52,402.30 239.64,401.94 241.80,401.57 244.01,401.21 246.27,400.84 248.58,400.47 250.93,400.11 253.34,399.74 255.79,399.37 258.29,399.00 260.84,398.63 263.44,398.26 266.09,397.89 268.79,397.52 271.53,397.14 274.33,396.77 277.17,396.40 280.06,396.02" fill="none" stroke="#1c1c1c" stroke-width="0.95" stroke-linejoin="round"/>
<polyline points="192.60,416.80 192.62,416.75 192.70,416.66 192.82,416.54 192.99,416.39 193.21,416.22 193.47,416.02 193.79,415.81 194.15,415.58 194.57,415.34 195.03,415.08 195.54,414.80 196.10,414.51 196.71,414.21 197.36,413.89 198.07,413.56 198.82,413.21 199.62,412.86 200.47,412.49 201.37,412.11 202.32,411.72 203.31,411.32 204.36,410.91 205.45,410.48 206.59,410.05 207.78,409.61 209.02,409.15 210.31,408.69 211.65,408.22 213.03,407.73 214.47,407.24 215.95,406.74 217.48,406.23 219.06,405.71 220.69,405.18 222.36,404.64 224.09,404.19 225.86,403.81 227.68,403.43 229.55,403.05 231.47,402.67 233.44,402.29 235.46,401.91 237.52,401.52 239.64,401.14 241.80,400.75 244.01,400.37 246.27,399.98 248.58,399.60 250.93,399.21 253.34,398.82 255.79,398.43 258.29,398.04 260.84,397.65 263.44,397.26 266.09,396.87 268.79,396.48 271.53,396.09 274.33,395.69 277.17,395.30 280.06,394.91" fill="none" stroke="#1c1c1c" stroke-width="0.95" stroke-linejoin="round"/>
<rect x="191.93" y="415.46" width="2.00" height="2.00" fill="#1c1c1c" stroke="#1c1c1c" stroke-width="0.4" />
<rect x="192.25" y="415.21" width="2.00" height="2.00" fill="#1c1c1c" stroke="#1c1c1c" stroke-width="0.4" />
<rect x="192.58" y="415.00" width="2.00" height="2.00" fill="#1c1c1c" stroke="#1c1c1c" stroke-width="0.4" />
<rect x="192.90" y="414.80" width="2.00" height="2.00" fill="#1c1c1c" stroke="#1c1c1c" stroke-width="0.4" />
<rect x="193.23" y="414.60" width="2.00" height="2.00" fill="#1c1c1c" stroke="#1c1c1c" stroke-width="0.4" />
<rect x="193.55" y="414.42" width="2.00" height="2.00" fill="#1c1c1c" stroke="#1c1c1c" stroke-width="0.4" />
<rect x="193.88" y="414.25" width="2.00" height="2.00" fill="#1c1c1c" stroke="#1c1c1c" stroke-width="0.4" />
<rect x="194.20" y="414.07" width="2.00" height="2.00" fill="#1c1c1c" stroke="#1c1c1c" stroke-width="0.4" />
<rect x="194.53" y="413.91" width="2.00" height="2.00" fill="#1c1c1c" stroke="#1c1c1c" stroke-width="0.4" />
<rect x="194.85" y="413.75" width="2.00" height="2.00" fill="#1c1c1c" stroke="#1c1c1c" stroke-width="0.4" />
<rect x="195.18" y="413.59" width="2.00" height="2.00" fill="#1c1c1c" stroke="#1c1c1c" stroke-width="0.4" />
<rect x="195.51" y="413.43" width="2.00" height="2.00" fill="#1c1c1c" stroke="#1c1c1c" stroke-width="0.4" />
<rect x="195.83" y="413.28" width="2.00" height="2.00" fill="#1c1c1c" stroke="#1c1c1c" stroke-width="0.4" />
<rect x="196.16" y="413.13" width="2.00" height="2.00" fill="#1c1c1c" stroke="#1c1c1c" stroke-width="0.4" />
<rect x="196.48" y="412.98" width="2.00" height="2.00" fill="#1c1c1c" stroke="#1c1c1c" stroke-width="0.4" />
<rect x="196.81" y="412.84" width="2.00" height="2.00" fill="#1c1c1c" stroke="#1c1c1c" stroke-width="0.4" />
<rect x="197.13" y="412.69" width="2.00" height="2.00" fill="#1c1c1c" stroke="#1c1c1c" stroke-width="0.4" />
<rect x="197.46" y="412.55" width="2.00" height="2.00" fill="#1c1c1c" stroke="#1c1c1c" stroke-width="0.4" />
<rect x="197.78" y="412.41" width="2.00" height="2.00" fill="#1c1c1c" stroke="#1c1c1c" stroke-width="0.4" />
<rect x="198.11" y="412.27" width="2.00" height="2.00" fill="#1c1c1c" stroke="#1c1c1c" stroke-width="0.4" />
<rect x="198.43" y="412.14" width="2.00" height="2.00" fill="#1c1c1c" stroke="#1c1c1c" stroke-width="0.4" />
<rect x="198.76" y="412.00" width="2.00" height="2.00" fill="#1c1c1c" stroke="#1c1c1c" stroke-width="0.4" />
<rect x="199.09" y="411.87" width="2.00" height="2.00" fill="#1c1c1c" stroke="#1c1c1c" stroke-width="0.4" />
<rect x="199.41" y="411.74" width="2.00" height="2.00" fill="#1c1c1c" stroke="#1c1c1c" stroke-width="0.4" />
<rect x="199.74" y="411.60" width="2.00" height="2.00" fill="#1c1c1c" stroke="#1c1c1c" stroke-width="0.4" />
<rect x="200.06" y="411.47" width="2.00" height="2.00" fill="#1c1c1c" stroke="#1c1c1c" stroke-width="0.4" />
<rect x="200.39" y="411.34" width="2.00" height="2.00" fill="#1c1c1c" stroke="#1c1c1c" stroke-width="0.4" />
<rect x="200.71" y="411.22" width="2.00" height="2.00" fill="#1c1c1c" stroke="#1c1c1c" stroke-width="0.4" />
<rect x="201.04" y="411.09" width="2.00" height="2.00" fill="#1c1c1c" stroke="#1c1c1c" stroke-width="0.4" />
<rect x="201.36" y="410.96" width="2.00" height="2.00" fill="#1c1c1c" stroke="#1c1c1c" stroke-width="0.4" />
<rect x="201.69" y="410.84" width="2.00" height="2.00" fill="#1c1c1c" stroke="#1c1c1c" stroke-width="0.4" />
<rect x="202.01" y="410.71" width="2.00" height="2.00" fill="#1c1c1c" stroke="#1c1c1c" stroke-width="0.4" />
<rect x="202.34" y="410.59" width="2.00" height="2.00" fill="#1c1c1c" stroke="#1c1c1c" stroke-width="0.4" />
<rect x="202.66" y="410.47" width="2.00" height="2.00" fill="#1c1c1c" stroke="#1c1c1c" stroke-width="0.4" />
<rect x="202.99" y="410.34" width="2.00" height="2.00" fill="#1c1c1c" stroke="#1c1c1c" stroke-width="0.4" />
<rect x="203.32" y="410.22" width="2.00" height="2.00" fill="#1c1c1c" stroke="#1c1c1c" stroke-width="0.4" />
<rect x="203.64" y="410.10" width="2.00" height="2.00" fill="#1c1c1c" stroke="#1c1c1c" stroke-width="0.4" />
<rect x="203.97" y="409.98" width="2.00" height="2.00" fill="#1c1c1c" stroke="#1c1c1c" stroke-width="0.4" />
<rect x="204.29" y="409.86" width="2.00" height="2.00" fill="#1c1c1c" stroke="#1c1c1c" stroke-width="0.4" />
<rect x="205.84" y="409.31" width="2.00" height="2.00" fill="#1c1c1c" stroke="#1c1c1c" stroke-width="0.4" />
<rect x="207.67" y="408.67" width="2.00" height="2.00" fill="#1c1c1c" stroke="#1c1c1c" stroke-width="0.4" />
<rect x="209.50" y="408.04" width="2.00" height="2.00" fill="#1c1c1c" stroke="#1c1c1c" stroke-width="0.4" />
<rect x="211.33" y="407.43" width="2.00" height="2.00" fill="#1c1c1c" stroke="#1c1c1c" stroke-width="0.4" />
<rect x="213.16" y="406.83" width="2.00" height="2.00" fill="#1c1c1c" stroke="#1c1c1c" stroke-width="0.4" />
<rect x="214.99" y="406.24" width="2.00" height="2.00" fill="#1c1c1c" stroke="#1c1c1c" stroke-width="0.4" />
<rect x="216.82" y="405.66" width="2.00" height="2.00" fill="#1c1c1c" stroke="#1c1c1c" stroke-width="0.4" />
<rect x="218.65" y="405.09" width="2.00" height="2.00" fill="#1c1c1c" stroke="#1c1c1c" stroke-width="0.4" />
<rect x="220.48" y="404.53" width="2.00" height="2.00" fill="#1c1c1c" stroke="#1c1c1c" stroke-width="0.4" />
<rect x="222.31" y="403.99" width="2.00" height="2.00" fill="#1c1c1c" stroke="#1c1c1c" stroke-width="0.4" />
<rect x="224.14" y="403.62" width="2.00" height="2.00" fill="#1c1c1c" stroke="#1c1c1c" stroke-width="0.4" />
<rect x="225.97" y="403.25" width="2.00" height="2.00" fill="#1c1c1c" stroke="#1c1c1c" stroke-width="0.4" />
<rect x="227.81" y="402.90" width="2.00" height="2.00" fill="#1c1c1c" stroke="#1c1c1c" stroke-width="0.4" />
<rect x="229.64" y="402.55" width="2.00" height="2.00" fill="#1c1c1c" stroke="#1c1c1c" stroke-width="0.4" />
<rect x="231.47" y="402.21" width="2.00" height="2.00" fill="#1c1c1c" stroke="#1c1c1c" stroke-width="0.4" />
<rect x="233.30" y="401.87" width="2.00" height="2.00" fill="#1c1c1c" stroke="#1c1c1c" stroke-width="0.4" />
<rect x="235.13" y="401.55" width="2.00" height="2.00" fill="#1c1c1c" stroke="#1c1c1c" stroke-width="0.4" />
<rect x="236.96" y="401.23" width="2.00" height="2.00" fill="#1c1c1c" stroke="#1c1c1c" stroke-width="0.4" />
<rect x="238.79" y="400.91" width="2.00" height="2.00" fill="#1c1c1c" stroke="#1c1c1c" stroke-width="0.4" />
<rect x="240.62" y="400.60" width="2.00" height="2.00" fill="#1c1c1c" stroke="#1c1c1c" stroke-width="0.4" />
<rect x="242.45" y="400.30" width="2.00" height="2.00" fill="#1c1c1c" stroke="#1c1c1c" stroke-width="0.4" />
<rect x="244.28" y="400.00" width="2.00" height="2.00" fill="#1c1c1c" stroke="#1c1c1c" stroke-width="0.4" />
<rect x="246.11" y="399.71" width="2.00" height="2.00" fill="#1c1c1c" stroke="#1c1c1c" stroke-width="0.4" />
<rect x="247.94" y="399.42" width="2.00" height="2.00" fill="#1c1c1c" stroke="#1c1c1c" stroke-width="0.4" />
<rect x="249.77" y="399.13" width="2.00" height="2.00" fill="#1c1c1c" stroke="#1c1c1c" stroke-width="0.4" />
<rect x="251.60" y="398.85" width="2.00" height="2.00" fill="#1c1c1c" stroke="#1c1c1c" stroke-width="0.4" />
<rect x="253.43" y="398.57" width="2.00" height="2.00" fill="#1c1c1c" stroke="#1c1c1c" stroke-width="0.4" />
<rect x="255.26" y="398.30" width="2.00" height="2.00" fill="#1c1c1c" stroke="#1c1c1c" stroke-width="0.4" />
<rect x="257.09" y="398.03" width="2.00" height="2.00" fill="#1c1c1c" stroke="#1c1c1c" stroke-width="0.4" />
<rect x="258.93" y="397.76" width="2.00" height="2.00" fill="#1c1c1c" stroke="#1c1c1c" stroke-width="0.4" />
<rect x="260.76" y="397.50" width="2.00" height="2.00" fill="#1c1c1c" stroke="#1c1c1c" stroke-width="0.4" />
<rect x="262.59" y="397.24" width="2.00" height="2.00" fill="#1c1c1c" stroke="#1c1c1c" stroke-width="0.4" />
<rect x="264.42" y="396.98" width="2.00" height="2.00" fill="#1c1c1c" stroke="#1c1c1c" stroke-width="0.4" />
<rect x="266.25" y="396.73" width="2.00" height="2.00" fill="#1c1c1c" stroke="#1c1c1c" stroke-width="0.4" />
<rect x="268.08" y="396.48" width="2.00" height="2.00" fill="#1c1c1c" stroke="#1c1c1c" stroke-width="0.4" />
<rect x="269.91" y="396.23" width="2.00" height="2.00" fill="#1c1c1c" stroke="#1c1c1c" stroke-width="0.4" />
<rect x="271.74" y="395.98" width="2.00" height="2.00" fill="#1c1c1c" stroke="#1c1c1c" stroke-width="0.4" />
<rect x="273.57" y="395.74" width="2.00" height="2.00" fill="#1c1c1c" stroke="#1c1c1c" stroke-width="0.4" />
<rect x="275.40" y="395.50" width="2.00" height="2.00" fill="#1c1c1c" stroke="#1c1c1c" stroke-width="0.4" />
<rect x="277.23" y="395.26" width="2.00" height="2.00" fill="#1c1c1c" stroke="#1c1c1c" stroke-width="0.4" />
<rect x="191.93" y="415.44" width="2.00" height="2.00" fill="#1c1c1c" stroke="#1c1c1c" stroke-width="0.4" />
<rect x="192.25" y="415.18" width="2.00" height="2.00" fill="#1c1c1c" stroke="#1c1c1c" stroke-width="0.4" />
<rect x="192.58" y="414.95" width="2.00" height="2.00" fill="#1c1c1c" stroke="#1c1c1c" stroke-width="0.4" />
<rect x="192.90" y="414.74" width="2.00" height="2.00" fill="#1c1c1c" stroke="#1c1c1c" stroke-width="0.4" />
<rect x="193.23" y="414.54" width="2.00" height="2.00" fill="#1c1c1c" stroke="#1c1c1c" stroke-width="0.4" />
<rect x="193.55" y="414.35" width="2.00" height="2.00" fill="#1c1c1c" stroke="#1c1c1c" stroke-width="0.4" />
<rect x="193.88" y="414.16" width="2.00" height="2.00" fill="#1c1c1c" stroke="#1c1c1c" stroke-width="0.4" />
<rect x="194.20" y="413.98" width="2.00" height="2.00" fill="#1c1c1c" stroke="#1c1c1c" stroke-width="0.4" />
<rect x="194.53" y="413.81" width="2.00" height="2.00" fill="#1c1c1c" stroke="#1c1c1c" stroke-width="0.4" />
<rect x="194.85" y="413.64" width="2.00" height="2.00" fill="#1c1c1c" stroke="#1c1c1c" stroke-width="0.4" />
<rect x="195.18" y="413.47" width="2.00" height="2.00" fill="#1c1c1c" stroke="#1c1c1c" stroke-width="0.4" />
<rect x="195.51" y="413.31" width="2.00" height="2.00" fill="#1c1c1c" stroke="#1c1c1c" stroke-width="0.4" />
<rect x="195.83" y="413.15" width="2.00" height="2.00" fill="#1c1c1c" stroke="#1c1c1c" stroke-width="0.4" />
<rect x="196.16" y="412.99" width="2.00" height="2.00" fill="#1c1c1c" stroke="#1c1c1c" stroke-width="0.4" />
<rect x="196.48" y="412.83" width="2.00" height="2.00" fill="#1c1c1c" stroke="#1c1c1c" stroke-width="0.4" />
<rect x="196.81" y="412.68" width="2.00" height="2.00" fill="#1c1c1c" stroke="#1c1c1c" stroke-width="0.4" />
<rect x="197.13" y="412.53" width="2.00" height="2.00" fill="#1c1c1c" stroke="#1c1c1c" stroke-width="0.4" />
<rect x="197.46" y="412.38" width="2.00" height="2.00" fill="#1c1c1c" stroke="#1c1c1c" stroke-width="0.4" />
<rect x="197.78" y="412.23" width="2.00" height="2.00" fill="#1c1c1c" stroke="#1c1c1c" stroke-width="0.4" />
<rect x="198.11" y="412.08" width="2.00" height="2.00" fill="#1c1c1c" stroke="#1c1c1c" stroke-width="0.4" />
<rect x="198.43" y="411.94" width="2.00" height="2.00" fill="#1c1c1c" stroke="#1c1c1c" stroke-width="0.4" />
<rect x="198.76" y="411.80" width="2.00" height="2.00" fill="#1c1c1c" stroke="#1c1c1c" stroke-width="0.4" />
<rect x="199.09" y="411.66" width="2.00" height="2.00" fill="#1c1c1c" stroke="#1c1c1c" stroke-width="0.4" />
<rect x="199.41" y="411.52" width="2.00" height="2.00" fill="#1c1c1c" stroke="#1c1c1c" stroke-width="0.4" />
<rect x="199.74" y="411.38" width="2.00" height="2.00" fill="#1c1c1c" stroke="#1c1c1c" stroke-width="0.4" />
<rect x="200.06" y="411.24" width="2.00" height="2.00" fill="#1c1c1c" stroke="#1c1c1c" stroke-width="0.4" />
<rect x="200.39" y="411.10" width="2.00" height="2.00" fill="#1c1c1c" stroke="#1c1c1c" stroke-width="0.4" />
<rect x="200.71" y="410.97" width="2.00" height="2.00" fill="#1c1c1c" stroke="#1c1c1c" stroke-width="0.4" />
<rect x="201.04" y="410.84" width="2.00" height="2.00" fill="#1c1c1c" stroke="#1c1c1c" stroke-width="0.4" />
<rect x="201.36" y="410.70" width="2.00" height="2.00" fill="#1c1c1c" stroke="#1c1c1c" stroke-width="0.4" />
<rect x="201.69" y="410.57" width="2.00" height="2.00" fill="#1c1c1c" stroke="#1c1c1c" stroke-width="0.4" />
<rect x="202.01" y="410.44" width="2.00" height="2.00" fill="#1c1c1c" stroke="#1c1c1c" stroke-width="0.4" />
<rect x="202.34" y="410.31" width="2.00" height="2.00" fill="#1c1c1c" stroke="#1c1c1c" stroke-width="0.4" />
<rect x="202.66" y="410.18" width="2.00" height="2.00" fill="#1c1c1c" stroke="#1c1c1c" stroke-width="0.4" />
<rect x="202.99" y="410.05" width="2.00" height="2.00" fill="#1c1c1c" stroke="#1c1c1c" stroke-width="0.4" />
<rect x="203.32" y="409.92" width="2.00" height="2.00" fill="#1c1c1c" stroke="#1c1c1c" stroke-width="0.4" />
<rect x="203.64" y="409.80" width="2.00" height="2.00" fill="#1c1c1c" stroke="#1c1c1c" stroke-width="0.4" />
<rect x="203.97" y="409.67" width="2.00" height="2.00" fill="#1c1c1c" stroke="#1c1c1c" stroke-width="0.4" />
<rect x="204.29" y="409.55" width="2.00" height="2.00" fill="#1c1c1c" stroke="#1c1c1c" stroke-width="0.4" />
<circle cx="223.11" cy="404.40" r="1.35" fill="#fff" stroke="#1c1c1c" stroke-width="0.6" />
<circle cx="227.58" cy="403.45" r="1.35" fill="#fff" stroke="#1c1c1c" stroke-width="0.6" />
<circle cx="232.06" cy="402.56" r="1.35" fill="#fff" stroke="#1c1c1c" stroke-width="0.6" />
<circle cx="236.53" cy="401.71" r="1.35" fill="#fff" stroke="#1c1c1c" stroke-width="0.6" />
<circle cx="241.01" cy="400.89" r="1.35" fill="#fff" stroke="#1c1c1c" stroke-width="0.6" />
<circle cx="245.48" cy="400.12" r="1.35" fill="#fff" stroke="#1c1c1c" stroke-width="0.6" />
<circle cx="249.96" cy="399.37" r="1.35" fill="#fff" stroke="#1c1c1c" stroke-width="0.6" />
<circle cx="254.43" cy="398.65" r="1.35" fill="#fff" stroke="#1c1c1c" stroke-width="0.6" />
<circle cx="258.91" cy="397.95" r="1.35" fill="#fff" stroke="#1c1c1c" stroke-width="0.6" />
<circle cx="263.38" cy="397.27" r="1.35" fill="#fff" stroke="#1c1c1c" stroke-width="0.6" />
<circle cx="267.86" cy="396.61" r="1.35" fill="#fff" stroke="#1c1c1c" stroke-width="0.6" />
<circle cx="272.33" cy="395.97" r="1.35" fill="#fff" stroke="#1c1c1c" stroke-width="0.6" />
<circle cx="276.81" cy="395.35" r="1.35" fill="#fff" stroke="#1c1c1c" stroke-width="0.6" />
<polyline points="192.60,416.80 192.62,415.40 192.70,414.31 192.82,413.30 192.98,412.35 193.20,411.44 193.46,410.55 193.77,409.70 194.13,408.86 194.54,408.04 194.99,407.23 195.49,406.44 196.04,405.65 196.64,404.88 197.28,404.12 197.98,403.37 198.72,402.63 199.51,401.89 200.34,401.16 201.23,400.44 202.16,399.72 203.14,399.01 204.17,398.31 205.24,397.61 206.37,396.91 207.54,396.22 208.76,395.54 210.02,394.86 211.34,394.18 212.70,393.51 214.11,392.84 215.57,392.17 217.07,391.51 218.63,390.85 220.23,390.20 221.88,389.54 223.57,388.90 225.32,388.25 227.11,387.61 228.95,386.97 230.84,386.33 232.78,385.69 234.76,385.06 236.79,384.43 238.87,383.80 241.00,383.18 243.17,382.55 245.39,381.93 247.66,381.31 249.98,380.70 252.35,380.08 254.76,379.47 257.22,378.86 259.73,378.25 262.29,377.65 264.90,377.04 267.55,376.44 270.25,375.84 273.00,375.24 275.79,374.64 278.64,374.04" fill="none" stroke="#358a28" stroke-width="0.95" stroke-linejoin="round"/>
<polygon points="191.61,412.49 193.21,409.69 194.81,412.49" fill="#358a28" stroke="#358a28" stroke-width="0.55" />
<polygon points="192.22,410.67 193.82,407.87 195.42,410.67" fill="#358a28" stroke="#358a28" stroke-width="0.55" />
<polygon points="192.83,409.34 194.43,406.54 196.03,409.34" fill="#358a28" stroke="#358a28" stroke-width="0.55" />
<polygon points="193.44,408.24 195.04,405.44 196.64,408.24" fill="#358a28" stroke="#358a28" stroke-width="0.55" />
<polygon points="194.05,407.30 195.65,404.50 197.25,407.30" fill="#358a28" stroke="#358a28" stroke-width="0.55" />
<polygon points="194.66,406.46 196.26,403.66 197.86,406.46" fill="#358a28" stroke="#358a28" stroke-width="0.55" />
<polygon points="195.27,405.70 196.87,402.90 198.47,405.70" fill="#358a28" stroke="#358a28" stroke-width="0.55" />
<polygon points="195.88,405.00 197.48,402.20 199.08,405.00" fill="#358a28" stroke="#358a28" stroke-width="0.55" />
<polygon points="196.49,404.35 198.09,401.55 199.69,404.35" fill="#358a28" stroke="#358a28" stroke-width="0.55" />
<polygon points="197.10,403.74 198.70,400.94 200.30,403.74" fill="#358a28" stroke="#358a28" stroke-width="0.55" />
<polygon points="197.71,403.17 199.31,400.37 200.91,403.17" fill="#358a28" stroke="#358a28" stroke-width="0.55" />
<polygon points="198.32,402.62 199.92,399.82 201.52,402.62" fill="#358a28" stroke="#358a28" stroke-width="0.55" />
<polygon points="198.93,402.10 200.53,399.30 202.13,402.10" fill="#358a28" stroke="#358a28" stroke-width="0.55" />
<polygon points="199.54,401.61 201.14,398.81 202.74,401.61" fill="#358a28" stroke="#358a28" stroke-width="0.55" />
<polygon points="200.15,401.13 201.75,398.33 203.35,401.13" fill="#358a28" stroke="#358a28" stroke-width="0.55" />
<polygon points="200.76,400.67 202.36,397.87 203.96,400.67" fill="#358a28" stroke="#358a28" stroke-width="0.55" />
<polygon points="201.37,400.23 202.97,397.43 204.57,400.23" fill="#358a28" stroke="#358a28" stroke-width="0.55" />
<polygon points="201.98,399.80 203.58,397.00 205.18,399.80" fill="#358a28" stroke="#358a28" stroke-width="0.55" />
<polygon points="202.59,399.39 204.19,396.59 205.79,399.39" fill="#358a28" stroke="#358a28" stroke-width="0.55" />
<polygon points="203.61,398.73 205.21,395.93 206.81,398.73" fill="#358a28" stroke="#358a28" stroke-width="0.55" />
<polygon points="206.25,397.14 207.85,394.34 209.45,397.14" fill="#358a28" stroke="#358a28" stroke-width="0.55" />
<polygon points="209.31,395.50 210.91,392.70 212.51,395.50" fill="#358a28" stroke="#358a28" stroke-width="0.55" />
<polygon points="212.97,393.73 214.57,390.93 216.17,393.73" fill="#358a28" stroke="#358a28" stroke-width="0.55" />
<polygon points="217.44,391.78 219.04,388.98 220.64,391.78" fill="#358a28" stroke="#358a28" stroke-width="0.55" />
<polygon points="222.53,389.79 224.13,386.99 225.73,389.79" fill="#358a28" stroke="#358a28" stroke-width="0.55" />
<polygon points="227.61,387.98 229.21,385.18 230.81,387.98" fill="#358a28" stroke="#358a28" stroke-width="0.55" />
<polygon points="235.34,385.48 236.94,382.68 238.54,385.48" fill="#358a28" stroke="#358a28" stroke-width="0.55" />
<polygon points="246.32,382.34 247.92,379.54 249.52,382.34" fill="#358a28" stroke="#358a28" stroke-width="0.55" />
<polygon points="259.75,378.97 261.35,376.17 262.95,378.97" fill="#358a28" stroke="#358a28" stroke-width="0.55" />
<polygon points="277.04,375.14 278.64,372.34 280.24,375.14" fill="#358a28" stroke="#358a28" stroke-width="0.55" />
<polyline points="192.60,416.80 192.62,414.67 192.69,413.12 192.81,411.73 192.98,410.44 193.19,409.21 193.44,408.04 193.75,406.90 194.10,405.80 194.50,404.73 194.94,403.68 195.44,402.66 195.98,401.65 196.56,400.66 197.20,399.69 197.88,398.73 198.60,397.79 199.38,396.85 200.20,395.93 201.06,395.02 201.98,394.12 202.94,393.23 203.95,392.35 205.00,391.47 206.11,390.61 207.25,389.75 208.45,388.90 209.69,388.05 210.98,387.22 212.32,386.38 213.70,385.56 215.13,384.74 216.61,383.92 218.13,383.12 219.71,382.31 221.32,381.51 222.99,380.72 224.70,379.93 226.46,379.14 228.26,378.36 230.12,377.59 232.02,376.82 233.96,376.05 235.95,375.28 237.99,374.52 240.08,373.76 242.21,373.01 244.40,372.26 246.62,371.51 248.90,370.77 251.22,370.03 253.59,369.29 256.00,368.56 258.46,367.83 260.97,367.10 263.53,366.37 266.13,365.65 268.78,364.93 271.48,364.21 274.22,363.50 277.01,362.78" fill="none" stroke="#358a28" stroke-width="0.95" stroke-linejoin="round"/>
<polygon points="191.61,410.19 193.21,407.39 194.81,410.19" fill="none" stroke="#358a28" stroke-width="0.55" />
<polygon points="192.22,407.76 193.82,404.96 195.42,407.76" fill="none" stroke="#358a28" stroke-width="0.55" />
<polygon points="192.83,406.00 194.43,403.20 196.03,406.00" fill="none" stroke="#358a28" stroke-width="0.55" />
<polygon points="193.44,404.57 195.04,401.77 196.64,404.57" fill="none" stroke="#358a28" stroke-width="0.55" />
<polygon points="194.05,403.34 195.65,400.54 197.25,403.34" fill="none" stroke="#358a28" stroke-width="0.55" />
<polygon points="194.66,402.26 196.26,399.46 197.86,402.26" fill="#fff" stroke="#358a28" stroke-width="0.55" />
<polygon points="195.27,401.28 196.87,398.48 198.47,401.28" fill="#fff" stroke="#358a28" stroke-width="0.55" />
<polygon points="195.88,400.38 197.48,397.58 199.08,400.38" fill="#fff" stroke="#358a28" stroke-width="0.55" />
<polygon points="196.49,399.54 198.09,396.74 199.69,399.54" fill="#fff" stroke="#358a28" stroke-width="0.55" />
<polygon points="197.10,398.76 198.70,395.96 200.30,398.76" fill="#fff" stroke="#358a28" stroke-width="0.55" />
<polygon points="197.71,398.03 199.31,395.23 200.91,398.03" fill="#fff" stroke="#358a28" stroke-width="0.55" />
<polygon points="198.32,397.33 199.92,394.53 201.52,397.33" fill="#fff" stroke="#358a28" stroke-width="0.55" />
<polygon points="198.93,396.67 200.53,393.87 202.13,396.67" fill="#fff" stroke="#358a28" stroke-width="0.55" />
<polygon points="199.54,396.04 201.14,393.24 202.74,396.04" fill="#fff" stroke="#358a28" stroke-width="0.55" />
<polygon points="200.15,395.44 201.75,392.64 203.35,395.44" fill="#fff" stroke="#358a28" stroke-width="0.55" />
<polygon points="201.17,394.48 202.77,391.68 204.37,394.48" fill="#fff" stroke="#358a28" stroke-width="0.55" />
<polygon points="203.61,392.41 205.21,389.61 206.81,392.41" fill="#fff" stroke="#358a28" stroke-width="0.55" />
<polygon points="207.27,389.71 208.87,386.91 210.47,389.71" fill="#fff" stroke="#358a28" stroke-width="0.55" />
<polygon points="212.97,386.16 214.57,383.36 216.17,386.16" fill="#fff" stroke="#358a28" stroke-width="0.55" />
<polygon points="219.48,382.73 221.08,379.93 222.68,382.73" fill="#fff" stroke="#358a28" stroke-width="0.55" />
<polygon points="227.61,379.06 229.21,376.26 230.81,379.06" fill="#fff" stroke="#358a28" stroke-width="0.55" />
<polygon points="239.00,374.68 240.60,371.88 242.20,374.68" fill="#fff" stroke="#358a28" stroke-width="0.55" />
<polygon points="255.07,369.46 256.67,366.66 258.27,369.46" fill="#fff" stroke="#358a28" stroke-width="0.55" />
<polygon points="275.41,363.88 277.01,361.08 278.61,363.88" fill="#fff" stroke="#358a28" stroke-width="0.55" />
<polyline points="192.60,416.80 192.62,414.89 192.69,413.35 192.81,411.92 192.97,410.56 193.18,409.25 193.44,407.97 193.74,406.73 194.09,405.51 194.49,404.31 194.93,403.13 195.42,401.97 195.96,400.83 196.54,399.70 197.17,398.58 197.85,397.47 198.57,396.37 199.34,395.29 200.16,394.21 201.02,393.14 201.93,392.08 202.89,391.03 203.89,389.98 204.94,388.94 206.04,387.91 207.18,386.88 208.37,385.86 209.61,384.85 210.89,383.84 212.22,382.83 213.60,381.84 215.02,380.84 216.49,379.85 218.01,378.87 219.57,377.89 221.18,376.91 222.84,375.94 224.54,374.97 226.30,374.00 228.09,373.04 229.94,372.08 231.83,371.13 233.76,370.18 235.75,369.23 237.78,368.29 239.85,367.34 241.98,366.41 244.15,365.47 246.36,364.54 248.63,363.61 250.94,362.68 253.29,361.76 255.70,360.84 258.15,359.92 260.64,359.00 263.19,358.09 265.78,357.17 268.41,356.26 271.10,355.36 273.83,354.45 276.60,353.55" fill="none" stroke="#d42828" stroke-width="0.95" stroke-linejoin="round"/>
<polygon points="191.51,409.68 193.11,407.98 194.71,409.68 193.11,411.38" fill="#d42828" stroke="#d42828" stroke-width="0.4" />
<polygon points="192.02,407.22 193.62,405.52 195.22,407.22 193.62,408.92" fill="#d42828" stroke="#d42828" stroke-width="0.4" />
<polygon points="192.53,405.41 194.13,403.71 195.73,405.41 194.13,407.11" fill="#d42828" stroke="#d42828" stroke-width="0.4" />
<polygon points="193.03,403.91 194.63,402.21 196.23,403.91 194.63,405.61" fill="#d42828" stroke="#d42828" stroke-width="0.4" />
<polygon points="193.54,402.62 195.14,400.92 196.74,402.62 195.14,404.32" fill="#d42828" stroke="#d42828" stroke-width="0.4" />
<polygon points="194.05,401.47 195.65,399.77 197.25,401.47 195.65,403.17" fill="#d42828" stroke="#d42828" stroke-width="0.4" />
<polygon points="194.56,400.43 196.16,398.73 197.76,400.43 196.16,402.13" fill="#d42828" stroke="#d42828" stroke-width="0.4" />
<polygon points="195.07,399.47 196.67,397.77 198.27,399.47 196.67,401.17" fill="#d42828" stroke="#d42828" stroke-width="0.4" />
<polygon points="195.58,398.57 197.18,396.87 198.78,398.57 197.18,400.27" fill="#d42828" stroke="#d42828" stroke-width="0.4" />
<polygon points="196.09,397.73 197.69,396.03 199.28,397.73 197.69,399.43" fill="#d42828" stroke="#d42828" stroke-width="0.4" />
<polygon points="196.59,396.94 198.19,395.24 199.79,396.94 198.19,398.64" fill="#d42828" stroke="#d42828" stroke-width="0.4" />
<polygon points="197.10,396.19 198.70,394.49 200.30,396.19 198.70,397.89" fill="#d42828" stroke="#d42828" stroke-width="0.4" />
<polygon points="197.61,395.47 199.21,393.77 200.81,395.47 199.21,397.17" fill="#d42828" stroke="#d42828" stroke-width="0.4" />
<polygon points="198.12,394.78 199.72,393.08 201.32,394.78 199.72,396.48" fill="#d42828" stroke="#d42828" stroke-width="0.4" />
<polygon points="198.63,394.12 200.23,392.42 201.83,394.12 200.23,395.82" fill="#d42828" stroke="#d42828" stroke-width="0.4" />
<polygon points="200.15,392.29 201.75,390.59 203.35,392.29 201.75,393.99" fill="#d42828" stroke="#d42828" stroke-width="0.4" />
<polygon points="202.80,389.48 204.40,387.78 206.00,389.48 204.40,391.18" fill="#d42828" stroke="#d42828" stroke-width="0.4" />
<polygon points="205.64,386.83 207.24,385.13 208.84,386.83 207.24,388.53" fill="#d42828" stroke="#d42828" stroke-width="0.4" />
<polygon points="209.71,383.52 211.31,381.82 212.91,383.52 211.31,385.22" fill="#d42828" stroke="#d42828" stroke-width="0.4" />
<polygon points="217.04,378.47 218.64,376.77 220.24,378.47 218.64,380.17" fill="#d42828" stroke="#d42828" stroke-width="0.4" />
<polygon points="225.58,373.53 227.18,371.83 228.78,373.53 227.18,375.23" fill="#d42828" stroke="#d42828" stroke-width="0.4" />
<polygon points="237.17,367.83 238.77,366.13 240.37,367.83 238.77,369.53" fill="#d42828" stroke="#d42828" stroke-width="0.4" />
<polygon points="253.24,361.16 254.84,359.46 256.44,361.16 254.84,362.86" fill="#d42828" stroke="#d42828" stroke-width="0.4" />
<polygon points="275.00,353.55 276.60,351.85 278.20,353.55 276.60,355.25" fill="#d42828" stroke="#d42828" stroke-width="0.4" />
<polyline points="192.60,416.80 192.62,412.56 192.70,409.65 192.82,407.10 192.99,404.76 193.20,402.56 193.47,400.47 193.78,398.46 194.14,396.52 194.55,394.64 195.01,392.81 195.52,391.03 196.07,389.28 196.68,387.58 197.33,385.90 198.03,384.25 198.78,382.64 199.57,381.04 200.42,379.47 201.31,377.92 202.25,376.39 203.24,374.88 204.28,373.39 205.36,371.91 206.50,370.45 207.68,369.01 208.91,367.57 210.19,366.16 211.51,364.75 212.89,363.36 214.31,361.98 215.78,360.61 217.30,359.25 218.87,357.90 220.49,356.57 222.15,355.24 223.87,353.92 225.63,352.61 227.44,351.31 229.29,350.02 231.20,348.73 233.15,347.46 235.16,346.19 237.21,344.93 239.31,343.67 241.45,342.43 243.65,341.19 245.89,339.95 248.19,338.73 250.53,337.51 252.91,336.29 255.35,335.08 257.84,333.88 260.37,332.68 262.95,331.49 265.58,330.31 268.26,329.13 270.98,327.95 273.76,326.78 276.58,325.62 279.45,324.46" fill="none" stroke="#d42828" stroke-width="0.95" stroke-linejoin="round"/>
<circle cx="192.91" cy="405.78" r="1.35" fill="none" stroke="#d42828" stroke-width="0.6" />
<circle cx="193.21" cy="402.50" r="1.35" fill="none" stroke="#d42828" stroke-width="0.6" />
<circle cx="193.52" cy="400.14" r="1.35" fill="none" stroke="#d42828" stroke-width="0.6" />
<circle cx="193.82" cy="398.24" r="1.35" fill="none" stroke="#d42828" stroke-width="0.6" />
<circle cx="194.13" cy="396.61" r="1.35" fill="none" stroke="#d42828" stroke-width="0.6" />
<circle cx="194.43" cy="395.18" r="1.35" fill="none" stroke="#d42828" stroke-width="0.6" />
<circle cx="194.74" cy="393.89" r="1.35" fill="none" stroke="#d42828" stroke-width="0.6" />
<circle cx="195.04" cy="392.71" r="1.35" fill="none" stroke="#d42828" stroke-width="0.6" />
<circle cx="195.35" cy="391.61" r="1.35" fill="none" stroke="#d42828" stroke-width="0.6" />
<circle cx="195.65" cy="390.60" r="1.35" fill="none" stroke="#d42828" stroke-width="0.6" />
<circle cx="195.96" cy="389.64" r="1.35" fill="none" stroke="#d42828" stroke-width="0.6" />
<circle cx="196.26" cy="388.74" r="1.35" fill="#fff" stroke="#d42828" stroke-width="0.6" />
<circle cx="196.57" cy="387.88" r="1.35" fill="#fff" stroke="#d42828" stroke-width="0.6" />
<circle cx="197.07" cy="386.54" r="1.35" fill="#fff" stroke="#d42828" stroke-width="0.6" />
<circle cx="199.11" cy="381.95" r="1.35" fill="#fff" stroke="#d42828" stroke-width="0.6" />
<circle cx="201.96" cy="376.86" r="1.35" fill="#fff" stroke="#d42828" stroke-width="0.6" />
<circle cx="205.21" cy="372.11" r="1.35" fill="#fff" stroke="#d42828" stroke-width="0.6" />
<circle cx="210.50" cy="365.82" r="1.35" fill="#fff" stroke="#d42828" stroke-width="0.6" />
<circle cx="218.43" cy="358.28" r="1.35" fill="#fff" stroke="#d42828" stroke-width="0.6" />
<circle cx="230.23" cy="349.38" r="1.35" fill="#fff" stroke="#d42828" stroke-width="0.6" />
<circle cx="250.16" cy="337.69" r="1.35" fill="#fff" stroke="#d42828" stroke-width="0.6" />
<circle cx="279.45" cy="324.46" r="1.35" fill="#fff" stroke="#d42828" stroke-width="0.6" />
<rect x="187.20" y="315.00" width="96.80" height="107.40" fill="none" stroke="#8c8c8c" stroke-width="0.7" />
<line x1="187.20" y1="416.80" x2="188.80" y2="416.80" stroke="#777" stroke-width="0.5" />
<text x="184.60" y="418.60" font-size="5.4" font-family='"Liberation Serif", serif' fill="#222" text-anchor="end">0</text>
<line x1="187.20" y1="391.50" x2="188.80" y2="391.50" stroke="#777" stroke-width="0.5" />
<text x="184.60" y="393.30" font-size="5.4" font-family='"Liberation Serif", serif' fill="#222" text-anchor="end">2</text>
<line x1="187.20" y1="366.20" x2="188.80" y2="366.20" stroke="#777" stroke-width="0.5" />
<text x="184.60" y="368.00" font-size="5.4" font-family='"Liberation Serif", serif' fill="#222" text-anchor="end">4</text>
<line x1="187.20" y1="340.90" x2="188.80" y2="340.90" stroke="#777" stroke-width="0.5" />
<text x="184.60" y="342.70" font-size="5.4" font-family='"Liberation Serif", serif' fill="#222" text-anchor="end">6</text>
<line x1="187.20" y1="315.60" x2="188.80" y2="315.60" stroke="#777" stroke-width="0.5" />
<text x="184.60" y="317.40" font-size="5.4" font-family='"Liberation Serif", serif' fill="#222" text-anchor="end">8</text>
<line x1="192.60" y1="422.40" x2="192.60" y2="421.00" stroke="#777" stroke-width="0.5" />
<text x="192.60" y="431.40" font-size="5.6" font-family='"Liberation Serif", serif' fill="#222" text-anchor="middle" textLength="2.40" lengthAdjust="spacingAndGlyphs">0</text>
<line x1="202.77" y1="422.40" x2="202.77" y2="421.00" stroke="#777" stroke-width="0.5" />
<text x="202.77" y="431.40" font-size="5.6" font-family='"Liberation Serif", serif' fill="#222" text-anchor="middle" textLength="4.60" lengthAdjust="spacingAndGlyphs">50</text>
<line x1="212.94" y1="422.40" x2="212.94" y2="421.00" stroke="#777" stroke-width="0.5" />
<text x="212.94" y="431.40" font-size="5.6" font-family='"Liberation Serif", serif' fill="#222" text-anchor="middle" textLength="6.60" lengthAdjust="spacingAndGlyphs">100</text>
<line x1="223.11" y1="422.40" x2="223.11" y2="421.00" stroke="#777" stroke-width="0.5" />
<text x="223.11" y="431.40" font-size="5.6" font-family='"Liberation Serif", serif' fill="#222" text-anchor="middle" textLength="6.60" lengthAdjust="spacingAndGlyphs">150</text>
<line x1="233.28" y1="422.40" x2="233.28" y2="421.00" stroke="#777" stroke-width="0.5" />
<text x="233.28" y="431.40" font-size="5.6" font-family='"Liberation Serif", serif' fill="#222" text-anchor="middle" textLength="6.60" lengthAdjust="spacingAndGlyphs">200</text>
<line x1="243.45" y1="422.40" x2="243.45" y2="421.00" stroke="#777" stroke-width="0.5" />
<text x="243.45" y="431.40" font-size="5.6" font-family='"Liberation Serif", serif' fill="#222" text-anchor="middle" textLength="6.60" lengthAdjust="spacingAndGlyphs">250</text>
<line x1="253.62" y1="422.40" x2="253.62" y2="421.00" stroke="#777" stroke-width="0.5" />
<text x="253.62" y="431.40" font-size="5.6" font-family='"Liberation Serif", serif' fill="#222" text-anchor="middle" textLength="6.60" lengthAdjust="spacingAndGlyphs">300</text>
<line x1="263.79" y1="422.40" x2="263.79" y2="421.00" stroke="#777" stroke-width="0.5" />
<text x="263.79" y="431.40" font-size="5.6" font-family='"Liberation Serif", serif' fill="#222" text-anchor="middle" textLength="6.60" lengthAdjust="spacingAndGlyphs">350</text>
<line x1="273.96" y1="422.40" x2="273.96" y2="421.00" stroke="#777" stroke-width="0.5" />
<text x="273.96" y="431.40" font-size="5.6" font-family='"Liberation Serif", serif' fill="#222" text-anchor="middle" textLength="6.60" lengthAdjust="spacingAndGlyphs">400</text>
<line x1="284.13" y1="422.40" x2="284.13" y2="421.00" stroke="#777" stroke-width="0.5" />
<text x="284.13" y="431.40" font-size="5.6" font-family='"Liberation Serif", serif' fill="#222" text-anchor="middle" textLength="6.60" lengthAdjust="spacingAndGlyphs">450</text>
<text x="234.00" y="444.40" font-size="10" font-family='"Liberation Serif", serif' fill="#1c1c1c" text-anchor="middle" font-weight="bold" textLength="41.40" lengthAdjust="spacingAndGlyphs">Pressure (kPa)</text>
<text x="177.40" y="369.00" font-size="7.6" font-family='"Liberation Serif", serif' fill="#1c1c1c" text-anchor="middle" font-weight="bold" textLength="24.50" lengthAdjust="spacingAndGlyphs" transform="rotate(-90 177.40 369.00)">ΔC/C<tspan font-size="5" dy="1.4">0</tspan></text>
<line x1="190.00" y1="322.60" x2="200.00" y2="322.60" stroke="#d42828" stroke-width="0.95" />
<line x1="211.00" y1="322.60" x2="221.00" y2="322.60" stroke="#d42828" stroke-width="0.95" />
<circle cx="195.00" cy="322.60" r="1.15" fill="#fff" stroke="#d42828" stroke-width="0.5" />
<polygon points="214.50,322.60 216.00,321.00 217.50,322.60 216.00,324.20" fill="#d42828" stroke="none" stroke-width="1" />
<text x="201.20" y="324.50" font-size="5.6" font-family='"Liberation Serif", serif' fill="#222" textLength="5.60" lengthAdjust="spacingAndGlyphs">H3</text>
<text x="222.60" y="324.50" font-size="5.6" font-family='"Liberation Serif", serif' fill="#222" textLength="6.40" lengthAdjust="spacingAndGlyphs">M3</text>
<line x1="190.00" y1="330.50" x2="200.00" y2="330.50" stroke="#358a28" stroke-width="0.95" />
<line x1="211.00" y1="330.50" x2="221.00" y2="330.50" stroke="#358a28" stroke-width="0.95" />
<polygon points="193.60,331.50 195.00,329.00 196.40,331.50" fill="#fff" stroke="#358a28" stroke-width="0.45" />
<polygon points="214.50,331.60 216.00,328.90 217.50,331.60" fill="#358a28" stroke="none" stroke-width="1" />
<text x="201.20" y="332.40" font-size="5.6" font-family='"Liberation Serif", serif' fill="#222" textLength="5.60" lengthAdjust="spacingAndGlyphs">H2</text>
<text x="222.60" y="332.40" font-size="5.6" font-family='"Liberation Serif", serif' fill="#222" textLength="6.40" lengthAdjust="spacingAndGlyphs">M2</text>
<line x1="190.00" y1="338.40" x2="200.00" y2="338.40" stroke="#1c1c1c" stroke-width="0.95" />
<line x1="211.00" y1="338.40" x2="221.00" y2="338.40" stroke="#1c1c1c" stroke-width="0.95" />
<circle cx="195.00" cy="338.40" r="1.15" fill="#fff" stroke="#1c1c1c" stroke-width="0.5" />
<circle cx="216.00" cy="338.40" r="1.3" fill="#1c1c1c" stroke="none" stroke-width="1" />
<text x="201.20" y="340.30" font-size="5.6" font-family='"Liberation Serif", serif' fill="#222" textLength="5.60" lengthAdjust="spacingAndGlyphs">H1</text>
<text x="222.60" y="340.30" font-size="5.6" font-family='"Liberation Serif", serif' fill="#222" textLength="6.40" lengthAdjust="spacingAndGlyphs">M1</text>
<defs><filter id="bl4" x="-10%" y="-10%" width="120%" height="120%"><feGaussianBlur stdDeviation="0.6"/></filter><filter id="bl5" x="-10%" y="-10%" width="120%" height="120%"><feGaussianBlur stdDeviation="0.35"/></filter><radialGradient id="fbg" cx="0.45" cy="0.4" r="0.8"><stop offset="0" stop-color="#52102a"/><stop offset="1" stop-color="#340614"/></radialGradient><clipPath id="fclip"><rect x="332" y="378" width="87.6" height="68.4"/></clipPath></defs>
<g filter="url(#bl5)">
<polygon points="328.00,318.00 352.00,327.00 366.00,352.00 341.00,342.00" fill="#f0f0f3" stroke="none" stroke-width="1" opacity="0.75"/>
<polygon points="322.00,327.00 347.00,336.00 358.00,349.00 333.00,341.00" fill="#ececf0" stroke="none" stroke-width="1" opacity="0.6"/>
<polygon points="327.70,331.00 350.40,332.50 356.00,343.90 330.60,340.60" fill="#4c66bc" stroke="none" stroke-width="1" />
<polygon points="332.00,329.00 344.50,329.70 349.00,340.30 336.20,339.60" fill="#e4e040" stroke="none" stroke-width="1" />
<polygon points="334.00,341.60 349.60,344.00 350.20,345.80 335.00,344.00" fill="#cfd040" stroke="none" stroke-width="1" />
<polygon points="324.00,322.00 348.00,330.00 347.00,333.00 324.00,326.00" fill="#f0f0f4" stroke="none" stroke-width="1" opacity="0.6"/>
</g>
<rect x="329.40" y="338.40" width="3.40" height="3.40" fill="none" stroke="#b41e1e" stroke-width="0.6" />
<line x1="329.40" y1="341.80" x2="323.80" y2="352.40" stroke="#b41e1e" stroke-width="0.9" stroke-dasharray="1.8 1"/>
<line x1="332.80" y1="341.80" x2="360.00" y2="352.40" stroke="#b41e1e" stroke-width="0.9" stroke-dasharray="1.8 1"/>
<rect x="323.80" y="352.40" width="36.20" height="21.20" fill="#fff" stroke="#b41e1e" stroke-width="1.3" stroke-dasharray="2.1 1.1"/>
<g transform="translate(329.4 366.6) rotate(-19.9)">
<rect x="0.00" y="-2.70" width="25.31" height="5.40" fill="#b2b2b2" stroke="none" stroke-width="1" rx="2.7"/>
<line x1="0.60" y1="-2.70" x2="0.60" y2="2.70" stroke="#6c6c6c" stroke-width="0.25" />
<line x1="1.50" y1="-2.70" x2="1.50" y2="2.70" stroke="#6c6c6c" stroke-width="0.25" />
<line x1="2.40" y1="-2.70" x2="2.40" y2="2.70" stroke="#6c6c6c" stroke-width="0.25" />
<line x1="3.30" y1="-2.70" x2="3.30" y2="2.70" stroke="#6c6c6c" stroke-width="0.25" />
<line x1="4.20" y1="-2.70" x2="4.20" y2="2.70" stroke="#6c6c6c" stroke-width="0.25" />
<line x1="5.10" y1="-2.70" x2="5.10" y2="2.70" stroke="#6c6c6c" stroke-width="0.25" />
<line x1="6.00" y1="-2.70" x2="6.00" y2="2.70" stroke="#6c6c6c" stroke-width="0.25" />
<line x1="6.90" y1="-2.70" x2="6.90" y2="2.70" stroke="#6c6c6c" stroke-width="0.25" />
<line x1="7.80" y1="-2.70" x2="7.80" y2="2.70" stroke="#6c6c6c" stroke-width="0.25" />
<line x1="8.70" y1="-2.70" x2="8.70" y2="2.70" stroke="#6c6c6c" stroke-width="0.25" />
<line x1="9.60" y1="-2.70" x2="9.60" y2="2.70" stroke="#6c6c6c" stroke-width="0.25" />
<line x1="10.50" y1="-2.70" x2="10.50" y2="2.70" stroke="#6c6c6c" stroke-width="0.25" />
<line x1="11.40" y1="-2.70" x2="11.40" y2="2.70" stroke="#6c6c6c" stroke-width="0.25" />
<line x1="12.30" y1="-2.70" x2="12.30" y2="2.70" stroke="#6c6c6c" stroke-width="0.25" />
<line x1="13.20" y1="-2.70" x2="13.20" y2="2.70" stroke="#6c6c6c" stroke-width="0.25" />
<line x1="14.10" y1="-2.70" x2="14.10" y2="2.70" stroke="#6c6c6c" stroke-width="0.25" />
<line x1="15.00" y1="-2.70" x2="15.00" y2="2.70" stroke="#6c6c6c" stroke-width="0.25" />
<line x1="15.90" y1="-2.70" x2="15.90" y2="2.70" stroke="#6c6c6c" stroke-width="0.25" />
<line x1="16.80" y1="-2.70" x2="16.80" y2="2.70" stroke="#6c6c6c" stroke-width="0.25" />
<line x1="17.70" y1="-2.70" x2="17.70" y2="2.70" stroke="#6c6c6c" stroke-width="0.25" />
<line x1="18.60" y1="-2.70" x2="18.60" y2="2.70" stroke="#6c6c6c" stroke-width="0.25" />
<line x1="19.50" y1="-2.70" x2="19.50" y2="2.70" stroke="#6c6c6c" stroke-width="0.25" />
<line x1="20.40" y1="-2.70" x2="20.40" y2="2.70" stroke="#6c6c6c" stroke-width="0.25" />
<line x1="21.30" y1="-2.70" x2="21.30" y2="2.70" stroke="#6c6c6c" stroke-width="0.25" />
<line x1="22.20" y1="-2.70" x2="22.20" y2="2.70" stroke="#6c6c6c" stroke-width="0.25" />
<line x1="23.10" y1="-2.70" x2="23.10" y2="2.70" stroke="#6c6c6c" stroke-width="0.25" />
<line x1="24.00" y1="-2.70" x2="24.00" y2="2.70" stroke="#6c6c6c" stroke-width="0.25" />
<line x1="24.90" y1="-2.70" x2="24.90" y2="2.70" stroke="#6c6c6c" stroke-width="0.25" />
<line x1="0.00" y1="-0.94" x2="25.31" y2="-0.94" stroke="#d8d8d8" stroke-width="0.5" />
<ellipse cx="24.71" cy="0.00" rx="1.215" ry="2.43" fill="#c8c8c8" stroke="#777" stroke-width="0.3" />
</g>
<g transform="translate(371.6 371.0) rotate(-21.2)">
<rect x="0.00" y="-1.50" width="10.51" height="3.00" fill="#b2b2b2" stroke="none" stroke-width="1" rx="1.5"/>
<line x1="0.60" y1="-1.50" x2="0.60" y2="1.50" stroke="#6c6c6c" stroke-width="0.25" />
<line x1="1.50" y1="-1.50" x2="1.50" y2="1.50" stroke="#6c6c6c" stroke-width="0.25" />
<line x1="2.40" y1="-1.50" x2="2.40" y2="1.50" stroke="#6c6c6c" stroke-width="0.25" />
<line x1="3.30" y1="-1.50" x2="3.30" y2="1.50" stroke="#6c6c6c" stroke-width="0.25" />
<line x1="4.20" y1="-1.50" x2="4.20" y2="1.50" stroke="#6c6c6c" stroke-width="0.25" />
<line x1="5.10" y1="-1.50" x2="5.10" y2="1.50" stroke="#6c6c6c" stroke-width="0.25" />
<line x1="6.00" y1="-1.50" x2="6.00" y2="1.50" stroke="#6c6c6c" stroke-width="0.25" />
<line x1="6.90" y1="-1.50" x2="6.90" y2="1.50" stroke="#6c6c6c" stroke-width="0.25" />
<line x1="7.80" y1="-1.50" x2="7.80" y2="1.50" stroke="#6c6c6c" stroke-width="0.25" />
<line x1="8.70" y1="-1.50" x2="8.70" y2="1.50" stroke="#6c6c6c" stroke-width="0.25" />
<line x1="9.60" y1="-1.50" x2="9.60" y2="1.50" stroke="#6c6c6c" stroke-width="0.25" />
<line x1="0.00" y1="-0.52" x2="10.51" y2="-0.52" stroke="#d8d8d8" stroke-width="0.5" />
<ellipse cx="9.91" cy="0.00" rx="0.675" ry="1.35" fill="#c8c8c8" stroke="#777" stroke-width="0.3" />
</g>
<polygon points="367.00,319.00 376.00,317.60 379.60,324.40 370.00,325.60" fill="#f2f2f5" stroke="#e8e8ec" stroke-width="0.4" />
<polygon points="367.40,334.80 377.30,333.80 380.20,338.40 371.00,339.80" fill="#4c66bc" stroke="none" stroke-width="1" />
<polygon points="368.80,350.40 377.30,350.00 380.20,356.20 371.20,356.20" fill="#e4e040" stroke="none" stroke-width="1" />
<text x="382.40" y="324.20" font-size="6.4" font-family='"Liberation Sans", sans-serif' fill="#1c1c1c" font-weight="bold" textLength="39.20" lengthAdjust="spacingAndGlyphs">Silicone rubber</text>
<text x="381.60" y="335.80" font-size="6.4" font-family='"Liberation Sans", sans-serif' fill="#1c1c1c" font-weight="bold" textLength="49.40" lengthAdjust="spacingAndGlyphs">As-spun composite</text>
<text x="381.60" y="343.60" font-size="6.4" font-family='"Liberation Sans", sans-serif' fill="#1c1c1c" font-weight="bold" textLength="28.40" lengthAdjust="spacingAndGlyphs">membrane</text>
<text x="385.60" y="356.20" font-size="6.4" font-family='"Liberation Sans", sans-serif' fill="#1c1c1c" font-weight="bold" textLength="32.80" lengthAdjust="spacingAndGlyphs">Au electrode</text>
<text x="385.60" y="370.80" font-size="6.4" font-family='"Liberation Sans", sans-serif' fill="#1c1c1c" font-weight="bold" textLength="45.00" lengthAdjust="spacingAndGlyphs">Carbon nanotube</text>
<rect x="332.00" y="378.00" width="87.60" height="68.40" fill="url(#fbg)" stroke="none" stroke-width="1" />
<g clip-path="url(#fclip)"><g filter="url(#bl4)">
<path d="M340.5,447 C341,436 344,426 346.5,416 C347.5,409 349.5,401.5 354.5,400.6 C359,400.2 361.5,404 360.8,409 C363,407.4 368,406 372,406 C375,406.2 378,407.4 381,408.6 C385,407.6 389.6,409.6 390,412.4 C390.2,415 387,416.6 383.5,417.6 C387,420 388.8,425 387.4,430 C393,431.5 399,436 403.5,447 Z" fill="#f1ece4" stroke="none" stroke-width="1" />
<path d="M344,444 C345,433 349,422 350.5,412 C351,407 353,404 355.5,404.5" fill="none" stroke="#fdfbf7" stroke-width="3.0" stroke-linecap="round"/>
<ellipse cx="376.50" cy="428.50" rx="9.5" ry="8.0" fill="#f9f6f0" stroke="none" stroke-width="1" />
<path d="M375,412.5 C379,410.2 384,410 387.5,411.8" fill="none" stroke="#fbf8f3" stroke-width="2.4" stroke-linecap="round"/>
<path d="M388,436 C393,437 397,441 399,446" fill="none" stroke="#f8f4ee" stroke-width="3" stroke-linecap="round"/>
<path d="M360.4,410 C359.6,415 359.2,419 359.8,422.5" fill="none" stroke="#cbbcaa" stroke-width="0.9" />
<path d="M365,431 C366,423 372,418.6 379,419.4 C384,420 387.6,424 387.2,429.6" fill="none" stroke="#cbbcaa" stroke-width="1.0" />
<path d="M366,436 C370,440 380,440.5 386,435" fill="none" stroke="#d6c9b8" stroke-width="0.9" />
<path d="M372,418.4 C376,416.8 380.6,417 383.6,417.8" fill="none" stroke="#cbbcaa" stroke-width="0.8" />
<path d="M363,414 C366,411.6 371,410.6 376,411.4" fill="none" stroke="#ddd2c2" stroke-width="0.8" />
<path d="M360.2,412.6 C359.4,404 361,398.4 364.6,396.6 C368,395.2 372.4,396 374.6,398 C377.4,400.6 379.4,404.6 379.8,408.8 C377,406.4 373,405.4 369,406.4 C365,407.6 362.4,410 360.2,412.6 Z" fill="#9aa8cc" stroke="none" stroke-width="1" />
<path d="M362.6,405 C363.4,400.4 366,398.2 369.4,398.2 C372.6,398.4 375.2,400.6 376.6,404 C373.6,402.4 370,402.2 366.8,403.2 C365,403.8 363.6,404.4 362.6,405 Z" fill="#6b7ba6" stroke="none" stroke-width="1" />
<path d="M360.6,411.4 C360,404 361.6,399 364.8,397.4" fill="none" stroke="#d4dbee" stroke-width="0.9" />
</g>
<rect x="386.00" y="377.80" width="31.00" height="33.80" fill="#e9e9e5" stroke="none" stroke-width="1" />
<rect x="394.00" y="383.00" width="16.50" height="8.40" fill="#c4c2ba" stroke="#9a988e" stroke-width="0.4" />
<rect x="396.60" y="384.40" width="11.20" height="5.60" fill="#6e5238" stroke="none" stroke-width="1" />
<rect x="399.60" y="385.40" width="4.60" height="3.00" fill="#b08850" stroke="none" stroke-width="1" />
<rect x="388.40" y="395.00" width="28.00" height="13.80" fill="#343434" stroke="none" stroke-width="1" />
<rect x="389.40" y="397.60" width="26.00" height="7.60" fill="#454545" stroke="none" stroke-width="1" />
<circle cx="396.00" cy="401.40" r="0.7" fill="#7a7a7a" stroke="none" stroke-width="1" />
<circle cx="402.00" cy="401.40" r="0.7" fill="#7a7a7a" stroke="none" stroke-width="1" />
<circle cx="408.00" cy="401.40" r="0.7" fill="#7a7a7a" stroke="none" stroke-width="1" />
</g>
<polyline points="444.80,365.60 445.40,364.00 446.00,364.00 446.70,350.00 447.30,342.50 447.90,341.80 448.50,343.50 449.70,349.00 451.25,354.50 452.70,359.00 454.25,362.00 456.50,362.80 457.30,365.50 457.80,366.50 457.87,364.00 458.57,350.00 459.17,342.50 459.77,341.80 460.37,343.50 461.57,349.00 463.12,354.50 464.57,359.00 466.12,362.00 468.37,362.80 469.17,365.50 469.67,366.50 469.74,364.00 470.44,350.00 471.04,342.50 471.64,341.80 472.24,343.50 473.44,349.00 474.99,354.50 476.44,359.00 477.99,362.00 480.24,362.80 481.04,365.50 481.54,366.50 481.61,364.00 482.31,350.00 482.91,342.50 483.51,341.80 484.11,343.50 485.31,349.00 486.86,354.50 488.31,359.00 489.86,362.00 492.11,362.80 492.91,365.50 493.41,366.50 493.48,364.00 494.18,350.00 494.78,342.50 495.38,341.80 495.98,343.50 497.18,349.00 498.73,354.50 500.18,359.00 501.73,362.00 503.98,362.80 504.78,365.50 505.28,366.50 505.35,364.00 506.05,350.00 506.65,342.50 507.25,341.80 507.85,343.50 509.05,349.00 510.60,354.50 512.05,359.00 513.60,362.00 515.85,362.80 516.00,365.50" fill="none" stroke="#2c2c2c" stroke-width="0.7" stroke-linejoin="round"/>
<rect x="444.80" y="318.00" width="71.40" height="53.00" fill="none" stroke="#2a2a2a" stroke-width="0.7" />
<line x1="443.50" y1="365.40" x2="444.80" y2="365.40" stroke="#2a2a2a" stroke-width="0.45" />
<text x="442.60" y="366.60" font-size="3.4" font-family='"Liberation Sans", sans-serif' fill="#222" text-anchor="end" font-weight="bold">0</text>
<line x1="443.50" y1="349.50" x2="444.80" y2="349.50" stroke="#2a2a2a" stroke-width="0.45" />
<text x="442.60" y="350.70" font-size="3.4" font-family='"Liberation Sans", sans-serif' fill="#222" text-anchor="end" font-weight="bold">2</text>
<line x1="443.50" y1="333.60" x2="444.80" y2="333.60" stroke="#2a2a2a" stroke-width="0.45" />
<text x="442.60" y="334.80" font-size="3.4" font-family='"Liberation Sans", sans-serif' fill="#222" text-anchor="end" font-weight="bold">4</text>
<line x1="443.50" y1="317.70" x2="444.80" y2="317.70" stroke="#2a2a2a" stroke-width="0.45" />
<text x="442.60" y="318.90" font-size="3.4" font-family='"Liberation Sans", sans-serif' fill="#222" text-anchor="end" font-weight="bold">6</text>
<line x1="444.80" y1="371.00" x2="444.80" y2="372.30" stroke="#2a2a2a" stroke-width="0.45" />
<text x="444.80" y="375.60" font-size="3.4" font-family='"Liberation Sans", sans-serif' fill="#222" text-anchor="middle" font-weight="bold">0</text>
<line x1="459.00" y1="371.00" x2="459.00" y2="372.30" stroke="#2a2a2a" stroke-width="0.45" />
<text x="459.00" y="375.60" font-size="3.4" font-family='"Liberation Sans", sans-serif' fill="#222" text-anchor="middle" font-weight="bold">2</text>
<line x1="473.20" y1="371.00" x2="473.20" y2="372.30" stroke="#2a2a2a" stroke-width="0.45" />
<text x="473.20" y="375.60" font-size="3.4" font-family='"Liberation Sans", sans-serif' fill="#222" text-anchor="middle" font-weight="bold">4</text>
<line x1="487.40" y1="371.00" x2="487.40" y2="372.30" stroke="#2a2a2a" stroke-width="0.45" />
<text x="487.40" y="375.60" font-size="3.4" font-family='"Liberation Sans", sans-serif' fill="#222" text-anchor="middle" font-weight="bold">6</text>
<line x1="501.60" y1="371.00" x2="501.60" y2="372.30" stroke="#2a2a2a" stroke-width="0.45" />
<text x="501.60" y="375.60" font-size="3.4" font-family='"Liberation Sans", sans-serif' fill="#222" text-anchor="middle" font-weight="bold">8</text>
<line x1="515.80" y1="371.00" x2="515.80" y2="372.30" stroke="#2a2a2a" stroke-width="0.45" />
<text x="515.80" y="375.60" font-size="3.4" font-family='"Liberation Sans", sans-serif' fill="#222" text-anchor="middle" font-weight="bold">10</text>
<text x="479.00" y="380.20" font-size="4.8" font-family='"Liberation Sans", sans-serif' fill="#222" text-anchor="middle" font-weight="bold">Time (s)</text>
<text x="439.20" y="346.50" font-size="4.8" font-family='"Liberation Sans", sans-serif' fill="#222" text-anchor="middle" font-weight="bold" transform="rotate(-90 439.20 346.50)">Voltage (V)</text>
<rect x="453.00" y="319.00" width="53.20" height="19.20" fill="#fff" stroke="#888" stroke-width="0.35" />
<polyline points="454.30,335.60 455.60,334.00 457.40,327.00 459.50,324.50 462.00,325.60 466.00,329.60 470.00,332.60 476.00,334.00 482.00,334.20 484.60,333.00 485.60,326.00 487.30,323.00 489.60,325.40 492.00,328.60 494.00,330.50 499.00,333.00 506.00,334.30" fill="none" stroke="#50d040" stroke-width="0.7" stroke-linejoin="round"/>
<line x1="485.80" y1="320.40" x2="485.80" y2="338.00" stroke="#d04040" stroke-width="0.35" stroke-dasharray="0.8 0.6"/>
<rect x="459.00" y="332.90" width="5.20" height="1.80" fill="#4a78c8" stroke="none" stroke-width="1" opacity="0.75"/>
<line x1="458.60" y1="335.40" x2="464.60" y2="335.40" stroke="#d06060" stroke-width="0.35" />
<rect x="474.40" y="328.50" width="5.20" height="1.80" fill="#4a78c8" stroke="none" stroke-width="1" opacity="0.75"/>
<line x1="474.00" y1="331.00" x2="480.00" y2="331.00" stroke="#d06060" stroke-width="0.35" />
<rect x="485.00" y="320.30" width="5.20" height="1.80" fill="#4ab8c8" stroke="none" stroke-width="1" opacity="0.75"/>
<line x1="484.60" y1="322.80" x2="490.60" y2="322.80" stroke="#d06060" stroke-width="0.35" />
<rect x="497.00" y="327.70" width="5.20" height="1.80" fill="#4a78c8" stroke="none" stroke-width="1" opacity="0.75"/>
<line x1="496.60" y1="330.20" x2="502.60" y2="330.20" stroke="#d06060" stroke-width="0.35" />
<text x="477.40" y="326.00" font-size="2.2" font-family='"Liberation Sans", sans-serif' fill="#222" text-anchor="middle" font-weight="bold">compressing</text>
<text x="499.60" y="325.40" font-size="2.2" font-family='"Liberation Sans", sans-serif' fill="#222" text-anchor="middle" font-weight="bold">releasing</text>
<text x="478.40" y="342.60" font-size="2.4" font-family='"Liberation Sans", sans-serif' fill="#333" text-anchor="middle" font-weight="bold">Time (s)</text>
<text x="451.20" y="330.00" font-size="1.8" font-family='"Liberation Sans", sans-serif' fill="#333" text-anchor="middle" font-weight="bold" transform="rotate(-90 451.20 330.00)">Voltage (V)</text>
<line x1="452.90" y1="424.30" x2="510.70" y2="385.00" stroke="#e03c30" stroke-width="0.8" />
<rect x="452.77" y="426.90" width="1.20" height="1.20" fill="#222" stroke="none" stroke-width="1" />
<rect x="459.15" y="418.70" width="1.20" height="1.20" fill="#222" stroke="none" stroke-width="1" />
<rect x="465.52" y="413.90" width="1.20" height="1.20" fill="#222" stroke="none" stroke-width="1" />
<rect x="471.90" y="409.40" width="1.20" height="1.20" fill="#222" stroke="none" stroke-width="1" />
<rect x="478.27" y="405.10" width="1.20" height="1.20" fill="#222" stroke="none" stroke-width="1" />
<rect x="484.65" y="399.70" width="1.20" height="1.20" fill="#222" stroke="none" stroke-width="1" />
<rect x="491.02" y="396.00" width="1.20" height="1.20" fill="#222" stroke="none" stroke-width="1" />
<rect x="497.40" y="392.70" width="1.20" height="1.20" fill="#222" stroke="none" stroke-width="1" />
<rect x="503.77" y="389.90" width="1.20" height="1.20" fill="#222" stroke="none" stroke-width="1" />
<rect x="510.15" y="387.20" width="1.20" height="1.20" fill="#222" stroke="none" stroke-width="1" />
<rect x="446.40" y="382.40" width="71.30" height="52.80" fill="none" stroke="#2a2a2a" stroke-width="0.7" />
<line x1="445.10" y1="382.40" x2="446.40" y2="382.40" stroke="#2a2a2a" stroke-width="0.45" />
<text x="444.20" y="383.60" font-size="3.2" font-family='"Liberation Sans", sans-serif' fill="#222" text-anchor="end" font-weight="bold">6.5</text>
<line x1="445.10" y1="390.40" x2="446.40" y2="390.40" stroke="#2a2a2a" stroke-width="0.45" />
<text x="444.20" y="391.60" font-size="3.2" font-family='"Liberation Sans", sans-serif' fill="#222" text-anchor="end" font-weight="bold">6.0</text>
<line x1="445.10" y1="398.40" x2="446.40" y2="398.40" stroke="#2a2a2a" stroke-width="0.45" />
<text x="444.20" y="399.60" font-size="3.2" font-family='"Liberation Sans", sans-serif' fill="#222" text-anchor="end" font-weight="bold">5.5</text>
<line x1="445.10" y1="406.40" x2="446.40" y2="406.40" stroke="#2a2a2a" stroke-width="0.45" />
<text x="444.20" y="407.60" font-size="3.2" font-family='"Liberation Sans", sans-serif' fill="#222" text-anchor="end" font-weight="bold">5.0</text>
<line x1="445.10" y1="414.40" x2="446.40" y2="414.40" stroke="#2a2a2a" stroke-width="0.45" />
<text x="444.20" y="415.60" font-size="3.2" font-family='"Liberation Sans", sans-serif' fill="#222" text-anchor="end" font-weight="bold">4.5</text>
<line x1="445.10" y1="422.40" x2="446.40" y2="422.40" stroke="#2a2a2a" stroke-width="0.45" />
<text x="444.20" y="423.60" font-size="3.2" font-family='"Liberation Sans", sans-serif' fill="#222" text-anchor="end" font-weight="bold">4.0</text>
<line x1="445.10" y1="430.40" x2="446.40" y2="430.40" stroke="#2a2a2a" stroke-width="0.45" />
<text x="444.20" y="431.60" font-size="3.2" font-family='"Liberation Sans", sans-serif' fill="#222" text-anchor="end" font-weight="bold">3.5</text>
<line x1="447.00" y1="435.20" x2="447.00" y2="436.50" stroke="#2a2a2a" stroke-width="0.45" />
<text x="447.00" y="439.40" font-size="3.4" font-family='"Liberation Sans", sans-serif' fill="#222" text-anchor="middle" font-weight="bold">0</text>
<line x1="459.75" y1="435.20" x2="459.75" y2="436.50" stroke="#2a2a2a" stroke-width="0.45" />
<text x="459.75" y="439.40" font-size="3.4" font-family='"Liberation Sans", sans-serif' fill="#222" text-anchor="middle" font-weight="bold">1</text>
<line x1="472.50" y1="435.20" x2="472.50" y2="436.50" stroke="#2a2a2a" stroke-width="0.45" />
<text x="472.50" y="439.40" font-size="3.4" font-family='"Liberation Sans", sans-serif' fill="#222" text-anchor="middle" font-weight="bold">2</text>
<line x1="485.25" y1="435.20" x2="485.25" y2="436.50" stroke="#2a2a2a" stroke-width="0.45" />
<text x="485.25" y="439.40" font-size="3.4" font-family='"Liberation Sans", sans-serif' fill="#222" text-anchor="middle" font-weight="bold">3</text>
<line x1="498.00" y1="435.20" x2="498.00" y2="436.50" stroke="#2a2a2a" stroke-width="0.45" />
<text x="498.00" y="439.40" font-size="3.4" font-family='"Liberation Sans", sans-serif' fill="#222" text-anchor="middle" font-weight="bold">4</text>
<line x1="510.75" y1="435.20" x2="510.75" y2="436.50" stroke="#2a2a2a" stroke-width="0.45" />
<text x="510.75" y="439.40" font-size="3.4" font-family='"Liberation Sans", sans-serif' fill="#222" text-anchor="middle" font-weight="bold">5</text>
<text x="482.00" y="445.80" font-size="4.9" font-family='"Liberation Sans", sans-serif' fill="#222" text-anchor="middle" font-weight="bold">Force (N)</text>
<text x="436.00" y="410.00" font-size="4.6" font-family='"Liberation Sans", sans-serif' fill="#222" text-anchor="middle" font-weight="bold" transform="rotate(-90 436.00 410.00)">Voltage (V)</text>
<text x="496.50" y="427.20" font-size="3.4" font-family='"Liberation Sans", sans-serif' fill="#222" text-anchor="middle" font-weight="bold">R²=0.98</text>
</svg>
</body></html>
